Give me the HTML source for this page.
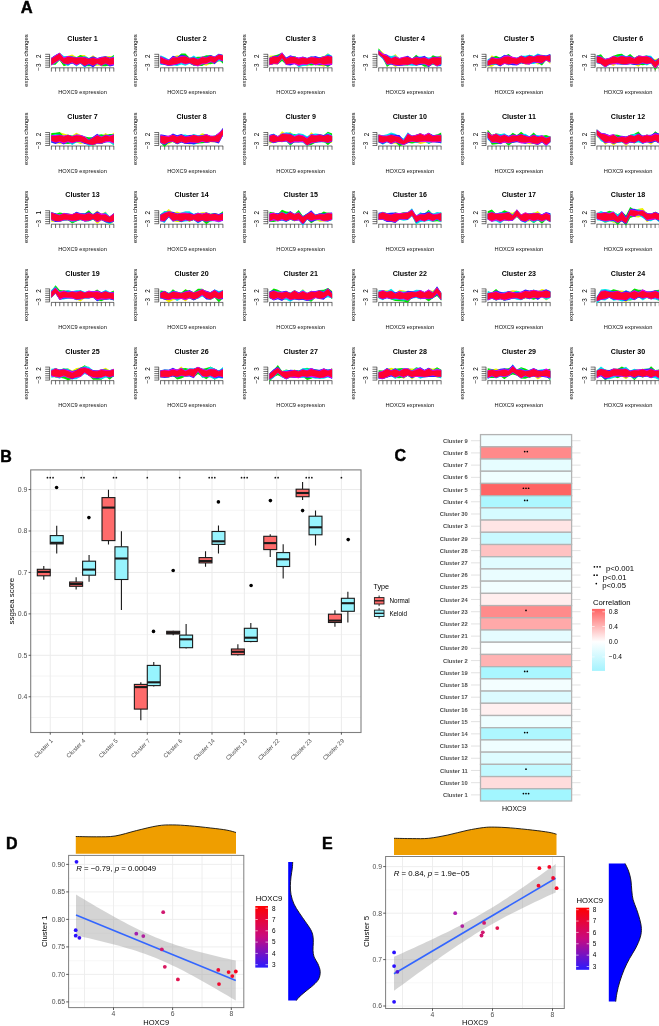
<!DOCTYPE html>
<html><head><meta charset="utf-8"><style>
html,body{margin:0;padding:0;background:#fff;}
svg{display:block;will-change:transform;}
text{font-family:"Liberation Sans", sans-serif;}
</style></head><body>
<svg width="659" height="1026" viewBox="0 0 659 1026">
<rect width="659" height="1026" fill="#fff"/>
<text x="20.80" y="13.20" font-size="16.5" fill="#000" text-anchor="start" font-weight="bold" stroke="#000" stroke-width="0.45">A</text>
<text x="82.50" y="40.90" font-size="7.1" fill="#000" text-anchor="middle" font-weight="bold">Cluster 1</text>
<text x="27.80" y="60.50" font-size="5.9" fill="#000" text-anchor="middle" transform="rotate(-90 27.8 60.5)">expression changes</text>
<text x="41.20" y="56.30" font-size="6.3" fill="#000" text-anchor="middle" transform="rotate(-90 41.2 56.3)">2</text>
<text x="41.20" y="67.10" font-size="6.3" fill="#000" text-anchor="middle" transform="rotate(-90 41.2 67.1)">−3</text>
<text x="82.50" y="94.30" font-size="5.7" fill="#111" text-anchor="middle">HOXC9 expression</text>
<path d="M45.20 54.30H49.80M45.20 56.47H49.80M45.20 58.64H49.80M45.20 60.81H49.80M45.20 62.98H49.80M45.20 65.15H49.80M45.20 67.32H49.80M49.60 54.30V67.30M51.20 67.80H114.00M51.40 67.80V71.60M55.56 67.80V71.60M59.72 67.80V71.60M63.88 67.80V71.60M68.04 67.80V71.60M72.20 67.80V71.60M76.36 67.80V71.60M80.52 67.80V71.60M84.68 67.80V71.60M88.84 67.80V71.60M93.00 67.80V71.60M97.16 67.80V71.60M101.32 67.80V71.60M105.48 67.80V71.60M109.64 67.80V71.60M113.80 67.80V71.60" stroke="#333" stroke-width="0.7" fill="none"/>
<polygon points="51.30,58.08 55.47,55.82 59.65,52.54 63.82,57.83 67.99,55.86 72.17,54.55 76.34,56.94 80.51,54.89 84.69,54.99 88.86,58.32 93.03,55.34 97.21,58.26 101.38,57.19 105.55,56.52 109.73,55.96 113.90,57.01 113.90,64.32 109.73,65.50 105.55,66.12 101.38,65.57 97.21,65.66 93.03,66.23 88.86,64.32 84.69,65.97 80.51,64.03 76.34,64.74 72.17,63.22 67.99,64.97 63.82,65.67 59.65,60.54 55.47,63.07 51.30,65.12" fill="#f0f000"/>
<polygon points="51.30,58.09 55.47,55.37 59.65,53.28 63.82,57.70 67.99,56.22 72.17,56.83 76.34,57.57 80.51,55.12 84.69,57.22 88.86,57.94 93.03,57.42 97.21,58.54 101.38,57.24 105.55,56.54 109.73,57.94 113.90,54.73 113.90,65.02 109.73,65.37 105.55,66.20 101.38,66.24 97.21,63.62 93.03,65.99 88.86,66.23 84.69,66.06 80.51,63.43 76.34,65.09 72.17,63.12 67.99,64.55 63.82,66.24 59.65,60.26 55.47,64.81 51.30,64.85" fill="#00e000"/>
<polygon points="51.30,58.60 55.47,55.18 59.65,53.12 63.82,56.08 67.99,55.98 72.17,56.40 76.34,57.03 80.51,57.40 84.69,56.07 88.86,58.09 93.03,57.21 97.21,58.38 101.38,57.38 105.55,56.88 109.73,58.25 113.90,55.89 113.90,64.83 109.73,65.62 105.55,63.68 101.38,65.67 97.21,64.32 93.03,66.51 88.86,64.16 84.69,67.82 80.51,63.61 76.34,66.42 72.17,62.77 67.99,66.17 63.82,63.52 59.65,60.09 55.47,62.98 51.30,65.62" fill="#00e8e8"/>
<polygon points="51.30,57.77 55.47,54.98 59.65,52.81 63.82,58.00 67.99,55.88 72.17,56.62 76.34,57.61 80.51,57.02 84.69,56.83 88.86,58.23 93.03,56.28 97.21,57.88 101.38,56.84 105.55,56.15 109.73,57.58 113.90,56.89 113.90,65.55 109.73,66.44 105.55,64.06 101.38,65.54 97.21,63.79 93.03,67.43 88.86,64.64 84.69,66.76 80.51,63.44 76.34,65.38 72.17,63.42 67.99,64.68 63.82,63.77 59.65,59.95 55.47,62.85 51.30,65.24" fill="#3020ff"/>
<polygon points="51.30,58.28 55.47,55.27 59.65,52.64 63.82,57.30 67.99,55.92 72.17,57.06 76.34,57.64 80.51,56.81 84.69,57.37 88.86,58.68 93.03,57.40 97.21,58.13 101.38,57.19 105.55,56.80 109.73,58.03 113.90,57.11 113.90,64.71 109.73,65.44 105.55,63.47 101.38,65.88 97.21,63.87 93.03,65.80 88.86,64.02 84.69,66.03 80.51,63.37 76.34,65.39 72.17,62.64 67.99,64.55 63.82,63.85 59.65,60.05 55.47,62.72 51.30,65.38" fill="#e000f0"/>
<polygon points="51.30,58.80 55.47,56.08 59.65,53.53 63.82,58.54 67.99,56.65 72.17,57.34 76.34,57.88 80.51,57.62 84.69,57.82 88.86,58.88 93.03,57.67 97.21,59.13 101.38,57.73 105.55,57.12 109.73,58.48 113.90,57.78 113.90,64.04 109.73,64.67 105.55,63.17 101.38,65.29 97.21,63.36 93.03,65.45 88.86,63.62 84.69,65.67 80.51,63.09 76.34,64.43 72.17,62.28 67.99,64.12 63.82,63.16 59.65,59.55 55.47,62.07 51.30,64.63" fill="#ff0032"/>
<text x="191.60" y="40.90" font-size="7.1" fill="#000" text-anchor="middle" font-weight="bold">Cluster 2</text>
<text x="136.90" y="60.50" font-size="5.9" fill="#000" text-anchor="middle" transform="rotate(-90 136.9 60.5)">expression changes</text>
<text x="150.30" y="56.30" font-size="6.3" fill="#000" text-anchor="middle" transform="rotate(-90 150.3 56.3)">2</text>
<text x="150.30" y="67.10" font-size="6.3" fill="#000" text-anchor="middle" transform="rotate(-90 150.3 67.1)">−3</text>
<text x="191.60" y="94.30" font-size="5.7" fill="#111" text-anchor="middle">HOXC9 expression</text>
<path d="M154.30 54.30H158.90M154.30 56.47H158.90M154.30 58.64H158.90M154.30 60.81H158.90M154.30 62.98H158.90M154.30 65.15H158.90M154.30 67.32H158.90M158.70 54.30V67.30M160.30 67.80H223.10M160.50 67.80V71.60M164.66 67.80V71.60M168.82 67.80V71.60M172.98 67.80V71.60M177.14 67.80V71.60M181.30 67.80V71.60M185.46 67.80V71.60M189.62 67.80V71.60M193.78 67.80V71.60M197.94 67.80V71.60M202.10 67.80V71.60M206.26 67.80V71.60M210.42 67.80V71.60M214.58 67.80V71.60M218.74 67.80V71.60M222.90 67.80V71.60" stroke="#333" stroke-width="0.7" fill="none"/>
<polygon points="160.40,56.09 164.57,58.61 168.75,59.69 172.92,56.87 177.09,55.33 181.27,56.31 185.44,55.90 189.61,58.06 193.79,57.34 197.96,59.07 202.13,56.65 206.31,57.26 210.48,54.99 214.65,56.66 218.83,54.41 223.00,54.81 223.00,61.58 218.83,61.41 214.65,63.54 210.48,63.80 206.31,65.78 202.13,64.53 197.96,65.81 193.79,65.51 189.61,63.51 185.44,64.10 181.27,63.34 177.09,64.51 172.92,64.73 168.75,65.91 164.57,64.65 160.40,63.16" fill="#f0f000"/>
<polygon points="160.40,56.03 164.57,58.54 168.75,59.99 172.92,57.15 177.09,57.24 181.27,53.54 185.44,53.62 189.61,57.73 193.79,57.20 197.96,56.83 202.13,56.66 206.31,55.16 210.48,55.22 214.65,56.83 218.83,53.96 223.00,55.16 223.00,63.82 218.83,59.71 214.65,63.05 210.48,64.14 206.31,63.62 202.13,66.05 197.96,65.75 193.79,65.69 189.61,63.72 185.44,64.33 181.27,62.96 177.09,64.29 172.92,65.22 168.75,65.64 164.57,64.32 160.40,63.24" fill="#00e000"/>
<polygon points="160.40,55.19 164.57,56.90 168.75,59.37 172.92,57.13 177.09,57.50 181.27,56.09 185.44,56.37 189.61,58.22 193.79,55.51 197.96,58.61 202.13,56.66 206.31,57.10 210.48,55.62 214.65,56.29 218.83,53.71 223.00,54.97 223.00,61.15 218.83,61.24 214.65,63.11 210.48,61.84 206.31,63.73 202.13,64.15 197.96,66.32 193.79,65.13 189.61,63.84 185.44,65.64 181.27,64.41 177.09,66.00 172.92,65.23 168.75,66.01 164.57,64.35 160.40,65.23" fill="#00e8e8"/>
<polygon points="160.40,56.20 164.57,58.02 168.75,59.72 172.92,55.78 177.09,56.93 181.27,54.80 185.44,55.38 189.61,58.11 193.79,57.27 197.96,58.82 202.13,56.64 206.31,56.84 210.48,55.07 214.65,56.86 218.83,53.74 223.00,55.03 223.00,61.83 218.83,59.79 214.65,64.23 210.48,61.60 206.31,63.71 202.13,64.12 197.96,65.60 193.79,65.58 189.61,63.34 185.44,64.11 181.27,62.85 177.09,64.71 172.92,65.22 168.75,66.00 164.57,65.12 160.40,63.67" fill="#3020ff"/>
<polygon points="160.40,55.99 164.57,58.48 168.75,59.80 172.92,56.96 177.09,57.33 181.27,55.92 185.44,56.19 189.61,58.07 193.79,57.44 197.96,59.24 202.13,56.40 206.31,57.53 210.48,55.68 214.65,56.52 218.83,54.25 223.00,55.14 223.00,61.20 218.83,59.63 214.65,62.85 210.48,62.18 206.31,64.15 202.13,64.19 197.96,66.41 193.79,65.23 189.61,63.28 185.44,64.53 181.27,62.90 177.09,64.26 172.92,65.20 168.75,65.84 164.57,64.50 160.40,63.44" fill="#e000f0"/>
<polygon points="160.40,56.92 164.57,59.15 168.75,60.39 172.92,57.60 177.09,57.75 181.27,56.72 185.44,56.58 189.61,58.60 193.79,57.66 197.96,59.46 202.13,57.30 206.31,57.74 210.48,55.94 214.65,57.25 218.83,54.68 223.00,55.46 223.00,60.68 218.83,59.09 214.65,62.68 210.48,61.37 206.31,63.27 202.13,63.54 197.96,65.39 193.79,64.81 189.61,62.78 185.44,63.84 181.27,62.61 177.09,63.82 172.92,64.50 168.75,65.24 164.57,64.07 160.40,62.94" fill="#ff0032"/>
<text x="300.70" y="40.90" font-size="7.1" fill="#000" text-anchor="middle" font-weight="bold">Cluster 3</text>
<text x="246.00" y="60.50" font-size="5.9" fill="#000" text-anchor="middle" transform="rotate(-90 246.0 60.5)">expression changes</text>
<text x="259.40" y="56.30" font-size="6.3" fill="#000" text-anchor="middle" transform="rotate(-90 259.4 56.3)">2</text>
<text x="259.40" y="67.10" font-size="6.3" fill="#000" text-anchor="middle" transform="rotate(-90 259.4 67.1)">−3</text>
<text x="300.70" y="94.30" font-size="5.7" fill="#111" text-anchor="middle">HOXC9 expression</text>
<path d="M263.40 54.30H268.00M263.40 56.47H268.00M263.40 58.64H268.00M263.40 60.81H268.00M263.40 62.98H268.00M263.40 65.15H268.00M263.40 67.32H268.00M267.80 54.30V67.30M269.40 67.80H332.20M269.60 67.80V71.60M273.76 67.80V71.60M277.92 67.80V71.60M282.08 67.80V71.60M286.24 67.80V71.60M290.40 67.80V71.60M294.56 67.80V71.60M298.72 67.80V71.60M302.88 67.80V71.60M307.04 67.80V71.60M311.20 67.80V71.60M315.36 67.80V71.60M319.52 67.80V71.60M323.68 67.80V71.60M327.84 67.80V71.60M332.00 67.80V71.60" stroke="#333" stroke-width="0.7" fill="none"/>
<polygon points="269.50,55.66 273.67,55.62 277.85,56.28 282.02,52.79 286.19,58.52 290.37,56.38 294.54,55.94 298.71,58.38 302.89,56.65 307.06,58.22 311.23,56.71 315.41,57.43 319.58,57.22 323.75,56.33 327.93,53.25 332.10,56.42 332.10,63.76 327.93,64.70 323.75,66.84 319.58,65.24 315.41,65.18 311.23,63.73 307.06,66.41 302.89,63.97 298.71,65.29 294.54,63.50 290.37,63.88 286.19,65.12 282.02,58.42 277.85,64.23 273.67,64.19 269.50,65.32" fill="#f0f000"/>
<polygon points="269.50,57.98 273.67,55.73 277.85,54.58 282.02,52.78 286.19,57.99 290.37,56.25 294.54,55.95 298.71,58.15 302.89,57.00 307.06,58.20 311.23,56.67 315.41,57.26 319.58,57.33 323.75,56.37 327.93,55.40 332.10,56.78 332.10,64.09 327.93,66.92 323.75,65.09 319.58,65.47 315.41,65.12 311.23,65.51 307.06,64.91 302.89,64.44 298.71,65.63 294.54,63.17 290.37,64.50 286.19,64.75 282.02,61.08 277.85,64.18 273.67,63.90 269.50,64.78" fill="#00e000"/>
<polygon points="269.50,58.28 273.67,56.10 277.85,56.48 282.02,52.73 286.19,57.92 290.37,56.56 294.54,56.32 298.71,57.96 302.89,56.88 307.06,58.08 311.23,56.11 315.41,57.44 319.58,57.82 323.75,56.63 327.93,53.54 332.10,56.04 332.10,63.74 327.93,64.06 323.75,65.20 319.58,63.94 315.41,65.14 311.23,63.45 307.06,65.83 302.89,66.12 298.71,67.19 294.54,63.56 290.37,64.61 286.19,65.06 282.02,58.97 277.85,63.88 273.67,63.97 269.50,64.80" fill="#00e8e8"/>
<polygon points="269.50,57.64 273.67,56.02 277.85,55.87 282.02,52.87 286.19,57.59 290.37,55.34 294.54,56.67 298.71,57.85 302.89,56.62 307.06,58.03 311.23,56.92 315.41,55.95 319.58,57.52 323.75,56.41 327.93,54.93 332.10,55.88 332.10,64.79 327.93,65.72 323.75,64.91 319.58,64.64 315.41,65.31 311.23,63.46 307.06,64.60 302.89,64.44 298.71,65.54 294.54,63.91 290.37,65.41 286.19,64.94 282.02,58.22 277.85,63.88 273.67,63.92 269.50,65.36" fill="#3020ff"/>
<polygon points="269.50,57.87 273.67,56.29 277.85,56.67 282.02,52.21 286.19,58.40 290.37,56.28 294.54,56.72 298.71,57.54 302.89,56.94 307.06,57.92 311.23,56.51 315.41,57.55 319.58,57.92 323.75,56.35 327.93,55.70 332.10,56.38 332.10,64.69 327.93,64.91 323.75,65.15 319.58,64.17 315.41,65.17 311.23,63.25 307.06,64.77 302.89,64.86 298.71,65.95 294.54,64.30 290.37,63.94 286.19,64.88 282.02,58.46 277.85,64.45 273.67,64.11 269.50,65.34" fill="#e000f0"/>
<polygon points="269.50,58.60 273.67,56.60 277.85,57.00 282.02,53.55 286.19,58.74 290.37,57.11 294.54,56.88 298.71,58.66 302.89,57.56 307.06,58.51 311.23,57.20 315.41,57.66 319.58,58.17 323.75,57.03 327.93,55.99 332.10,57.03 332.10,63.39 327.93,63.79 323.75,64.40 319.58,62.99 315.41,64.29 311.23,63.07 307.06,64.16 302.89,63.65 298.71,64.73 294.54,62.96 290.37,63.53 286.19,64.29 282.02,57.90 277.85,63.57 273.67,63.49 269.50,64.47" fill="#ff0032"/>
<text x="409.80" y="40.90" font-size="7.1" fill="#000" text-anchor="middle" font-weight="bold">Cluster 4</text>
<text x="355.10" y="60.50" font-size="5.9" fill="#000" text-anchor="middle" transform="rotate(-90 355.09999999999997 60.5)">expression changes</text>
<text x="368.50" y="56.30" font-size="6.3" fill="#000" text-anchor="middle" transform="rotate(-90 368.49999999999994 56.3)">2</text>
<text x="368.50" y="67.10" font-size="6.3" fill="#000" text-anchor="middle" transform="rotate(-90 368.49999999999994 67.1)">−3</text>
<text x="409.80" y="94.30" font-size="5.7" fill="#111" text-anchor="middle">HOXC9 expression</text>
<path d="M372.50 54.30H377.10M372.50 56.47H377.10M372.50 58.64H377.10M372.50 60.81H377.10M372.50 62.98H377.10M372.50 65.15H377.10M372.50 67.32H377.10M376.90 54.30V67.30M378.50 67.80H441.30M378.70 67.80V71.60M382.86 67.80V71.60M387.02 67.80V71.60M391.18 67.80V71.60M395.34 67.80V71.60M399.50 67.80V71.60M403.66 67.80V71.60M407.82 67.80V71.60M411.98 67.80V71.60M416.14 67.80V71.60M420.30 67.80V71.60M424.46 67.80V71.60M428.62 67.80V71.60M432.78 67.80V71.60M436.94 67.80V71.60M441.10 67.80V71.60" stroke="#333" stroke-width="0.7" fill="none"/>
<polygon points="378.60,48.38 382.77,52.23 386.95,55.81 391.12,57.99 395.29,54.07 399.47,58.53 403.64,57.38 407.81,56.52 411.99,58.17 416.16,57.17 420.33,57.78 424.51,57.29 428.68,58.67 432.85,57.11 437.03,57.06 441.20,55.28 441.20,64.74 437.03,65.85 432.85,63.83 428.68,66.05 424.51,64.04 420.33,64.20 416.16,65.70 411.99,63.79 407.81,65.23 403.64,64.98 399.47,65.24 395.29,67.08 391.12,64.17 386.95,64.92 382.77,58.43 378.60,55.13" fill="#f0f000"/>
<polygon points="378.60,48.13 382.77,53.99 386.95,55.61 391.12,58.12 395.29,56.55 399.47,58.58 403.64,57.20 407.81,56.69 411.99,58.70 416.16,54.76 420.33,58.13 424.51,56.86 428.68,59.23 432.85,55.19 437.03,56.85 441.20,56.86 441.20,64.17 437.03,66.32 432.85,64.39 428.68,66.51 424.51,66.85 420.33,64.26 416.16,65.50 411.99,63.85 407.81,65.45 403.64,65.25 399.47,65.79 395.29,65.08 391.12,64.09 386.95,66.92 382.77,58.34 378.60,54.96" fill="#00e000"/>
<polygon points="378.60,48.67 382.77,54.12 386.95,55.34 391.12,56.10 395.29,55.30 399.47,58.66 403.64,57.38 407.81,56.64 411.99,58.48 416.16,56.98 420.33,56.42 424.51,56.78 428.68,57.58 432.85,57.09 437.03,56.84 441.20,57.02 441.20,65.89 437.03,66.42 432.85,64.09 428.68,65.86 424.51,64.48 420.33,64.19 416.16,65.83 411.99,65.81 407.81,65.21 403.64,65.32 399.47,65.82 395.29,65.24 391.12,64.36 386.95,64.79 382.77,59.29 378.60,55.02" fill="#00e8e8"/>
<polygon points="378.60,50.10 382.77,53.67 386.95,54.50 391.12,58.04 395.29,56.70 399.47,58.03 403.64,56.98 407.81,55.76 411.99,58.51 416.16,56.29 420.33,57.34 424.51,55.83 428.68,59.10 432.85,57.01 437.03,56.72 441.20,56.79 441.20,65.14 437.03,66.30 432.85,63.86 428.68,67.14 424.51,64.05 420.33,65.08 416.16,65.44 411.99,63.93 407.81,64.93 403.64,65.28 399.47,65.94 395.29,65.87 391.12,64.48 386.95,64.58 382.77,58.28 378.60,54.55" fill="#3020ff"/>
<polygon points="378.60,50.20 382.77,53.57 386.95,55.23 391.12,58.13 395.29,56.18 399.47,58.11 403.64,56.76 407.81,56.73 411.99,58.31 416.16,57.04 420.33,57.78 424.51,57.26 428.68,58.75 432.85,57.19 437.03,57.43 441.20,56.85 441.20,64.19 437.03,66.41 432.85,63.81 428.68,66.19 424.51,64.22 420.33,63.90 416.16,65.35 411.99,64.10 407.81,64.84 403.64,65.18 399.47,65.50 395.29,65.45 391.12,63.81 386.95,64.77 382.77,57.73 378.60,55.00" fill="#e000f0"/>
<polygon points="378.60,51.04 382.77,54.66 386.95,56.06 391.12,58.57 395.29,56.91 399.47,59.06 403.64,57.59 407.81,57.11 411.99,59.06 416.16,57.40 420.33,58.34 424.51,57.69 428.68,59.43 432.85,57.61 437.03,57.76 441.20,57.68 441.20,63.77 437.03,65.64 432.85,63.44 428.68,65.58 424.51,63.78 420.33,63.48 416.16,65.03 411.99,63.55 407.81,64.72 403.64,64.52 399.47,64.98 395.29,64.64 391.12,63.61 386.95,64.02 382.77,57.53 378.60,54.34" fill="#ff0032"/>
<text x="518.90" y="40.90" font-size="7.1" fill="#000" text-anchor="middle" font-weight="bold">Cluster 5</text>
<text x="464.20" y="60.50" font-size="5.9" fill="#000" text-anchor="middle" transform="rotate(-90 464.2 60.5)">expression changes</text>
<text x="477.60" y="56.30" font-size="6.3" fill="#000" text-anchor="middle" transform="rotate(-90 477.59999999999997 56.3)">2</text>
<text x="477.60" y="67.10" font-size="6.3" fill="#000" text-anchor="middle" transform="rotate(-90 477.59999999999997 67.1)">−3</text>
<text x="518.90" y="94.30" font-size="5.7" fill="#111" text-anchor="middle">HOXC9 expression</text>
<path d="M481.60 54.30H486.20M481.60 56.47H486.20M481.60 58.64H486.20M481.60 60.81H486.20M481.60 62.98H486.20M481.60 65.15H486.20M481.60 67.32H486.20M486.00 54.30V67.30M487.60 67.80H550.40M487.80 67.80V71.60M491.96 67.80V71.60M496.12 67.80V71.60M500.28 67.80V71.60M504.44 67.80V71.60M508.60 67.80V71.60M512.76 67.80V71.60M516.92 67.80V71.60M521.08 67.80V71.60M525.24 67.80V71.60M529.40 67.80V71.60M533.56 67.80V71.60M537.72 67.80V71.60M541.88 67.80V71.60M546.04 67.80V71.60M550.20 67.80V71.60" stroke="#333" stroke-width="0.7" fill="none"/>
<polygon points="487.70,60.78 491.87,55.16 496.05,58.15 500.22,57.89 504.39,56.29 508.57,55.83 512.74,57.17 516.91,58.18 521.09,55.94 525.26,56.87 529.43,55.02 533.61,56.78 537.78,55.32 541.95,55.10 546.13,55.86 550.30,54.71 550.30,63.95 546.13,60.62 541.95,63.62 537.78,64.58 533.61,61.94 529.43,64.33 525.26,64.45 521.09,62.64 516.91,64.70 512.74,64.13 508.57,64.81 504.39,63.70 500.22,66.01 496.05,64.10 491.87,66.69 487.70,66.29" fill="#f0f000"/>
<polygon points="487.70,60.49 491.87,57.58 496.05,55.79 500.22,57.86 504.39,55.89 508.57,54.01 512.74,57.17 516.91,57.98 521.09,55.86 525.26,57.16 529.43,54.76 533.61,56.00 537.78,55.50 541.95,54.68 546.13,56.00 550.30,54.99 550.30,62.10 546.13,60.18 541.95,65.49 537.78,63.05 533.61,61.87 529.43,63.99 525.26,64.35 521.09,63.13 516.91,65.05 512.74,64.10 508.57,64.56 504.39,63.28 500.22,65.69 496.05,64.09 491.87,64.92 487.70,66.16" fill="#00e000"/>
<polygon points="487.70,58.96 491.87,57.74 496.05,58.56 500.22,58.03 504.39,54.66 508.57,55.77 512.74,57.44 516.91,57.46 521.09,55.74 525.26,55.79 529.43,54.82 533.61,55.98 537.78,53.42 541.95,55.21 546.13,55.86 550.30,54.28 550.30,61.86 546.13,60.11 541.95,63.72 537.78,62.84 533.61,63.94 529.43,63.80 525.26,64.04 521.09,62.75 516.91,64.82 512.74,63.71 508.57,65.41 504.39,63.53 500.22,66.06 496.05,64.64 491.87,64.45 487.70,66.28" fill="#00e8e8"/>
<polygon points="487.70,60.80 491.87,56.75 496.05,58.18 500.22,57.44 504.39,54.98 508.57,55.48 512.74,57.23 516.91,58.18 521.09,55.51 525.26,57.10 529.43,55.20 533.61,56.46 537.78,54.38 541.95,54.92 546.13,55.42 550.30,54.11 550.30,62.64 546.13,60.23 541.95,63.87 537.78,62.97 533.61,62.44 529.43,64.54 525.26,63.90 521.09,63.26 516.91,65.43 512.74,65.34 508.57,64.55 504.39,63.65 500.22,66.44 496.05,64.24 491.87,64.25 487.70,65.80" fill="#3020ff"/>
<polygon points="487.70,60.52 491.87,57.57 496.05,57.96 500.22,58.42 504.39,55.80 508.57,55.42 512.74,56.76 516.91,57.87 521.09,56.02 525.26,57.51 529.43,55.65 533.61,56.55 537.78,55.37 541.95,55.21 546.13,56.12 550.30,55.07 550.30,62.37 546.13,60.58 541.95,63.32 537.78,62.91 533.61,62.04 529.43,64.39 525.26,64.16 521.09,62.79 516.91,64.93 512.74,63.58 508.57,64.74 504.39,63.88 500.22,65.55 496.05,63.81 491.87,64.46 487.70,65.86" fill="#e000f0"/>
<polygon points="487.70,61.39 491.87,58.09 496.05,58.90 500.22,58.81 504.39,56.68 508.57,56.50 512.74,58.05 516.91,58.42 521.09,56.19 525.26,57.70 529.43,55.75 533.61,57.00 537.78,55.75 541.95,55.64 546.13,56.29 550.30,55.22 550.30,61.50 546.13,59.78 541.95,62.89 537.78,62.06 533.61,61.65 529.43,63.53 525.26,63.67 521.09,62.41 516.91,64.31 512.74,63.36 508.57,64.31 504.39,62.99 500.22,65.33 496.05,63.67 491.87,63.92 487.70,65.46" fill="#ff0032"/>
<text x="628.00" y="40.90" font-size="7.1" fill="#000" text-anchor="middle" font-weight="bold">Cluster 6</text>
<text x="573.30" y="60.50" font-size="5.9" fill="#000" text-anchor="middle" transform="rotate(-90 573.3 60.5)">expression changes</text>
<text x="586.70" y="56.30" font-size="6.3" fill="#000" text-anchor="middle" transform="rotate(-90 586.7 56.3)">2</text>
<text x="586.70" y="67.10" font-size="6.3" fill="#000" text-anchor="middle" transform="rotate(-90 586.7 67.1)">−3</text>
<text x="628.00" y="94.30" font-size="5.7" fill="#111" text-anchor="middle">HOXC9 expression</text>
<path d="M590.70 54.30H595.30M590.70 56.47H595.30M590.70 58.64H595.30M590.70 60.81H595.30M590.70 62.98H595.30M590.70 65.15H595.30M590.70 67.32H595.30M595.10 54.30V67.30M596.70 67.80H659.50M596.90 67.80V71.60M601.06 67.80V71.60M605.22 67.80V71.60M609.38 67.80V71.60M613.54 67.80V71.60M617.70 67.80V71.60M621.86 67.80V71.60M626.02 67.80V71.60M630.18 67.80V71.60M634.34 67.80V71.60M638.50 67.80V71.60M642.66 67.80V71.60M646.82 67.80V71.60M650.98 67.80V71.60M655.14 67.80V71.60M659.30 67.80V71.60" stroke="#333" stroke-width="0.7" fill="none"/>
<polygon points="596.80,56.08 600.97,56.80 605.15,58.77 609.32,58.16 613.49,56.08 617.67,56.77 621.84,55.27 626.01,56.33 630.19,56.10 634.36,58.22 638.53,55.72 642.71,56.21 646.88,55.75 651.05,57.67 655.23,59.33 659.40,57.81 659.40,63.30 655.23,70.30 651.05,63.36 646.88,64.13 642.71,63.04 638.53,66.69 634.36,64.72 630.19,63.68 626.01,64.51 621.84,64.48 617.67,63.13 613.49,66.07 609.32,64.30 605.15,67.40 600.97,63.89 596.80,62.57" fill="#f0f000"/>
<polygon points="596.80,55.76 600.97,54.29 605.15,59.39 609.32,58.36 613.49,55.86 617.67,54.30 621.84,53.76 626.01,56.63 630.19,53.95 634.36,57.73 638.53,55.47 642.71,56.33 646.88,55.50 651.05,57.81 655.23,60.81 659.40,58.34 659.40,63.47 655.23,70.39 651.05,62.87 646.88,64.54 642.71,65.31 638.53,64.46 634.36,64.68 630.19,63.99 626.01,64.75 621.84,64.72 617.67,63.43 613.49,63.60 609.32,64.55 605.15,67.10 600.97,63.87 596.80,63.13" fill="#00e000"/>
<polygon points="596.80,56.45 600.97,56.54 605.15,58.84 609.32,58.29 613.49,55.88 617.67,56.87 621.84,55.12 626.01,56.06 630.19,56.19 634.36,58.48 638.53,55.51 642.71,56.17 646.88,55.38 651.05,55.82 655.23,60.69 659.40,58.43 659.40,63.37 655.23,68.26 651.05,63.33 646.88,65.57 642.71,63.43 638.53,64.47 634.36,64.21 630.19,64.33 626.01,64.38 621.84,65.03 617.67,63.66 613.49,63.57 609.32,64.72 605.15,67.69 600.97,63.91 596.80,63.33" fill="#00e8e8"/>
<polygon points="596.80,55.18 600.97,56.72 605.15,59.06 609.32,58.06 613.49,55.63 617.67,57.27 621.84,55.25 626.01,56.86 630.19,56.07 634.36,58.12 638.53,55.74 642.71,56.04 646.88,55.69 651.05,57.01 655.23,60.79 659.40,57.57 659.40,63.89 655.23,68.45 651.05,63.59 646.88,64.18 642.71,63.55 638.53,64.72 634.36,64.91 630.19,64.02 626.01,64.63 621.84,64.36 617.67,64.49 613.49,63.64 609.32,64.72 605.15,67.16 600.97,64.32 596.80,62.69" fill="#3020ff"/>
<polygon points="596.80,56.21 600.97,56.86 605.15,59.06 609.32,57.86 613.49,55.98 617.67,57.07 621.84,56.10 626.01,56.80 630.19,56.38 634.36,57.97 638.53,55.62 642.71,55.91 646.88,56.00 651.05,57.89 655.23,61.48 659.40,58.50 659.40,64.26 655.23,68.48 651.05,63.21 646.88,64.14 642.71,63.06 638.53,64.54 634.36,64.04 630.19,64.07 626.01,64.72 621.84,64.37 617.67,63.81 613.49,64.38 609.32,64.45 605.15,67.52 600.97,63.81 596.80,62.91" fill="#e000f0"/>
<polygon points="596.80,56.68 600.97,57.31 605.15,59.66 609.32,58.72 613.49,56.53 617.67,57.48 621.84,56.21 626.01,57.14 630.19,56.90 634.36,58.69 638.53,56.24 642.71,56.73 646.88,56.39 651.05,58.06 655.23,61.76 659.40,58.69 659.40,62.89 655.23,67.80 651.05,62.64 646.88,63.63 642.71,62.49 638.53,64.06 634.36,63.80 630.19,63.29 626.01,63.94 621.84,64.14 617.67,62.78 613.49,63.35 609.32,63.89 605.15,66.83 600.97,63.64 596.80,62.33" fill="#ff0032"/>
<text x="82.50" y="119.10" font-size="7.1" fill="#000" text-anchor="middle" font-weight="bold">Cluster 7</text>
<text x="27.80" y="138.70" font-size="5.9" fill="#000" text-anchor="middle" transform="rotate(-90 27.8 138.7)">expression changes</text>
<text x="41.20" y="134.50" font-size="6.3" fill="#000" text-anchor="middle" transform="rotate(-90 41.2 134.5)">2</text>
<text x="41.20" y="145.30" font-size="6.3" fill="#000" text-anchor="middle" transform="rotate(-90 41.2 145.3)">−3</text>
<text x="82.50" y="172.50" font-size="5.7" fill="#111" text-anchor="middle">HOXC9 expression</text>
<path d="M45.20 132.50H49.80M45.20 134.67H49.80M45.20 136.84H49.80M45.20 139.01H49.80M45.20 141.18H49.80M45.20 143.35H49.80M45.20 145.52H49.80M49.60 132.50V145.50M51.20 146.00H114.00M51.40 146.00V149.80M55.56 146.00V149.80M59.72 146.00V149.80M63.88 146.00V149.80M68.04 146.00V149.80M72.20 146.00V149.80M76.36 146.00V149.80M80.52 146.00V149.80M84.68 146.00V149.80M88.84 146.00V149.80M93.00 146.00V149.80M97.16 146.00V149.80M101.32 146.00V149.80M105.48 146.00V149.80M109.64 146.00V149.80M113.80 146.00V149.80" stroke="#333" stroke-width="0.7" fill="none"/>
<polygon points="51.30,133.51 55.47,135.38 59.65,132.28 63.82,133.58 67.99,134.74 72.17,135.58 76.34,132.78 80.51,134.84 84.69,136.98 88.86,139.68 93.03,137.35 97.21,134.48 101.38,136.31 105.55,133.03 109.73,135.84 113.90,132.47 113.90,145.61 109.73,141.31 105.55,141.97 101.38,143.92 97.21,143.55 93.03,145.05 88.86,144.73 84.69,143.00 80.51,144.11 76.34,142.50 72.17,142.81 67.99,142.18 63.82,143.28 59.65,144.09 55.47,143.01 51.30,141.79" fill="#f0f000"/>
<polygon points="51.30,133.04 55.47,132.78 59.65,132.07 63.82,136.21 67.99,134.68 72.17,135.69 76.34,134.97 80.51,134.94 84.69,136.43 88.86,137.17 93.03,137.17 97.21,135.11 101.38,134.34 105.55,135.34 109.73,134.06 113.90,134.11 113.90,145.58 109.73,141.32 105.55,142.06 101.38,144.05 97.21,143.76 93.03,145.52 88.86,144.75 84.69,143.03 80.51,141.57 76.34,142.19 72.17,143.32 67.99,144.11 63.82,143.50 59.65,141.66 55.47,142.96 51.30,141.10" fill="#00e000"/>
<polygon points="51.30,135.18 55.47,134.30 59.65,134.50 63.82,135.75 67.99,134.73 72.17,135.85 76.34,134.61 80.51,134.99 84.69,136.18 88.86,139.79 93.03,137.24 97.21,134.55 101.38,136.31 105.55,135.05 109.73,135.56 113.90,133.98 113.90,145.16 109.73,142.78 105.55,142.11 101.38,143.87 97.21,143.29 93.03,144.93 88.86,146.09 84.69,143.21 80.51,142.26 76.34,142.39 72.17,144.97 67.99,142.04 63.82,143.18 59.65,141.61 55.47,143.22 51.30,142.98" fill="#00e8e8"/>
<polygon points="51.30,135.04 55.47,135.11 59.65,134.39 63.82,136.17 67.99,134.68 72.17,136.31 76.34,134.79 80.51,135.26 84.69,136.78 88.86,139.61 93.03,136.76 97.21,133.66 101.38,136.90 105.55,134.57 109.73,135.52 113.90,134.57 113.90,143.35 109.73,141.60 105.55,142.43 101.38,143.79 97.21,143.21 93.03,145.08 88.86,144.55 84.69,143.94 80.51,142.05 76.34,142.00 72.17,143.40 67.99,142.05 63.82,144.59 59.65,142.61 55.47,144.03 51.30,142.50" fill="#3020ff"/>
<polygon points="51.30,135.36 55.47,135.06 59.65,134.91 63.82,135.49 67.99,134.77 72.17,136.25 76.34,134.53 80.51,135.09 84.69,136.36 88.86,140.04 93.03,137.62 97.21,134.64 101.38,136.38 105.55,135.24 109.73,135.83 113.90,134.17 113.90,143.70 109.73,141.91 105.55,142.32 101.38,143.57 97.21,143.64 93.03,144.91 88.86,144.49 84.69,142.89 80.51,141.70 76.34,141.77 72.17,143.27 67.99,141.90 63.82,143.38 59.65,142.12 55.47,142.46 51.30,141.26" fill="#e000f0"/>
<polygon points="51.30,136.01 55.47,135.96 59.65,135.24 63.82,136.56 67.99,135.03 72.17,136.57 76.34,135.60 80.51,135.65 84.69,137.18 88.86,140.32 93.03,137.75 97.21,135.44 101.38,137.27 105.55,135.60 109.73,136.57 113.90,135.07 113.90,142.74 109.73,140.96 105.55,141.25 101.38,143.26 97.21,142.94 93.03,144.70 88.86,144.21 84.69,142.78 80.51,141.36 76.34,141.53 72.17,142.50 67.99,141.18 63.82,142.60 59.65,141.35 55.47,142.34 51.30,140.86" fill="#ff0032"/>
<text x="191.60" y="119.10" font-size="7.1" fill="#000" text-anchor="middle" font-weight="bold">Cluster 8</text>
<text x="136.90" y="138.70" font-size="5.9" fill="#000" text-anchor="middle" transform="rotate(-90 136.9 138.7)">expression changes</text>
<text x="150.30" y="134.50" font-size="6.3" fill="#000" text-anchor="middle" transform="rotate(-90 150.3 134.5)">2</text>
<text x="150.30" y="145.30" font-size="6.3" fill="#000" text-anchor="middle" transform="rotate(-90 150.3 145.3)">−3</text>
<text x="191.60" y="172.50" font-size="5.7" fill="#111" text-anchor="middle">HOXC9 expression</text>
<path d="M154.30 132.50H158.90M154.30 134.67H158.90M154.30 136.84H158.90M154.30 139.01H158.90M154.30 141.18H158.90M154.30 143.35H158.90M154.30 145.52H158.90M158.70 132.50V145.50M160.30 146.00H223.10M160.50 146.00V149.80M164.66 146.00V149.80M168.82 146.00V149.80M172.98 146.00V149.80M177.14 146.00V149.80M181.30 146.00V149.80M185.46 146.00V149.80M189.62 146.00V149.80M193.78 146.00V149.80M197.94 146.00V149.80M202.10 146.00V149.80M206.26 146.00V149.80M210.42 146.00V149.80M214.58 146.00V149.80M218.74 146.00V149.80M222.90 146.00V149.80" stroke="#333" stroke-width="0.7" fill="none"/>
<polygon points="160.40,135.20 164.57,135.88 168.75,136.30 172.92,134.36 177.09,136.32 181.27,134.51 185.44,136.75 189.61,135.53 193.79,134.81 197.96,135.91 202.13,133.20 206.31,134.49 210.48,136.21 214.65,135.65 218.83,133.47 223.00,129.00 223.00,135.32 218.83,142.23 214.65,142.15 210.48,142.21 206.31,142.79 202.13,141.36 197.96,143.71 193.79,142.91 189.61,144.51 185.44,143.54 181.27,142.23 177.09,144.18 172.92,142.05 168.75,144.19 164.57,144.64 160.40,142.74" fill="#f0f000"/>
<polygon points="160.40,135.45 164.57,135.75 168.75,136.15 172.92,134.40 177.09,136.37 181.27,134.51 185.44,136.46 189.61,135.82 193.79,134.90 197.96,135.63 202.13,135.12 206.31,134.21 210.48,136.29 214.65,135.84 218.83,133.37 223.00,128.57 223.00,135.13 218.83,142.36 214.65,141.98 210.48,141.95 206.31,142.71 202.13,143.37 197.96,143.43 193.79,143.19 189.61,142.71 185.44,143.43 181.27,142.00 177.09,144.33 172.92,141.99 168.75,142.53 164.57,146.96 160.40,142.50" fill="#00e000"/>
<polygon points="160.40,134.98 164.57,135.59 168.75,136.15 172.92,134.44 177.09,135.65 181.27,134.80 185.44,134.56 189.61,136.10 193.79,134.02 197.96,135.35 202.13,135.20 206.31,134.26 210.48,136.37 214.65,135.68 218.83,133.03 223.00,128.81 223.00,135.46 218.83,142.60 214.65,141.71 210.48,141.75 206.31,142.39 202.13,141.68 197.96,143.39 193.79,144.64 189.61,142.95 185.44,143.80 181.27,141.93 177.09,144.35 172.92,141.90 168.75,142.60 164.57,144.54 160.40,143.34" fill="#00e8e8"/>
<polygon points="160.40,134.27 164.57,135.02 168.75,136.35 172.92,133.62 177.09,135.29 181.27,134.08 185.44,136.08 189.61,135.05 193.79,134.72 197.96,135.76 202.13,135.30 206.31,134.22 210.48,135.66 214.65,135.73 218.83,133.60 223.00,127.75 223.00,135.49 218.83,143.57 214.65,142.28 210.48,141.99 206.31,142.93 202.13,141.40 197.96,143.08 193.79,144.17 189.61,143.89 185.44,144.04 181.27,142.54 177.09,144.14 172.92,141.41 168.75,142.83 164.57,144.98 160.40,142.63" fill="#3020ff"/>
<polygon points="160.40,134.90 164.57,136.00 168.75,135.59 172.92,134.84 177.09,136.29 181.27,134.98 185.44,136.51 189.61,136.04 193.79,134.75 197.96,135.67 202.13,135.43 206.31,134.04 210.48,135.84 214.65,136.07 218.83,132.57 223.00,129.32 223.00,135.31 218.83,142.28 214.65,141.53 210.48,141.67 206.31,142.73 202.13,141.73 197.96,142.94 193.79,142.78 189.61,142.51 185.44,143.57 181.27,141.86 177.09,143.69 172.92,141.66 168.75,142.08 164.57,144.21 160.40,143.03" fill="#e000f0"/>
<polygon points="160.40,136.03 164.57,136.27 168.75,136.90 172.92,134.99 177.09,136.67 181.27,135.20 185.44,137.06 189.61,136.42 193.79,135.10 197.96,136.32 202.13,136.07 206.31,134.91 210.48,136.61 214.65,136.30 218.83,133.94 223.00,129.48 223.00,134.53 218.83,141.67 214.65,141.41 210.48,141.52 206.31,142.06 202.13,140.94 197.96,142.72 193.79,142.31 189.61,141.90 185.44,143.11 181.27,141.40 177.09,143.55 172.92,141.15 168.75,141.68 164.57,143.90 160.40,142.26" fill="#ff0032"/>
<text x="300.70" y="119.10" font-size="7.1" fill="#000" text-anchor="middle" font-weight="bold">Cluster 9</text>
<text x="246.00" y="138.70" font-size="5.9" fill="#000" text-anchor="middle" transform="rotate(-90 246.0 138.7)">expression changes</text>
<text x="259.40" y="134.50" font-size="6.3" fill="#000" text-anchor="middle" transform="rotate(-90 259.4 134.5)">2</text>
<text x="259.40" y="145.30" font-size="6.3" fill="#000" text-anchor="middle" transform="rotate(-90 259.4 145.3)">−3</text>
<text x="300.70" y="172.50" font-size="5.7" fill="#111" text-anchor="middle">HOXC9 expression</text>
<path d="M263.40 132.50H268.00M263.40 134.67H268.00M263.40 136.84H268.00M263.40 139.01H268.00M263.40 141.18H268.00M263.40 143.35H268.00M263.40 145.52H268.00M267.80 132.50V145.50M269.40 146.00H332.20M269.60 146.00V149.80M273.76 146.00V149.80M277.92 146.00V149.80M282.08 146.00V149.80M286.24 146.00V149.80M290.40 146.00V149.80M294.56 146.00V149.80M298.72 146.00V149.80M302.88 146.00V149.80M307.04 146.00V149.80M311.20 146.00V149.80M315.36 146.00V149.80M319.52 146.00V149.80M323.68 146.00V149.80M327.84 146.00V149.80M332.00 146.00V149.80" stroke="#333" stroke-width="0.7" fill="none"/>
<polygon points="269.50,135.57 273.67,134.38 277.85,136.84 282.02,131.29 286.19,133.68 290.37,131.73 294.54,135.81 298.71,134.27 302.89,135.63 307.06,137.86 311.23,132.16 315.41,135.16 319.58,134.20 323.75,135.58 327.93,131.80 332.10,135.48 332.10,142.87 327.93,143.39 323.75,142.40 319.58,141.52 315.41,142.49 311.23,143.35 307.06,146.18 302.89,141.51 298.71,142.17 294.54,142.30 290.37,143.28 286.19,141.17 282.02,142.04 277.85,142.14 273.67,142.45 269.50,143.54" fill="#f0f000"/>
<polygon points="269.50,135.40 273.67,133.97 277.85,136.24 282.02,133.67 286.19,133.62 290.37,133.64 294.54,133.93 298.71,134.67 302.89,135.45 307.06,138.17 311.23,134.45 315.41,135.62 319.58,134.61 323.75,135.16 327.93,131.79 332.10,133.60 332.10,141.34 327.93,145.27 323.75,141.72 319.58,141.85 315.41,142.78 311.23,145.00 307.06,145.54 302.89,141.91 298.71,141.92 294.54,141.72 290.37,145.77 286.19,141.01 282.02,142.32 277.85,141.60 273.67,142.51 269.50,141.90" fill="#00e000"/>
<polygon points="269.50,135.44 273.67,133.60 277.85,136.15 282.02,133.53 286.19,132.36 290.37,132.69 294.54,134.80 298.71,133.21 302.89,134.05 307.06,136.35 311.23,134.37 315.41,133.57 319.58,134.07 323.75,135.90 327.93,132.43 332.10,135.46 332.10,141.45 327.93,142.88 323.75,142.43 319.58,142.16 315.41,142.48 311.23,143.03 307.06,146.10 302.89,142.85 298.71,142.13 294.54,141.64 290.37,144.59 286.19,141.38 282.02,141.97 277.85,142.09 273.67,142.78 269.50,141.50" fill="#00e8e8"/>
<polygon points="269.50,134.73 273.67,133.88 277.85,136.61 282.02,133.66 286.19,133.74 290.37,133.50 294.54,135.99 298.71,134.63 302.89,135.29 307.06,137.80 311.23,134.35 315.41,135.01 319.58,134.25 323.75,134.99 327.93,133.76 332.10,135.89 332.10,141.72 327.93,142.97 323.75,141.85 319.58,142.22 315.41,142.62 311.23,143.50 307.06,145.51 302.89,141.54 298.71,142.42 294.54,142.47 290.37,143.95 286.19,141.24 282.02,142.04 277.85,141.97 273.67,143.34 269.50,141.59" fill="#3020ff"/>
<polygon points="269.50,135.48 273.67,134.55 277.85,136.01 282.02,133.39 286.19,133.59 290.37,134.41 294.54,135.95 298.71,134.15 302.89,135.32 307.06,137.96 311.23,134.13 315.41,135.17 319.58,134.34 323.75,135.89 327.93,134.24 332.10,135.80 332.10,141.32 327.93,142.75 323.75,142.10 319.58,141.38 315.41,142.41 311.23,143.35 307.06,145.52 302.89,142.14 298.71,141.93 294.54,142.01 290.37,143.41 286.19,141.20 282.02,141.95 277.85,141.61 273.67,142.64 269.50,141.20" fill="#e000f0"/>
<polygon points="269.50,136.37 273.67,134.67 277.85,137.06 282.02,134.04 286.19,134.19 290.37,134.52 294.54,136.76 298.71,135.26 302.89,136.21 307.06,138.84 311.23,134.90 315.41,135.86 319.58,135.02 323.75,136.11 327.93,134.75 332.10,136.27 332.10,140.58 327.93,142.45 323.75,141.45 319.58,141.23 315.41,142.05 311.23,142.48 307.06,145.31 302.89,141.04 298.71,141.25 294.54,141.34 290.37,142.77 286.19,140.57 282.02,141.51 277.85,141.18 273.67,142.21 269.50,140.91" fill="#ff0032"/>
<text x="409.80" y="119.10" font-size="7.1" fill="#000" text-anchor="middle" font-weight="bold">Cluster 10</text>
<text x="355.10" y="138.70" font-size="5.9" fill="#000" text-anchor="middle" transform="rotate(-90 355.09999999999997 138.7)">expression changes</text>
<text x="368.50" y="134.50" font-size="6.3" fill="#000" text-anchor="middle" transform="rotate(-90 368.49999999999994 134.5)">2</text>
<text x="368.50" y="145.30" font-size="6.3" fill="#000" text-anchor="middle" transform="rotate(-90 368.49999999999994 145.3)">−3</text>
<text x="409.80" y="172.50" font-size="5.7" fill="#111" text-anchor="middle">HOXC9 expression</text>
<path d="M372.50 132.50H377.10M372.50 134.67H377.10M372.50 136.84H377.10M372.50 139.01H377.10M372.50 141.18H377.10M372.50 143.35H377.10M372.50 145.52H377.10M376.90 132.50V145.50M378.50 146.00H441.30M378.70 146.00V149.80M382.86 146.00V149.80M387.02 146.00V149.80M391.18 146.00V149.80M395.34 146.00V149.80M399.50 146.00V149.80M403.66 146.00V149.80M407.82 146.00V149.80M411.98 146.00V149.80M416.14 146.00V149.80M420.30 146.00V149.80M424.46 146.00V149.80M428.62 146.00V149.80M432.78 146.00V149.80M436.94 146.00V149.80M441.10 146.00V149.80" stroke="#333" stroke-width="0.7" fill="none"/>
<polygon points="378.60,134.22 382.77,135.61 386.95,135.60 391.12,134.09 395.29,135.66 399.47,136.49 403.64,140.26 407.81,133.60 411.99,135.77 416.16,134.72 420.33,133.11 424.51,135.46 428.68,132.89 432.85,135.89 437.03,134.51 441.20,134.52 441.20,142.11 437.03,142.27 432.85,141.75 428.68,141.82 424.51,142.99 420.33,144.07 416.16,142.61 411.99,141.79 407.81,143.06 403.64,145.13 399.47,145.54 395.29,143.59 391.12,143.65 386.95,142.10 382.77,143.40 378.60,142.27" fill="#f0f000"/>
<polygon points="378.60,134.82 382.77,135.66 386.95,135.71 391.12,134.69 395.29,135.27 399.47,135.99 403.64,140.33 407.81,133.88 411.99,136.02 416.16,134.96 420.33,133.19 424.51,135.24 428.68,132.83 432.85,135.30 437.03,134.53 441.20,132.38 441.20,143.57 437.03,141.84 432.85,141.91 428.68,143.90 424.51,141.12 420.33,141.92 416.16,142.85 411.99,143.52 407.81,142.63 403.64,144.74 399.47,146.30 395.29,141.86 391.12,143.43 386.95,141.56 382.77,142.96 378.60,142.53" fill="#00e000"/>
<polygon points="378.60,134.43 382.77,135.27 386.95,134.24 391.12,132.49 395.29,133.79 399.47,136.48 403.64,138.60 407.81,132.17 411.99,135.86 416.16,135.01 420.33,133.51 424.51,135.64 428.68,133.22 432.85,135.42 437.03,134.41 441.20,135.14 441.20,143.44 437.03,141.83 432.85,141.70 428.68,143.76 424.51,141.05 420.33,142.08 416.16,143.02 411.99,141.52 407.81,142.48 403.64,145.26 399.47,143.69 395.29,141.96 391.12,143.43 386.95,142.18 382.77,144.81 378.60,142.08" fill="#00e8e8"/>
<polygon points="378.60,134.68 382.77,135.84 386.95,136.01 391.12,134.33 395.29,134.77 399.47,135.11 403.64,140.12 407.81,133.23 411.99,135.63 416.16,134.72 420.33,133.43 424.51,135.62 428.68,132.95 432.85,135.11 437.03,134.88 441.20,134.42 441.20,143.10 437.03,142.71 432.85,142.36 428.68,141.71 424.51,141.54 420.33,142.06 416.16,142.32 411.99,141.39 407.81,143.19 403.64,145.05 399.47,144.10 395.29,142.15 391.12,144.25 386.95,142.07 382.77,144.03 378.60,142.56" fill="#3020ff"/>
<polygon points="378.60,134.41 382.77,135.51 386.95,135.53 391.12,134.85 395.29,135.87 399.47,136.75 403.64,140.19 407.81,133.29 411.99,135.82 416.16,134.82 420.33,133.27 424.51,134.68 428.68,132.71 432.85,135.81 437.03,134.84 441.20,135.15 441.20,142.29 437.03,141.83 432.85,142.55 428.68,142.35 424.51,141.91 420.33,142.13 416.16,142.29 411.99,141.77 407.81,142.48 403.64,145.23 399.47,143.53 395.29,142.00 391.12,143.77 386.95,141.65 382.77,143.00 378.60,141.93" fill="#e000f0"/>
<polygon points="378.60,135.20 382.77,136.30 386.95,136.34 391.12,134.98 395.29,136.23 399.47,136.90 403.64,140.75 407.81,134.13 411.99,136.25 416.16,135.50 420.33,134.02 424.51,135.87 428.68,133.73 432.85,136.27 437.03,135.26 441.20,135.42 441.20,141.15 437.03,141.55 432.85,141.43 428.68,141.31 424.51,140.70 420.33,141.40 416.16,141.95 411.99,140.99 407.81,142.17 403.64,144.29 399.47,143.30 395.29,141.28 391.12,143.02 386.95,141.32 382.77,142.52 378.60,141.69" fill="#ff0032"/>
<text x="518.90" y="119.10" font-size="7.1" fill="#000" text-anchor="middle" font-weight="bold">Cluster 11</text>
<text x="464.20" y="138.70" font-size="5.9" fill="#000" text-anchor="middle" transform="rotate(-90 464.2 138.7)">expression changes</text>
<text x="477.60" y="134.50" font-size="6.3" fill="#000" text-anchor="middle" transform="rotate(-90 477.59999999999997 134.5)">2</text>
<text x="477.60" y="145.30" font-size="6.3" fill="#000" text-anchor="middle" transform="rotate(-90 477.59999999999997 145.3)">−3</text>
<text x="518.90" y="172.50" font-size="5.7" fill="#111" text-anchor="middle">HOXC9 expression</text>
<path d="M481.60 132.50H486.20M481.60 134.67H486.20M481.60 136.84H486.20M481.60 139.01H486.20M481.60 141.18H486.20M481.60 143.35H486.20M481.60 145.52H486.20M486.00 132.50V145.50M487.60 146.00H550.40M487.80 146.00V149.80M491.96 146.00V149.80M496.12 146.00V149.80M500.28 146.00V149.80M504.44 146.00V149.80M508.60 146.00V149.80M512.76 146.00V149.80M516.92 146.00V149.80M521.08 146.00V149.80M525.24 146.00V149.80M529.40 146.00V149.80M533.56 146.00V149.80M537.72 146.00V149.80M541.88 146.00V149.80M546.04 146.00V149.80M550.20 146.00V149.80" stroke="#333" stroke-width="0.7" fill="none"/>
<polygon points="487.70,129.64 491.87,134.91 496.05,133.49 500.22,136.10 504.39,134.25 508.57,136.73 512.74,134.57 516.91,135.01 521.09,133.75 525.26,135.51 529.43,137.00 533.61,134.62 537.78,136.72 541.95,135.87 546.13,137.22 550.30,136.00 550.30,142.19 546.13,145.10 541.95,142.23 537.78,144.61 533.61,144.02 529.43,144.20 525.26,143.07 521.09,142.85 516.91,141.75 512.74,142.74 508.57,143.72 504.39,142.52 500.22,143.64 496.05,142.35 491.87,142.21 487.70,137.84" fill="#f0f000"/>
<polygon points="487.70,129.78 491.87,134.98 496.05,133.51 500.22,133.89 504.39,134.17 508.57,136.60 512.74,132.85 516.91,135.22 521.09,131.79 525.26,135.12 529.43,136.44 533.61,132.49 537.78,136.51 541.95,135.83 546.13,135.10 550.30,136.48 550.30,141.99 546.13,145.53 541.95,141.80 537.78,144.44 533.61,144.10 529.43,142.38 525.26,142.82 521.09,143.10 516.91,141.42 512.74,142.43 508.57,145.64 504.39,141.92 500.22,143.84 496.05,144.28 491.87,144.67 487.70,137.78" fill="#00e000"/>
<polygon points="487.70,131.62 491.87,135.59 496.05,133.50 500.22,134.27 504.39,133.25 508.57,136.02 512.74,134.97 516.91,135.27 521.09,134.31 525.26,133.86 529.43,136.32 533.61,134.81 537.78,134.92 541.95,136.08 546.13,137.32 550.30,136.22 550.30,142.19 546.13,146.56 541.95,142.16 537.78,144.13 533.61,143.40 529.43,142.79 525.26,143.51 521.09,143.06 516.91,141.53 512.74,142.75 508.57,143.44 504.39,142.31 500.22,143.87 496.05,142.70 491.87,142.89 487.70,139.68" fill="#00e8e8"/>
<polygon points="487.70,131.78 491.87,135.13 496.05,133.72 500.22,135.47 504.39,134.57 508.57,135.67 512.74,134.44 516.91,135.03 521.09,133.91 525.26,135.27 529.43,136.20 533.61,134.59 537.78,136.16 541.95,135.29 546.13,137.82 550.30,136.47 550.30,142.43 546.13,145.34 541.95,142.55 537.78,145.05 533.61,143.66 529.43,142.42 525.26,143.77 521.09,142.70 516.91,142.22 512.74,142.84 508.57,143.25 504.39,142.19 500.22,144.25 496.05,142.42 491.87,143.08 487.70,138.64" fill="#3020ff"/>
<polygon points="487.70,131.76 491.87,135.06 496.05,133.43 500.22,135.78 504.39,134.43 508.57,136.58 512.74,134.77 516.91,135.45 521.09,134.18 525.26,135.77 529.43,136.39 533.61,134.97 537.78,136.71 541.95,135.23 546.13,137.99 550.30,136.34 550.30,141.89 546.13,146.06 541.95,142.00 537.78,144.41 533.61,143.84 529.43,142.93 525.26,143.26 521.09,143.61 516.91,141.29 512.74,142.04 508.57,143.21 504.39,142.77 500.22,143.60 496.05,142.41 491.87,142.64 487.70,137.81" fill="#e000f0"/>
<polygon points="487.70,132.46 491.87,135.88 496.05,134.10 500.22,136.45 504.39,135.02 508.57,136.93 512.74,135.52 516.91,135.95 521.09,134.57 525.26,135.93 529.43,137.25 533.61,135.48 537.78,137.10 541.95,136.45 546.13,138.15 550.30,136.92 550.30,141.41 546.13,144.75 541.95,141.57 537.78,143.63 533.61,143.17 529.43,141.83 525.26,142.61 521.09,142.32 516.91,141.01 512.74,141.83 508.57,142.83 504.39,141.62 500.22,143.07 496.05,141.83 491.87,141.94 487.70,137.47" fill="#ff0032"/>
<text x="628.00" y="119.10" font-size="7.1" fill="#000" text-anchor="middle" font-weight="bold">Cluster 12</text>
<text x="573.30" y="138.70" font-size="5.9" fill="#000" text-anchor="middle" transform="rotate(-90 573.3 138.7)">expression changes</text>
<text x="586.70" y="134.50" font-size="6.3" fill="#000" text-anchor="middle" transform="rotate(-90 586.7 134.5)">2</text>
<text x="586.70" y="145.30" font-size="6.3" fill="#000" text-anchor="middle" transform="rotate(-90 586.7 145.3)">−3</text>
<text x="628.00" y="172.50" font-size="5.7" fill="#111" text-anchor="middle">HOXC9 expression</text>
<path d="M590.70 132.50H595.30M590.70 134.67H595.30M590.70 136.84H595.30M590.70 139.01H595.30M590.70 141.18H595.30M590.70 143.35H595.30M590.70 145.52H595.30M595.10 132.50V145.50M596.70 146.00H659.50M596.90 146.00V149.80M601.06 146.00V149.80M605.22 146.00V149.80M609.38 146.00V149.80M613.54 146.00V149.80M617.70 146.00V149.80M621.86 146.00V149.80M626.02 146.00V149.80M630.18 146.00V149.80M634.34 146.00V149.80M638.50 146.00V149.80M642.66 146.00V149.80M646.82 146.00V149.80M650.98 146.00V149.80M655.14 146.00V149.80M659.30 146.00V149.80" stroke="#333" stroke-width="0.7" fill="none"/>
<polygon points="596.80,129.37 600.97,133.35 605.15,133.80 609.32,136.26 613.49,134.78 617.67,137.06 621.84,136.33 626.01,136.95 630.19,135.11 634.36,135.48 638.53,133.98 642.71,136.02 646.88,135.10 651.05,135.63 655.23,133.76 659.40,134.81 659.40,143.29 655.23,141.09 651.05,144.86 646.88,142.15 642.71,142.85 638.53,140.84 634.36,143.39 630.19,142.18 626.01,146.10 621.84,142.04 617.67,142.45 613.49,145.50 609.32,142.14 605.15,144.83 600.97,139.46 596.80,137.31" fill="#f0f000"/>
<polygon points="596.80,129.79 600.97,133.54 605.15,134.16 609.32,136.10 613.49,134.62 617.67,134.75 621.84,136.09 626.01,136.83 630.19,134.84 634.36,133.69 638.53,131.51 642.71,136.41 646.88,134.44 651.05,135.95 655.23,131.31 659.40,134.17 659.40,143.59 655.23,141.26 651.05,142.54 646.88,141.86 642.71,143.08 638.53,141.19 634.36,143.30 630.19,142.19 626.01,144.23 621.84,142.04 617.67,142.87 613.49,143.60 609.32,142.31 605.15,142.94 600.97,139.25 596.80,135.74" fill="#00e000"/>
<polygon points="596.80,129.59 600.97,133.37 605.15,133.45 609.32,136.15 613.49,134.20 617.67,137.16 621.84,136.44 626.01,137.15 630.19,134.69 634.36,134.09 638.53,133.69 642.71,136.17 646.88,134.78 651.05,135.52 655.23,133.61 659.40,134.06 659.40,143.35 655.23,141.02 651.05,142.70 646.88,142.14 642.71,143.73 638.53,142.54 634.36,142.87 630.19,142.62 626.01,144.24 621.84,142.52 617.67,142.57 613.49,143.34 609.32,141.76 605.15,142.99 600.97,141.14 596.80,135.58" fill="#00e8e8"/>
<polygon points="596.80,129.33 600.97,132.76 605.15,133.52 609.32,135.00 613.49,134.64 617.67,136.76 621.84,135.82 626.01,136.57 630.19,135.12 634.36,135.97 638.53,133.19 642.71,135.58 646.88,135.02 651.05,134.82 655.23,132.53 659.40,133.73 659.40,143.38 655.23,141.47 651.05,143.13 646.88,141.96 642.71,143.77 638.53,140.66 634.36,143.29 630.19,142.57 626.01,143.81 621.84,141.98 617.67,142.47 613.49,143.83 609.32,142.30 605.15,143.47 600.97,139.12 596.80,135.84" fill="#3020ff"/>
<polygon points="596.80,129.76 600.97,133.01 605.15,133.75 609.32,135.18 613.49,133.95 617.67,137.31 621.84,136.19 626.01,136.75 630.19,135.01 634.36,135.95 638.53,133.96 642.71,136.07 646.88,134.58 651.05,135.55 655.23,133.13 659.40,134.67 659.40,143.47 655.23,140.84 651.05,142.06 646.88,142.46 642.71,143.20 638.53,140.52 634.36,142.81 630.19,142.37 626.01,144.71 621.84,141.85 617.67,142.56 613.49,143.47 609.32,142.71 605.15,142.64 600.97,139.59 596.80,135.46" fill="#e000f0"/>
<polygon points="596.80,130.35 600.97,133.82 605.15,134.52 609.32,136.55 613.49,135.09 617.67,137.57 621.84,136.91 626.01,137.39 630.19,135.34 634.36,136.23 638.53,134.51 642.71,136.62 646.88,135.33 651.05,136.21 655.23,134.27 659.40,135.11 659.40,142.61 655.23,140.34 651.05,141.93 646.88,141.41 642.71,142.63 638.53,140.19 634.36,142.60 630.19,141.55 626.01,143.53 621.84,141.74 617.67,141.95 613.49,143.00 609.32,141.33 605.15,142.30 600.97,138.89 596.80,134.82" fill="#ff0032"/>
<text x="82.50" y="197.30" font-size="7.1" fill="#000" text-anchor="middle" font-weight="bold">Cluster 13</text>
<text x="27.80" y="216.90" font-size="5.9" fill="#000" text-anchor="middle" transform="rotate(-90 27.8 216.9)">expression changes</text>
<text x="41.20" y="212.70" font-size="6.3" fill="#000" text-anchor="middle" transform="rotate(-90 41.2 212.7)">1</text>
<text x="41.20" y="223.50" font-size="6.3" fill="#000" text-anchor="middle" transform="rotate(-90 41.2 223.5)">−3</text>
<text x="82.50" y="250.70" font-size="5.7" fill="#111" text-anchor="middle">HOXC9 expression</text>
<path d="M45.20 210.70H49.80M45.20 212.87H49.80M45.20 215.04H49.80M45.20 217.21H49.80M45.20 219.38H49.80M45.20 221.55H49.80M45.20 223.72H49.80M49.60 210.70V223.70M51.20 224.20H114.00M51.40 224.20V228.00M55.56 224.20V228.00M59.72 224.20V228.00M63.88 224.20V228.00M68.04 224.20V228.00M72.20 224.20V228.00M76.36 224.20V228.00M80.52 224.20V228.00M84.68 224.20V228.00M88.84 224.20V228.00M93.00 224.20V228.00M97.16 224.20V228.00M101.32 224.20V228.00M105.48 224.20V228.00M109.64 224.20V228.00M113.80 224.20V228.00" stroke="#333" stroke-width="0.7" fill="none"/>
<polygon points="51.30,211.74 55.47,213.75 59.65,214.73 63.82,212.85 67.99,213.49 72.17,214.09 76.34,212.54 80.51,213.53 84.69,213.96 88.86,212.48 93.03,214.06 97.21,210.60 101.38,213.95 105.55,211.57 109.73,216.73 113.90,213.59 113.90,221.55 109.73,225.10 105.55,221.53 101.38,220.49 97.21,223.94 93.03,219.24 88.86,220.94 84.69,221.23 80.51,220.31 76.34,220.99 72.17,221.39 67.99,220.21 63.82,220.78 59.65,221.74 55.47,221.62 51.30,221.90" fill="#f0f000"/>
<polygon points="51.30,212.12 55.47,213.95 59.65,212.52 63.82,213.24 67.99,214.07 72.17,214.47 76.34,212.62 80.51,213.41 84.69,213.56 88.86,210.15 93.03,214.52 97.21,212.74 101.38,214.29 105.55,214.20 109.73,216.41 113.90,213.23 113.90,221.46 109.73,222.82 105.55,222.15 101.38,219.80 97.21,221.67 93.03,219.77 88.86,221.20 84.69,221.35 80.51,219.81 76.34,221.41 72.17,223.55 67.99,220.28 63.82,220.37 59.65,221.76 55.47,221.46 51.30,219.58" fill="#00e000"/>
<polygon points="51.30,212.31 55.47,213.59 59.65,214.60 63.82,213.42 67.99,213.76 72.17,214.32 76.34,212.58 80.51,213.09 84.69,213.80 88.86,213.05 93.03,213.99 97.21,212.30 101.38,214.41 105.55,211.93 109.73,216.38 113.90,213.52 113.90,221.26 109.73,224.42 105.55,222.17 101.38,220.07 97.21,222.08 93.03,219.53 88.86,221.20 84.69,221.16 80.51,220.31 76.34,221.18 72.17,222.23 67.99,219.90 63.82,220.67 59.65,221.83 55.47,221.11 51.30,219.49" fill="#00e8e8"/>
<polygon points="51.30,212.13 55.47,213.20 59.65,214.97 63.82,213.03 67.99,213.57 72.17,214.44 76.34,211.85 80.51,213.24 84.69,213.39 88.86,212.03 93.03,214.22 97.21,211.36 101.38,213.68 105.55,213.41 109.73,216.65 113.90,213.31 113.90,221.80 109.73,223.01 105.55,222.13 101.38,220.10 97.21,222.32 93.03,219.20 88.86,220.92 84.69,221.62 80.51,219.81 76.34,221.01 72.17,221.23 67.99,220.30 63.82,220.25 59.65,221.82 55.47,221.98 51.30,220.19" fill="#3020ff"/>
<polygon points="51.30,212.06 55.47,213.95 59.65,214.69 63.82,212.98 67.99,213.76 72.17,213.98 76.34,212.66 80.51,213.57 84.69,214.37 88.86,212.75 93.03,214.41 97.21,212.70 101.38,213.54 105.55,213.66 109.73,216.48 113.90,213.24 113.90,221.36 109.73,222.29 105.55,221.40 101.38,220.20 97.21,222.21 93.03,219.05 88.86,220.78 84.69,221.41 80.51,219.77 76.34,220.72 72.17,221.38 67.99,220.31 63.82,220.28 59.65,221.82 55.47,221.09 51.30,220.05" fill="#e000f0"/>
<polygon points="51.30,212.65 55.47,214.31 59.65,215.31 63.82,213.70 67.99,214.43 72.17,214.75 76.34,213.02 80.51,214.17 84.69,214.49 88.86,213.34 93.03,214.79 97.21,212.97 101.38,214.93 105.55,214.42 109.73,216.96 113.90,214.03 113.90,220.71 109.73,222.14 105.55,221.22 101.38,219.59 97.21,221.14 93.03,218.89 88.86,220.41 84.69,220.60 80.51,219.42 76.34,220.43 72.17,220.51 67.99,219.70 63.82,219.84 59.65,221.03 55.47,220.89 51.30,219.23" fill="#ff0032"/>
<text x="191.60" y="197.30" font-size="7.1" fill="#000" text-anchor="middle" font-weight="bold">Cluster 14</text>
<text x="136.90" y="216.90" font-size="5.9" fill="#000" text-anchor="middle" transform="rotate(-90 136.9 216.9)">expression changes</text>
<text x="150.30" y="212.70" font-size="6.3" fill="#000" text-anchor="middle" transform="rotate(-90 150.3 212.7)">2</text>
<text x="150.30" y="223.50" font-size="6.3" fill="#000" text-anchor="middle" transform="rotate(-90 150.3 223.5)">−3</text>
<text x="191.60" y="250.70" font-size="5.7" fill="#111" text-anchor="middle">HOXC9 expression</text>
<path d="M154.30 210.70H158.90M154.30 212.87H158.90M154.30 215.04H158.90M154.30 217.21H158.90M154.30 219.38H158.90M154.30 221.55H158.90M154.30 223.72H158.90M158.70 210.70V223.70M160.30 224.20H223.10M160.50 224.20V228.00M164.66 224.20V228.00M168.82 224.20V228.00M172.98 224.20V228.00M177.14 224.20V228.00M181.30 224.20V228.00M185.46 224.20V228.00M189.62 224.20V228.00M193.78 224.20V228.00M197.94 224.20V228.00M202.10 224.20V228.00M206.26 224.20V228.00M210.42 224.20V228.00M214.58 224.20V228.00M218.74 224.20V228.00M222.90 224.20V228.00" stroke="#333" stroke-width="0.7" fill="none"/>
<polygon points="160.40,214.67 164.57,212.52 168.75,209.04 172.92,212.40 177.09,211.38 181.27,213.06 185.44,212.55 189.61,212.74 193.79,214.24 197.96,213.21 202.13,212.36 206.31,212.37 210.48,213.52 214.65,212.89 218.83,214.14 223.00,213.38 223.00,220.06 218.83,221.84 214.65,220.73 210.48,221.09 206.31,221.62 202.13,220.77 197.96,222.31 193.79,219.86 189.61,221.75 185.44,220.32 181.27,222.11 177.09,222.06 172.92,221.34 168.75,216.54 164.57,221.41 160.40,220.50" fill="#f0f000"/>
<polygon points="160.40,214.52 164.57,210.89 168.75,211.59 172.92,212.34 177.09,213.64 181.27,213.08 185.44,213.00 189.61,213.22 193.79,214.30 197.96,212.75 202.13,214.09 206.31,212.76 210.48,214.25 214.65,213.42 218.83,214.17 223.00,211.30 223.00,220.17 218.83,221.15 214.65,220.67 210.48,221.17 206.31,224.17 202.13,220.35 197.96,222.41 193.79,219.97 189.61,221.41 185.44,220.27 181.27,222.30 177.09,220.26 172.92,220.92 168.75,217.18 164.57,221.56 160.40,221.23" fill="#00e000"/>
<polygon points="160.40,215.00 164.57,210.88 168.75,211.68 172.92,212.65 177.09,213.73 181.27,212.54 185.44,211.14 189.61,211.21 193.79,214.06 197.96,212.60 202.13,213.99 206.31,212.54 210.48,213.80 214.65,213.57 218.83,214.38 223.00,212.80 223.00,220.16 218.83,222.49 214.65,220.96 210.48,221.58 206.31,221.48 202.13,220.68 197.96,223.43 193.79,219.80 189.61,221.01 185.44,221.62 181.27,221.89 177.09,220.25 172.92,221.34 168.75,217.11 164.57,222.90 160.40,221.00" fill="#00e8e8"/>
<polygon points="160.40,214.16 164.57,212.56 168.75,211.48 172.92,211.64 177.09,213.41 181.27,213.13 185.44,212.94 189.61,212.76 193.79,214.12 197.96,213.17 202.13,213.72 206.31,212.41 210.48,213.91 214.65,213.11 218.83,214.09 223.00,212.69 223.00,220.89 218.83,221.42 214.65,220.66 210.48,220.88 206.31,221.71 202.13,220.71 197.96,222.67 193.79,219.92 189.61,221.10 185.44,220.24 181.27,222.04 177.09,220.32 172.92,221.65 168.75,217.28 164.57,221.67 160.40,220.79" fill="#3020ff"/>
<polygon points="160.40,214.93 164.57,212.63 168.75,211.36 172.92,212.77 177.09,213.73 181.27,212.63 185.44,212.57 189.61,213.43 193.79,214.40 197.96,212.72 202.13,213.82 206.31,212.48 210.48,214.14 214.65,213.65 218.83,214.63 223.00,213.54 223.00,220.41 218.83,222.01 214.65,221.16 210.48,220.76 206.31,221.42 202.13,220.17 197.96,222.02 193.79,220.03 189.61,221.12 185.44,220.24 181.27,221.60 177.09,220.10 172.92,221.30 168.75,216.78 164.57,221.22 160.40,221.44" fill="#e000f0"/>
<polygon points="160.40,215.30 164.57,213.36 168.75,211.96 172.92,212.98 177.09,214.29 181.27,213.53 185.44,213.41 189.61,213.65 193.79,215.11 197.96,213.62 202.13,214.61 206.31,213.36 210.48,214.49 214.65,213.87 218.83,215.12 223.00,213.77 223.00,219.86 218.83,220.86 214.65,220.05 210.48,220.53 206.31,221.16 202.13,219.94 197.96,221.56 193.79,219.41 189.61,220.77 185.44,219.58 181.27,221.35 177.09,219.73 172.92,220.70 168.75,216.26 164.57,221.07 160.40,220.29" fill="#ff0032"/>
<text x="300.70" y="197.30" font-size="7.1" fill="#000" text-anchor="middle" font-weight="bold">Cluster 15</text>
<text x="246.00" y="216.90" font-size="5.9" fill="#000" text-anchor="middle" transform="rotate(-90 246.0 216.9)">expression changes</text>
<text x="259.40" y="212.70" font-size="6.3" fill="#000" text-anchor="middle" transform="rotate(-90 259.4 212.7)">2</text>
<text x="259.40" y="223.50" font-size="6.3" fill="#000" text-anchor="middle" transform="rotate(-90 259.4 223.5)">−3</text>
<text x="300.70" y="250.70" font-size="5.7" fill="#111" text-anchor="middle">HOXC9 expression</text>
<path d="M263.40 210.70H268.00M263.40 212.87H268.00M263.40 215.04H268.00M263.40 217.21H268.00M263.40 219.38H268.00M263.40 221.55H268.00M263.40 223.72H268.00M267.80 210.70V223.70M269.40 224.20H332.20M269.60 224.20V228.00M273.76 224.20V228.00M277.92 224.20V228.00M282.08 224.20V228.00M286.24 224.20V228.00M290.40 224.20V228.00M294.56 224.20V228.00M298.72 224.20V228.00M302.88 224.20V228.00M307.04 224.20V228.00M311.20 224.20V228.00M315.36 224.20V228.00M319.52 224.20V228.00M323.68 224.20V228.00M327.84 224.20V228.00M332.00 224.20V228.00" stroke="#333" stroke-width="0.7" fill="none"/>
<polygon points="269.50,214.30 273.67,212.63 277.85,213.72 282.02,212.03 286.19,213.73 290.37,211.45 294.54,213.71 298.71,212.76 302.89,216.65 307.06,213.80 311.23,211.89 315.41,214.91 319.58,213.73 323.75,213.59 327.93,212.47 332.10,213.09 332.10,219.49 327.93,220.77 323.75,221.47 319.58,221.78 315.41,219.80 311.23,221.10 307.06,219.40 302.89,224.05 298.71,219.77 294.54,221.39 290.37,219.75 286.19,221.66 282.02,219.97 277.85,221.21 273.67,219.76 269.50,222.05" fill="#f0f000"/>
<polygon points="269.50,211.65 273.67,212.57 277.85,214.02 282.02,209.68 286.19,211.43 290.37,212.02 294.54,214.11 298.71,210.04 302.89,216.10 307.06,213.81 311.23,211.92 315.41,214.49 319.58,213.99 323.75,211.58 327.93,212.97 332.10,213.35 332.10,219.99 327.93,220.98 323.75,220.88 319.58,219.49 315.41,220.39 311.23,223.26 307.06,219.28 302.89,224.12 298.71,219.72 294.54,220.99 290.37,219.57 286.19,221.47 282.02,219.68 277.85,220.95 273.67,222.06 269.50,221.63" fill="#00e000"/>
<polygon points="269.50,213.76 273.67,212.67 277.85,213.67 282.02,211.73 286.19,213.58 290.37,212.07 294.54,213.75 298.71,212.36 302.89,216.37 307.06,213.57 311.23,211.73 315.41,214.60 319.58,213.53 323.75,214.25 327.93,212.73 332.10,213.58 332.10,220.10 327.93,221.48 323.75,221.06 319.58,220.18 315.41,220.27 311.23,221.05 307.06,219.87 302.89,225.63 298.71,220.07 294.54,221.19 290.37,219.69 286.19,221.64 282.02,220.69 277.85,220.95 273.67,219.97 269.50,221.67" fill="#00e8e8"/>
<polygon points="269.50,213.52 273.67,213.03 277.85,213.27 282.02,212.24 286.19,214.06 290.37,210.98 294.54,214.28 298.71,212.17 302.89,216.17 307.06,213.61 311.23,210.25 315.41,214.79 319.58,213.32 323.75,213.57 327.93,212.70 332.10,212.56 332.10,219.70 327.93,221.52 323.75,221.10 319.58,219.36 315.41,220.44 311.23,222.06 307.06,219.53 302.89,224.63 298.71,220.28 294.54,220.74 290.37,219.67 286.19,221.77 282.02,220.28 277.85,221.52 273.67,219.44 269.50,221.75" fill="#3020ff"/>
<polygon points="269.50,213.37 273.67,212.61 277.85,214.33 282.02,212.30 286.19,214.34 290.37,212.26 294.54,213.72 298.71,212.42 302.89,216.91 307.06,214.16 311.23,211.71 315.41,215.00 319.58,213.72 323.75,214.31 327.93,212.95 332.10,213.21 332.10,219.70 327.93,220.92 323.75,221.37 319.58,219.99 315.41,219.79 311.23,221.09 307.06,219.18 302.89,224.08 298.71,220.51 294.54,220.66 290.37,219.46 286.19,221.04 282.02,219.95 277.85,221.17 273.67,220.39 269.50,221.45" fill="#e000f0"/>
<polygon points="269.50,214.55 273.67,213.43 277.85,214.44 282.02,212.61 286.19,214.51 290.37,212.41 294.54,214.55 298.71,213.01 302.89,217.05 307.06,214.29 311.23,212.20 315.41,215.23 319.58,214.37 323.75,214.45 327.93,213.24 332.10,214.09 332.10,219.06 327.93,220.44 323.75,220.65 319.58,219.12 315.41,219.56 311.23,220.34 307.06,218.99 302.89,223.78 298.71,219.24 294.54,220.51 290.37,218.93 286.19,220.78 282.02,219.06 277.85,220.67 273.67,219.12 269.50,221.12" fill="#ff0032"/>
<text x="409.80" y="197.30" font-size="7.1" fill="#000" text-anchor="middle" font-weight="bold">Cluster 16</text>
<text x="355.10" y="216.90" font-size="5.9" fill="#000" text-anchor="middle" transform="rotate(-90 355.09999999999997 216.9)">expression changes</text>
<text x="368.50" y="212.70" font-size="6.3" fill="#000" text-anchor="middle" transform="rotate(-90 368.49999999999994 212.7)">2</text>
<text x="368.50" y="223.50" font-size="6.3" fill="#000" text-anchor="middle" transform="rotate(-90 368.49999999999994 223.5)">−3</text>
<text x="409.80" y="250.70" font-size="5.7" fill="#111" text-anchor="middle">HOXC9 expression</text>
<path d="M372.50 210.70H377.10M372.50 212.87H377.10M372.50 215.04H377.10M372.50 217.21H377.10M372.50 219.38H377.10M372.50 221.55H377.10M372.50 223.72H377.10M376.90 210.70V223.70M378.50 224.20H441.30M378.70 224.20V228.00M382.86 224.20V228.00M387.02 224.20V228.00M391.18 224.20V228.00M395.34 224.20V228.00M399.50 224.20V228.00M403.66 224.20V228.00M407.82 224.20V228.00M411.98 224.20V228.00M416.14 224.20V228.00M420.30 224.20V228.00M424.46 224.20V228.00M428.62 224.20V228.00M432.78 224.20V228.00M436.94 224.20V228.00M441.10 224.20V228.00" stroke="#333" stroke-width="0.7" fill="none"/>
<polygon points="378.60,213.80 382.77,212.37 386.95,213.00 391.12,213.88 395.29,212.72 399.47,213.53 403.64,212.46 407.81,212.25 411.99,209.98 416.16,215.75 420.33,213.71 424.51,214.57 428.68,211.98 432.85,213.83 437.03,213.81 441.20,212.92 441.20,221.56 437.03,219.48 432.85,221.22 428.68,219.70 424.51,221.83 420.33,219.82 416.16,224.86 411.99,215.81 407.81,219.44 403.64,219.24 399.47,219.42 395.29,222.07 391.12,221.67 386.95,220.70 382.77,219.67 378.60,220.21" fill="#f0f000"/>
<polygon points="378.60,213.80 382.77,211.65 386.95,213.14 391.12,214.18 395.29,212.49 399.47,213.19 403.64,212.24 407.81,212.30 411.99,209.68 416.16,215.45 420.33,214.39 424.51,213.79 428.68,209.80 432.85,214.28 437.03,214.15 441.20,212.36 441.20,221.88 437.03,221.21 432.85,221.64 428.68,219.94 424.51,221.20 420.33,220.01 416.16,222.31 411.99,216.07 407.81,219.41 403.64,219.69 399.47,219.28 395.29,222.44 391.12,221.95 386.95,221.17 382.77,219.60 378.60,219.89" fill="#00e000"/>
<polygon points="378.60,213.33 382.77,212.23 386.95,213.12 391.12,212.84 395.29,212.98 399.47,213.42 403.64,212.71 407.81,212.11 411.99,208.36 416.16,215.80 420.33,212.24 424.51,213.92 428.68,211.05 432.85,213.87 437.03,212.12 441.20,212.38 441.20,222.60 437.03,219.76 432.85,221.64 428.68,221.09 424.51,221.56 420.33,221.88 416.16,224.38 411.99,215.92 407.81,220.04 403.64,220.68 399.47,219.74 395.29,222.43 391.12,221.86 386.95,221.38 382.77,220.08 378.60,220.01" fill="#00e8e8"/>
<polygon points="378.60,212.67 382.77,212.22 386.95,213.24 391.12,212.85 395.29,212.52 399.47,213.33 403.64,212.66 407.81,212.55 411.99,209.28 416.16,215.73 420.33,213.50 424.51,212.97 428.68,211.83 432.85,213.78 437.03,214.21 441.20,212.87 441.20,221.59 437.03,219.57 432.85,221.17 428.68,219.28 424.51,221.44 420.33,220.14 416.16,223.05 411.99,215.51 407.81,219.83 403.64,219.41 399.47,219.53 395.29,223.01 391.12,221.84 386.95,222.03 382.77,219.83 378.60,220.03" fill="#3020ff"/>
<polygon points="378.60,213.99 382.77,212.10 386.95,213.33 391.12,214.44 395.29,212.99 399.47,213.07 403.64,212.64 407.81,212.04 411.99,209.54 416.16,215.31 420.33,213.98 424.51,214.45 428.68,212.52 432.85,214.53 437.03,213.53 441.20,213.26 441.20,221.74 437.03,219.02 432.85,221.42 428.68,219.86 424.51,221.61 420.33,220.19 416.16,222.13 411.99,215.67 407.81,219.33 403.64,219.67 399.47,219.32 395.29,222.41 391.12,221.17 386.95,221.26 382.77,219.55 378.60,220.01" fill="#e000f0"/>
<polygon points="378.60,214.34 382.77,212.62 386.95,213.95 391.12,214.79 395.29,213.39 399.47,213.96 403.64,213.21 407.81,212.87 411.99,210.30 416.16,216.13 420.33,214.62 424.51,214.79 428.68,212.72 432.85,214.71 437.03,214.41 441.20,213.36 441.20,220.94 437.03,218.71 432.85,220.87 428.68,219.05 424.51,220.88 420.33,219.54 416.16,221.90 411.99,215.13 407.81,219.05 403.64,219.02 399.47,219.06 395.29,221.70 391.12,220.96 386.95,220.43 382.77,219.10 378.60,219.30" fill="#ff0032"/>
<text x="518.90" y="197.30" font-size="7.1" fill="#000" text-anchor="middle" font-weight="bold">Cluster 17</text>
<text x="464.20" y="216.90" font-size="5.9" fill="#000" text-anchor="middle" transform="rotate(-90 464.2 216.9)">expression changes</text>
<text x="477.60" y="212.70" font-size="6.3" fill="#000" text-anchor="middle" transform="rotate(-90 477.59999999999997 212.7)">2</text>
<text x="477.60" y="223.50" font-size="6.3" fill="#000" text-anchor="middle" transform="rotate(-90 477.59999999999997 223.5)">−3</text>
<text x="518.90" y="250.70" font-size="5.7" fill="#111" text-anchor="middle">HOXC9 expression</text>
<path d="M481.60 210.70H486.20M481.60 212.87H486.20M481.60 215.04H486.20M481.60 217.21H486.20M481.60 219.38H486.20M481.60 221.55H486.20M481.60 223.72H486.20M486.00 210.70V223.70M487.60 224.20H550.40M487.80 224.20V228.00M491.96 224.20V228.00M496.12 224.20V228.00M500.28 224.20V228.00M504.44 224.20V228.00M508.60 224.20V228.00M512.76 224.20V228.00M516.92 224.20V228.00M521.08 224.20V228.00M525.24 224.20V228.00M529.40 224.20V228.00M533.56 224.20V228.00M537.72 224.20V228.00M541.88 224.20V228.00M546.04 224.20V228.00M550.20 224.20V228.00" stroke="#333" stroke-width="0.7" fill="none"/>
<polygon points="487.70,213.79 491.87,211.78 496.05,213.85 500.22,213.27 504.39,212.60 508.57,212.29 512.74,212.82 516.91,209.89 521.09,214.23 525.26,212.58 529.43,213.54 533.61,213.28 537.78,211.03 541.95,214.64 546.13,212.40 550.30,214.64 550.30,221.91 546.13,219.79 541.95,221.30 537.78,220.17 533.61,221.32 529.43,221.27 525.26,222.04 521.09,220.52 516.91,216.92 512.74,220.39 508.57,220.76 504.39,220.50 500.22,222.02 496.05,220.02 491.87,221.37 487.70,219.22" fill="#f0f000"/>
<polygon points="487.70,211.30 491.87,209.62 496.05,213.83 500.22,212.82 504.39,210.35 508.57,212.03 512.74,214.67 516.91,209.76 521.09,214.85 525.26,213.03 529.43,213.25 533.61,212.78 537.78,212.90 541.95,214.63 546.13,212.82 550.30,214.24 550.30,221.94 546.13,219.71 541.95,223.66 537.78,220.18 533.61,223.17 529.43,219.88 525.26,222.12 521.09,220.79 516.91,216.95 512.74,220.56 508.57,221.35 504.39,220.16 500.22,221.97 496.05,219.86 491.87,221.66 487.70,219.25" fill="#00e000"/>
<polygon points="487.70,213.86 491.87,211.43 496.05,213.65 500.22,211.88 504.39,212.72 508.57,212.14 512.74,214.49 516.91,209.51 521.09,214.95 525.26,212.68 529.43,213.94 533.61,212.76 537.78,213.21 541.95,214.29 546.13,212.88 550.30,213.03 550.30,222.60 546.13,219.93 541.95,221.79 537.78,220.27 533.61,222.67 529.43,219.40 525.26,223.30 521.09,220.69 516.91,216.60 512.74,220.43 508.57,220.92 504.39,220.34 500.22,223.40 496.05,221.13 491.87,221.42 487.70,219.35" fill="#00e8e8"/>
<polygon points="487.70,213.86 491.87,212.05 496.05,213.38 500.22,212.78 504.39,212.75 508.57,211.85 512.74,214.88 516.91,209.74 521.09,214.92 525.26,213.01 529.43,213.85 533.61,213.05 537.78,213.10 541.95,214.21 546.13,212.11 550.30,213.33 550.30,221.96 546.13,219.80 541.95,220.95 537.78,220.26 533.61,221.48 529.43,219.70 525.26,222.15 521.09,221.20 516.91,216.24 512.74,220.74 508.57,220.68 504.39,220.14 500.22,221.58 496.05,220.28 491.87,220.88 487.70,219.41" fill="#3020ff"/>
<polygon points="487.70,213.28 491.87,212.25 496.05,213.57 500.22,213.06 504.39,213.01 508.57,212.34 512.74,215.19 516.91,209.36 521.09,214.51 525.26,212.36 529.43,213.86 533.61,212.92 537.78,213.32 541.95,214.45 546.13,212.49 550.30,214.47 550.30,221.91 546.13,219.73 541.95,221.68 537.78,220.11 533.61,221.35 529.43,220.05 525.26,221.81 521.09,220.61 516.91,216.41 512.74,220.45 508.57,221.02 504.39,220.18 500.22,222.10 496.05,220.21 491.87,221.94 487.70,219.50" fill="#e000f0"/>
<polygon points="487.70,214.08 491.87,212.40 496.05,214.07 500.22,213.70 504.39,213.15 508.57,212.82 512.74,215.44 516.91,210.21 521.09,215.19 525.26,213.24 529.43,214.22 533.61,213.53 537.78,213.47 541.95,215.31 546.13,213.22 550.30,215.16 550.30,221.51 546.13,219.31 541.95,220.75 537.78,219.54 533.61,220.72 529.43,218.90 525.26,221.28 521.09,220.20 516.91,216.01 512.74,219.74 508.57,220.36 504.39,219.56 500.22,221.08 496.05,219.19 491.87,220.67 487.70,218.94" fill="#ff0032"/>
<text x="628.00" y="197.30" font-size="7.1" fill="#000" text-anchor="middle" font-weight="bold">Cluster 18</text>
<text x="573.30" y="216.90" font-size="5.9" fill="#000" text-anchor="middle" transform="rotate(-90 573.3 216.9)">expression changes</text>
<text x="586.70" y="212.70" font-size="6.3" fill="#000" text-anchor="middle" transform="rotate(-90 586.7 212.7)">2</text>
<text x="586.70" y="223.50" font-size="6.3" fill="#000" text-anchor="middle" transform="rotate(-90 586.7 223.5)">−3</text>
<text x="628.00" y="250.70" font-size="5.7" fill="#111" text-anchor="middle">HOXC9 expression</text>
<path d="M590.70 210.70H595.30M590.70 212.87H595.30M590.70 215.04H595.30M590.70 217.21H595.30M590.70 219.38H595.30M590.70 221.55H595.30M590.70 223.72H595.30M595.10 210.70V223.70M596.70 224.20H659.50M596.90 224.20V228.00M601.06 224.20V228.00M605.22 224.20V228.00M609.38 224.20V228.00M613.54 224.20V228.00M617.70 224.20V228.00M621.86 224.20V228.00M626.02 224.20V228.00M630.18 224.20V228.00M634.34 224.20V228.00M638.50 224.20V228.00M642.66 224.20V228.00M646.82 224.20V228.00M650.98 224.20V228.00M655.14 224.20V228.00M659.30 224.20V228.00" stroke="#333" stroke-width="0.7" fill="none"/>
<polygon points="596.80,212.73 600.97,212.68 605.15,212.18 609.32,213.46 613.49,212.00 617.67,216.45 621.84,211.96 626.01,217.92 630.19,209.04 634.36,209.81 638.53,208.72 642.71,208.07 646.88,213.30 651.05,213.76 655.23,211.65 659.40,214.15 659.40,220.62 655.23,219.28 651.05,219.64 646.88,222.18 642.71,216.29 638.53,217.58 634.36,216.94 630.19,215.71 626.01,223.62 621.84,220.47 617.67,222.46 613.49,222.79 609.32,221.01 605.15,223.30 600.97,220.04 596.80,219.09" fill="#f0f000"/>
<polygon points="596.80,213.19 600.97,212.89 605.15,212.52 609.32,210.75 613.49,212.10 617.67,214.21 621.84,211.85 626.01,215.33 630.19,207.07 634.36,209.71 638.53,210.46 642.71,210.47 646.88,213.12 651.05,213.44 655.23,211.86 659.40,213.76 659.40,220.80 655.23,218.67 651.05,219.16 646.88,220.21 642.71,216.60 638.53,215.47 634.36,216.43 630.19,217.94 626.01,225.83 621.84,220.79 617.67,225.10 613.49,220.67 609.32,220.79 605.15,220.99 600.97,220.35 596.80,218.71" fill="#00e000"/>
<polygon points="596.80,213.34 600.97,210.95 605.15,212.72 609.32,212.67 613.49,211.52 617.67,214.59 621.84,211.68 626.01,217.72 630.19,209.61 634.36,209.55 638.53,209.25 642.71,210.54 646.88,213.55 651.05,213.70 655.23,211.94 659.40,214.15 659.40,222.55 655.23,218.80 651.05,221.13 646.88,220.63 642.71,218.05 638.53,215.20 634.36,216.74 630.19,215.26 626.01,224.33 621.84,220.53 617.67,222.43 613.49,221.46 609.32,221.41 605.15,222.81 600.97,220.81 596.80,220.32" fill="#00e8e8"/>
<polygon points="596.80,213.07 600.97,212.91 605.15,212.09 609.32,213.45 613.49,212.20 617.67,216.15 621.84,210.99 626.01,216.49 630.19,208.66 634.36,208.64 638.53,210.48 642.71,210.14 646.88,212.68 651.05,213.69 655.23,211.66 659.40,213.52 659.40,221.30 655.23,219.22 651.05,220.04 646.88,220.77 642.71,216.48 638.53,214.82 634.36,217.03 630.19,215.88 626.01,224.45 621.84,221.40 617.67,222.70 613.49,220.94 609.32,220.93 605.15,221.57 600.97,220.50 596.80,218.69" fill="#3020ff"/>
<polygon points="596.80,212.86 600.97,212.91 605.15,212.27 609.32,212.96 613.49,211.59 617.67,216.70 621.84,211.61 626.01,218.00 630.19,209.14 634.36,210.11 638.53,210.63 642.71,209.98 646.88,213.33 651.05,213.61 655.23,212.29 659.40,213.99 659.40,220.44 655.23,218.94 651.05,219.90 646.88,220.47 642.71,216.27 638.53,215.15 634.36,216.69 630.19,215.87 626.01,223.58 621.84,220.42 617.67,223.04 613.49,220.03 609.32,221.06 605.15,221.17 600.97,220.35 596.80,219.14" fill="#e000f0"/>
<polygon points="596.80,213.58 600.97,213.21 605.15,213.05 609.32,213.72 613.49,212.43 617.67,216.92 621.84,212.34 626.01,218.25 630.19,209.95 634.36,210.59 638.53,211.46 642.71,210.82 646.88,213.83 651.05,214.28 655.23,212.61 659.40,214.36 659.40,220.30 655.23,218.40 651.05,218.87 646.88,219.63 642.71,215.95 638.53,214.61 634.36,216.13 630.19,215.01 626.01,223.42 621.84,220.20 617.67,222.17 613.49,219.83 609.32,220.32 605.15,220.75 600.97,219.80 596.80,218.45" fill="#ff0032"/>
<text x="82.50" y="275.50" font-size="7.1" fill="#000" text-anchor="middle" font-weight="bold">Cluster 19</text>
<text x="27.80" y="295.10" font-size="5.9" fill="#000" text-anchor="middle" transform="rotate(-90 27.8 295.1)">expression changes</text>
<text x="41.20" y="290.90" font-size="6.3" fill="#000" text-anchor="middle" transform="rotate(-90 41.2 290.90000000000003)">2</text>
<text x="41.20" y="301.70" font-size="6.3" fill="#000" text-anchor="middle" transform="rotate(-90 41.2 301.70000000000005)">−3</text>
<text x="82.50" y="328.90" font-size="5.7" fill="#111" text-anchor="middle">HOXC9 expression</text>
<path d="M45.20 288.90H49.80M45.20 291.07H49.80M45.20 293.24H49.80M45.20 295.41H49.80M45.20 297.58H49.80M45.20 299.75H49.80M45.20 301.92H49.80M49.60 288.90V301.90M51.20 302.40H114.00M51.40 302.40V306.20M55.56 302.40V306.20M59.72 302.40V306.20M63.88 302.40V306.20M68.04 302.40V306.20M72.20 302.40V306.20M76.36 302.40V306.20M80.52 302.40V306.20M84.68 302.40V306.20M88.84 302.40V306.20M93.00 302.40V306.20M97.16 302.40V306.20M101.32 302.40V306.20M105.48 302.40V306.20M109.64 302.40V306.20M113.80 302.40V306.20" stroke="#333" stroke-width="0.7" fill="none"/>
<polygon points="51.30,291.11 55.47,287.76 59.65,292.02 63.82,290.82 67.99,290.00 72.17,291.51 76.34,291.77 80.51,290.50 84.69,292.39 88.86,290.71 93.03,291.35 97.21,291.47 101.38,292.31 105.55,290.71 109.73,292.75 113.90,292.73 113.90,300.24 109.73,298.99 105.55,299.03 101.38,298.62 97.21,300.31 93.03,297.89 88.86,298.22 84.69,298.17 80.51,301.43 76.34,299.55 72.17,298.44 67.99,297.99 63.82,297.97 59.65,299.46 55.47,293.64 51.30,298.02" fill="#f0f000"/>
<polygon points="51.30,290.94 55.47,285.18 59.65,289.92 63.82,290.42 67.99,291.54 72.17,290.94 76.34,291.87 80.51,290.36 84.69,292.59 88.86,291.42 93.03,291.71 97.21,289.39 101.38,292.55 105.55,291.14 109.73,292.31 113.90,290.60 113.90,300.41 109.73,298.89 105.55,299.30 101.38,301.19 97.21,300.13 93.03,297.35 88.86,298.01 84.69,298.33 80.51,299.20 76.34,299.97 72.17,298.29 67.99,298.08 63.82,297.53 59.65,299.77 55.47,292.95 51.30,297.70" fill="#00e000"/>
<polygon points="51.30,289.95 55.47,286.49 59.65,291.78 63.82,290.89 67.99,290.11 72.17,291.23 76.34,290.30 80.51,290.37 84.69,291.84 88.86,291.34 93.03,291.18 97.21,291.51 101.38,292.47 105.55,289.74 109.73,292.05 113.90,292.83 113.90,299.90 109.73,299.18 105.55,299.67 101.38,298.91 97.21,301.16 93.03,297.30 88.86,298.52 84.69,298.87 80.51,299.51 76.34,300.20 72.17,298.52 67.99,298.59 63.82,299.56 59.65,299.43 55.47,293.04 51.30,297.87" fill="#00e8e8"/>
<polygon points="51.30,291.11 55.47,287.19 59.65,292.29 63.82,290.42 67.99,291.51 72.17,291.55 76.34,291.46 80.51,290.82 84.69,292.53 88.86,290.89 93.03,291.57 97.21,290.86 101.38,291.97 105.55,291.14 109.73,292.45 113.90,292.07 113.90,300.61 109.73,299.37 105.55,299.71 101.38,299.21 97.21,301.19 93.03,297.50 88.86,298.45 84.69,298.12 80.51,299.31 76.34,299.79 72.17,298.24 67.99,298.54 63.82,298.52 59.65,299.96 55.47,293.59 51.30,297.78" fill="#3020ff"/>
<polygon points="51.30,291.47 55.47,287.50 59.65,291.72 63.82,290.81 67.99,292.13 72.17,291.15 76.34,291.84 80.51,291.05 84.69,292.38 88.86,290.56 93.03,291.49 97.21,290.58 101.38,292.84 105.55,291.24 109.73,292.56 113.90,292.62 113.90,299.66 109.73,298.81 105.55,299.59 101.38,299.57 97.21,300.15 93.03,297.43 88.86,298.24 84.69,298.20 80.51,299.60 76.34,299.61 72.17,298.67 67.99,297.89 63.82,297.74 59.65,299.97 55.47,293.29 51.30,297.83" fill="#e000f0"/>
<polygon points="51.30,291.92 55.47,288.15 59.65,292.64 63.82,291.41 67.99,292.38 72.17,291.80 76.34,292.51 80.51,291.24 84.69,292.87 88.86,291.63 93.03,292.13 97.21,291.88 101.38,293.00 105.55,291.49 109.73,293.02 113.90,293.22 113.90,299.48 109.73,298.18 105.55,298.76 101.38,298.28 97.21,299.31 93.03,297.00 88.86,297.66 84.69,297.90 80.51,298.73 76.34,299.25 72.17,297.61 67.99,297.50 63.82,297.19 59.65,298.80 55.47,292.71 51.30,297.39" fill="#ff0032"/>
<text x="191.60" y="275.50" font-size="7.1" fill="#000" text-anchor="middle" font-weight="bold">Cluster 20</text>
<text x="136.90" y="295.10" font-size="5.9" fill="#000" text-anchor="middle" transform="rotate(-90 136.9 295.1)">expression changes</text>
<text x="150.30" y="290.90" font-size="6.3" fill="#000" text-anchor="middle" transform="rotate(-90 150.3 290.90000000000003)">2</text>
<text x="150.30" y="301.70" font-size="6.3" fill="#000" text-anchor="middle" transform="rotate(-90 150.3 301.70000000000005)">−3</text>
<text x="191.60" y="328.90" font-size="5.7" fill="#111" text-anchor="middle">HOXC9 expression</text>
<path d="M154.30 288.90H158.90M154.30 291.07H158.90M154.30 293.24H158.90M154.30 295.41H158.90M154.30 297.58H158.90M154.30 299.75H158.90M154.30 301.92H158.90M158.70 288.90V301.90M160.30 302.40H223.10M160.50 302.40V306.20M164.66 302.40V306.20M168.82 302.40V306.20M172.98 302.40V306.20M177.14 302.40V306.20M181.30 302.40V306.20M185.46 302.40V306.20M189.62 302.40V306.20M193.78 302.40V306.20M197.94 302.40V306.20M202.10 302.40V306.20M206.26 302.40V306.20M210.42 302.40V306.20M214.58 302.40V306.20M218.74 302.40V306.20M222.90 302.40V306.20" stroke="#333" stroke-width="0.7" fill="none"/>
<polygon points="160.40,292.45 164.57,290.93 168.75,292.82 172.92,291.24 177.09,291.74 181.27,292.97 185.44,289.50 189.61,290.85 193.79,291.96 197.96,291.17 202.13,288.83 206.31,291.22 210.48,292.23 214.65,289.93 218.83,292.66 223.00,290.27 223.00,298.38 218.83,299.60 214.65,297.52 210.48,300.13 206.31,298.15 202.13,295.02 197.96,297.97 193.79,300.16 189.61,298.02 185.44,301.52 181.27,298.40 177.09,299.42 172.92,300.14 168.75,302.38 164.57,299.49 160.40,298.49" fill="#f0f000"/>
<polygon points="160.40,290.56 164.57,290.90 168.75,293.50 172.92,289.23 177.09,292.14 181.27,292.44 185.44,289.33 189.61,291.47 193.79,292.07 197.96,288.70 202.13,288.70 206.31,291.55 210.48,292.60 214.65,289.79 218.83,292.35 223.00,289.86 223.00,298.30 218.83,302.18 214.65,297.73 210.48,299.55 206.31,298.20 202.13,295.24 197.96,298.56 193.79,300.26 189.61,298.43 185.44,299.43 181.27,298.61 177.09,298.88 172.92,298.26 168.75,299.67 164.57,299.28 160.40,298.83" fill="#00e000"/>
<polygon points="160.40,292.79 164.57,291.10 168.75,292.74 172.92,290.70 177.09,291.52 181.27,292.89 185.44,291.72 189.61,290.99 193.79,292.62 197.96,290.66 202.13,289.35 206.31,291.46 210.48,291.97 214.65,289.53 218.83,290.89 223.00,290.32 223.00,298.30 218.83,299.57 214.65,297.27 210.48,300.00 206.31,298.95 202.13,296.54 197.96,298.75 193.79,299.60 189.61,298.11 185.44,299.87 181.27,298.72 177.09,300.92 172.92,298.18 168.75,300.01 164.57,298.90 160.40,298.88" fill="#00e8e8"/>
<polygon points="160.40,292.16 164.57,290.65 168.75,293.26 172.92,291.32 177.09,291.73 181.27,293.10 185.44,291.15 189.61,290.02 193.79,292.44 197.96,291.11 202.13,289.48 206.31,290.85 210.48,292.35 214.65,289.61 218.83,292.17 223.00,290.51 223.00,299.20 218.83,299.35 214.65,297.33 210.48,299.56 206.31,299.38 202.13,295.33 197.96,298.09 193.79,300.44 189.61,298.35 185.44,299.42 181.27,298.95 177.09,298.84 172.92,298.67 168.75,300.06 164.57,299.72 160.40,298.06" fill="#3020ff"/>
<polygon points="160.40,293.03 164.57,290.89 168.75,293.67 172.92,291.48 177.09,291.75 181.27,292.98 185.44,291.61 189.61,291.05 193.79,292.43 197.96,290.99 202.13,288.92 206.31,291.28 210.48,292.39 214.65,289.78 218.83,292.65 223.00,290.48 223.00,298.19 218.83,299.32 214.65,297.46 210.48,299.55 206.31,298.10 202.13,295.58 197.96,298.30 193.79,299.42 189.61,298.19 185.44,300.25 181.27,298.66 177.09,299.45 172.92,298.74 168.75,300.16 164.57,298.77 160.40,298.19" fill="#e000f0"/>
<polygon points="160.40,293.15 164.57,291.43 168.75,293.78 172.92,291.73 177.09,292.59 181.27,293.33 185.44,292.21 189.61,291.68 193.79,292.83 197.96,291.39 202.13,289.70 206.31,291.95 210.48,292.82 214.65,290.58 218.83,293.33 223.00,290.79 223.00,297.74 218.83,299.12 214.65,297.03 210.48,299.17 206.31,297.91 202.13,294.44 197.96,297.68 193.79,299.28 189.61,297.49 185.44,298.93 181.27,297.99 177.09,298.46 172.92,297.75 168.75,299.40 164.57,298.61 160.40,297.86" fill="#ff0032"/>
<text x="300.70" y="275.50" font-size="7.1" fill="#000" text-anchor="middle" font-weight="bold">Cluster 21</text>
<text x="246.00" y="295.10" font-size="5.9" fill="#000" text-anchor="middle" transform="rotate(-90 246.0 295.1)">expression changes</text>
<text x="259.40" y="290.90" font-size="6.3" fill="#000" text-anchor="middle" transform="rotate(-90 259.4 290.90000000000003)">2</text>
<text x="259.40" y="301.70" font-size="6.3" fill="#000" text-anchor="middle" transform="rotate(-90 259.4 301.70000000000005)">−3</text>
<text x="300.70" y="328.90" font-size="5.7" fill="#111" text-anchor="middle">HOXC9 expression</text>
<path d="M263.40 288.90H268.00M263.40 291.07H268.00M263.40 293.24H268.00M263.40 295.41H268.00M263.40 297.58H268.00M263.40 299.75H268.00M263.40 301.92H268.00M267.80 288.90V301.90M269.40 302.40H332.20M269.60 302.40V306.20M273.76 302.40V306.20M277.92 302.40V306.20M282.08 302.40V306.20M286.24 302.40V306.20M290.40 302.40V306.20M294.56 302.40V306.20M298.72 302.40V306.20M302.88 302.40V306.20M307.04 302.40V306.20M311.20 302.40V306.20M315.36 302.40V306.20M319.52 302.40V306.20M323.68 302.40V306.20M327.84 302.40V306.20M332.00 302.40V306.20" stroke="#333" stroke-width="0.7" fill="none"/>
<polygon points="269.50,291.56 273.67,290.80 277.85,292.05 282.02,292.32 286.19,291.27 290.37,292.59 294.54,289.91 298.71,293.06 302.89,289.15 307.06,293.25 311.23,291.27 315.41,291.48 319.58,290.33 323.75,292.06 327.93,287.99 332.10,291.06 332.10,298.87 327.93,295.94 323.75,298.31 319.58,299.30 315.41,297.35 311.23,300.12 307.06,300.40 302.89,299.32 298.71,300.03 294.54,299.03 290.37,299.72 286.19,299.76 282.02,300.16 277.85,298.22 273.67,299.84 269.50,297.68" fill="#f0f000"/>
<polygon points="269.50,292.26 273.67,288.58 277.85,289.72 282.02,292.06 286.19,291.48 290.37,292.91 294.54,290.17 298.71,292.58 302.89,290.56 307.06,293.01 311.23,290.85 315.41,291.66 319.58,289.89 323.75,289.68 327.93,288.00 332.10,291.22 332.10,298.94 327.93,295.95 323.75,298.22 319.58,299.08 315.41,297.82 311.23,301.73 307.06,300.32 302.89,299.16 298.71,299.98 294.54,299.43 290.37,299.76 286.19,298.12 282.02,299.53 277.85,298.43 273.67,299.80 269.50,298.13" fill="#00e000"/>
<polygon points="269.50,291.62 273.67,290.52 277.85,291.53 282.02,292.11 286.19,291.46 290.37,292.47 294.54,290.26 298.71,292.64 302.89,289.62 307.06,293.21 311.23,290.92 315.41,291.93 319.58,290.51 323.75,290.89 327.93,288.43 332.10,293.04 332.10,298.38 327.93,297.25 323.75,298.75 319.58,299.03 315.41,297.77 311.23,300.24 307.06,300.64 302.89,299.93 298.71,299.50 294.54,299.27 290.37,301.64 286.19,299.70 282.02,299.71 277.85,297.98 273.67,299.91 269.50,297.81" fill="#00e8e8"/>
<polygon points="269.50,291.35 273.67,290.12 277.85,292.03 282.02,291.54 286.19,290.79 290.37,292.91 294.54,290.49 298.71,292.27 302.89,291.23 307.06,293.19 311.23,291.19 315.41,291.08 319.58,290.17 323.75,291.81 327.93,288.22 332.10,291.91 332.10,298.48 327.93,295.24 323.75,299.63 319.58,298.92 315.41,297.52 311.23,299.89 307.06,300.95 302.89,299.74 298.71,300.36 294.54,299.13 290.37,300.38 286.19,297.45 282.02,300.95 277.85,299.24 273.67,300.44 269.50,298.03" fill="#3020ff"/>
<polygon points="269.50,292.06 273.67,290.69 277.85,291.72 282.02,291.91 286.19,291.47 290.37,292.96 294.54,290.33 298.71,292.81 302.89,290.70 307.06,292.74 311.23,291.18 315.41,291.59 319.58,290.57 323.75,292.47 327.93,288.59 332.10,293.52 332.10,298.21 327.93,295.60 323.75,298.29 319.58,298.87 315.41,298.15 311.23,299.71 307.06,300.45 302.89,299.10 298.71,299.30 294.54,299.15 290.37,300.07 286.19,298.35 282.02,299.46 277.85,298.17 273.67,300.10 269.50,297.56" fill="#e000f0"/>
<polygon points="269.50,292.50 273.67,291.07 277.85,292.57 282.02,292.73 286.19,291.74 290.37,293.20 294.54,290.80 298.71,293.41 302.89,291.43 307.06,293.61 311.23,291.65 315.41,292.18 319.58,290.85 323.75,292.58 327.93,288.97 332.10,293.69 332.10,297.98 327.93,295.04 323.75,297.66 319.58,298.71 315.41,297.13 311.23,299.20 307.06,299.80 302.89,298.90 298.71,299.14 294.54,298.65 290.37,299.42 286.19,297.24 282.02,299.30 277.85,297.47 273.67,299.33 269.50,297.42" fill="#ff0032"/>
<text x="409.80" y="275.50" font-size="7.1" fill="#000" text-anchor="middle" font-weight="bold">Cluster 22</text>
<text x="355.10" y="295.10" font-size="5.9" fill="#000" text-anchor="middle" transform="rotate(-90 355.09999999999997 295.1)">expression changes</text>
<text x="368.50" y="290.90" font-size="6.3" fill="#000" text-anchor="middle" transform="rotate(-90 368.49999999999994 290.90000000000003)">2</text>
<text x="368.50" y="301.70" font-size="6.3" fill="#000" text-anchor="middle" transform="rotate(-90 368.49999999999994 301.70000000000005)">−3</text>
<text x="409.80" y="328.90" font-size="5.7" fill="#111" text-anchor="middle">HOXC9 expression</text>
<path d="M372.50 288.90H377.10M372.50 291.07H377.10M372.50 293.24H377.10M372.50 295.41H377.10M372.50 297.58H377.10M372.50 299.75H377.10M372.50 301.92H377.10M376.90 288.90V301.90M378.50 302.40H441.30M378.70 302.40V306.20M382.86 302.40V306.20M387.02 302.40V306.20M391.18 302.40V306.20M395.34 302.40V306.20M399.50 302.40V306.20M403.66 302.40V306.20M407.82 302.40V306.20M411.98 302.40V306.20M416.14 302.40V306.20M420.30 302.40V306.20M424.46 302.40V306.20M428.62 302.40V306.20M432.78 302.40V306.20M436.94 302.40V306.20M441.10 302.40V306.20" stroke="#333" stroke-width="0.7" fill="none"/>
<polygon points="378.60,291.66 382.77,290.60 386.95,290.13 391.12,290.87 395.29,293.52 399.47,289.64 403.64,290.39 407.81,291.57 411.99,291.05 416.16,292.01 420.33,290.54 424.51,291.88 428.68,290.24 432.85,290.64 437.03,287.51 441.20,292.84 441.20,300.71 437.03,293.41 432.85,298.21 428.68,299.30 424.51,297.86 420.33,299.05 416.16,297.11 411.99,298.36 407.81,300.71 403.64,299.46 399.47,299.23 395.29,298.84 391.12,298.90 386.95,297.68 382.77,298.92 378.60,298.29" fill="#f0f000"/>
<polygon points="378.60,291.48 382.77,290.01 386.95,291.50 391.12,290.12 395.29,293.29 399.47,291.44 403.64,293.07 407.81,291.51 411.99,291.54 416.16,291.79 420.33,290.39 424.51,292.61 428.68,290.35 432.85,292.07 437.03,287.01 441.20,292.47 441.20,300.48 437.03,295.90 432.85,298.29 428.68,301.53 424.51,298.57 420.33,299.29 416.16,297.60 411.99,297.84 407.81,302.72 403.64,301.49 399.47,301.36 395.29,301.01 391.12,299.62 386.95,297.47 382.77,299.25 378.60,298.09" fill="#00e000"/>
<polygon points="378.60,290.05 382.77,290.13 386.95,291.28 391.12,288.75 395.29,292.13 399.47,291.65 403.64,291.35 407.81,291.93 411.99,291.51 416.16,289.85 420.33,289.98 424.51,292.01 428.68,290.45 432.85,292.12 437.03,287.21 441.20,292.68 441.20,300.72 437.03,293.83 432.85,298.61 428.68,298.94 424.51,298.07 420.33,299.25 416.16,297.89 411.99,298.42 407.81,300.29 403.64,300.48 399.47,300.01 395.29,299.68 391.12,299.21 386.95,297.66 382.77,300.32 378.60,298.24" fill="#00e8e8"/>
<polygon points="378.60,292.04 382.77,290.47 386.95,291.89 391.12,290.66 395.29,292.60 399.47,291.00 403.64,292.87 407.81,290.64 411.99,291.26 416.16,291.86 420.33,290.26 424.51,292.59 428.68,289.59 432.85,292.79 437.03,286.30 441.20,292.82 441.20,300.34 437.03,294.82 432.85,298.34 428.68,299.25 424.51,298.72 420.33,298.79 416.16,296.99 411.99,298.50 407.81,300.30 403.64,298.89 399.47,299.44 395.29,298.54 391.12,299.32 386.95,298.25 382.77,299.39 378.60,297.69" fill="#3020ff"/>
<polygon points="378.60,291.69 382.77,290.03 386.95,291.68 391.12,290.73 395.29,293.47 399.47,290.96 403.64,292.58 407.81,292.24 411.99,291.74 416.16,291.65 420.33,290.05 424.51,292.05 428.68,289.56 432.85,292.40 437.03,287.27 441.20,292.68 441.20,300.22 437.03,293.83 432.85,298.07 428.68,298.74 424.51,298.63 420.33,298.85 416.16,297.11 411.99,297.81 407.81,300.72 403.64,299.18 399.47,299.45 395.29,298.58 391.12,298.96 386.95,298.01 382.77,299.19 378.60,297.54" fill="#e000f0"/>
<polygon points="378.60,292.34 382.77,290.94 386.95,292.36 391.12,291.09 395.29,293.78 399.47,291.94 403.64,293.28 407.81,292.40 411.99,291.90 416.16,292.32 420.33,291.08 424.51,292.86 428.68,290.66 432.85,293.05 437.03,288.01 441.20,293.27 441.20,299.90 437.03,293.09 432.85,297.86 428.68,298.52 424.51,297.62 420.33,298.33 416.16,296.79 411.99,297.49 407.81,300.09 403.64,298.51 399.47,298.95 395.29,298.04 391.12,298.65 386.95,297.22 382.77,298.64 378.60,297.34" fill="#ff0032"/>
<text x="518.90" y="275.50" font-size="7.1" fill="#000" text-anchor="middle" font-weight="bold">Cluster 23</text>
<text x="464.20" y="295.10" font-size="5.9" fill="#000" text-anchor="middle" transform="rotate(-90 464.2 295.1)">expression changes</text>
<text x="477.60" y="290.90" font-size="6.3" fill="#000" text-anchor="middle" transform="rotate(-90 477.59999999999997 290.90000000000003)">2</text>
<text x="477.60" y="301.70" font-size="6.3" fill="#000" text-anchor="middle" transform="rotate(-90 477.59999999999997 301.70000000000005)">−3</text>
<text x="518.90" y="328.90" font-size="5.7" fill="#111" text-anchor="middle">HOXC9 expression</text>
<path d="M481.60 288.90H486.20M481.60 291.07H486.20M481.60 293.24H486.20M481.60 295.41H486.20M481.60 297.58H486.20M481.60 299.75H486.20M481.60 301.92H486.20M486.00 288.90V301.90M487.60 302.40H550.40M487.80 302.40V306.20M491.96 302.40V306.20M496.12 302.40V306.20M500.28 302.40V306.20M504.44 302.40V306.20M508.60 302.40V306.20M512.76 302.40V306.20M516.92 302.40V306.20M521.08 302.40V306.20M525.24 302.40V306.20M529.40 302.40V306.20M533.56 302.40V306.20M537.72 302.40V306.20M541.88 302.40V306.20M546.04 302.40V306.20M550.20 302.40V306.20" stroke="#333" stroke-width="0.7" fill="none"/>
<polygon points="487.70,292.56 491.87,292.49 496.05,291.09 500.22,292.66 504.39,293.06 508.57,291.30 512.74,290.20 516.91,290.84 521.09,292.58 525.26,290.53 529.43,291.01 533.61,289.81 537.78,291.31 541.95,288.99 546.13,290.21 550.30,291.58 550.30,297.64 546.13,300.46 541.95,297.34 537.78,298.30 533.61,297.85 529.43,298.87 525.26,298.21 521.09,299.78 516.91,298.72 512.74,298.66 508.57,299.12 504.39,300.41 500.22,299.31 496.05,300.57 491.87,298.51 487.70,299.91" fill="#f0f000"/>
<polygon points="487.70,292.55 491.87,292.33 496.05,289.04 500.22,292.66 504.39,292.49 508.57,291.63 512.74,292.16 516.91,290.74 521.09,292.52 525.26,290.60 529.43,290.99 533.61,289.99 537.78,291.20 541.95,291.29 546.13,289.92 550.30,291.54 550.30,297.85 546.13,298.12 541.95,297.10 537.78,298.30 533.61,299.64 529.43,298.51 525.26,298.29 521.09,299.94 516.91,298.61 512.74,298.60 508.57,298.88 504.39,300.71 500.22,299.07 496.05,300.13 491.87,298.77 487.70,299.97" fill="#00e000"/>
<polygon points="487.70,290.72 491.87,292.72 496.05,291.11 500.22,292.94 504.39,291.80 508.57,291.39 512.74,292.17 516.91,290.96 521.09,292.10 525.26,290.29 529.43,291.39 533.61,289.42 537.78,290.92 541.95,291.10 546.13,289.72 550.30,291.08 550.30,297.96 546.13,300.07 541.95,297.12 537.78,298.86 533.61,297.63 529.43,299.31 525.26,297.84 521.09,300.17 516.91,299.80 512.74,298.23 508.57,300.01 504.39,300.49 500.22,299.27 496.05,300.62 491.87,298.44 487.70,300.49" fill="#00e8e8"/>
<polygon points="487.70,292.88 491.87,292.65 496.05,290.46 500.22,291.68 504.39,292.83 508.57,290.89 512.74,291.89 516.91,292.23 521.09,291.80 525.26,289.52 529.43,290.52 533.61,290.08 537.78,290.69 541.95,290.64 546.13,289.36 550.30,291.15 550.30,297.50 546.13,298.15 541.95,296.92 537.78,299.88 533.61,297.35 529.43,299.35 525.26,297.77 521.09,299.78 516.91,298.31 512.74,298.57 508.57,300.05 504.39,300.47 500.22,299.06 496.05,300.38 491.87,298.23 487.70,300.46" fill="#3020ff"/>
<polygon points="487.70,292.92 491.87,292.18 496.05,291.37 500.22,292.89 504.39,292.70 508.57,291.53 512.74,292.02 516.91,293.08 521.09,291.66 525.26,290.87 529.43,290.99 533.61,289.72 537.78,290.79 541.95,291.13 546.13,290.27 550.30,291.74 550.30,297.52 546.13,298.18 541.95,297.56 537.78,298.20 533.61,297.88 529.43,298.71 525.26,298.09 521.09,299.75 516.91,298.24 512.74,298.39 508.57,299.24 504.39,300.51 500.22,299.25 496.05,300.24 491.87,298.51 487.70,300.43" fill="#e000f0"/>
<polygon points="487.70,293.15 491.87,292.99 496.05,292.02 500.22,293.54 504.39,293.41 508.57,291.98 512.74,292.92 516.91,293.36 521.09,292.95 525.26,291.02 529.43,291.72 533.61,290.45 537.78,291.61 541.95,291.82 546.13,290.51 550.30,291.93 550.30,296.96 546.13,297.86 541.95,296.69 537.78,297.96 533.61,297.13 529.43,298.21 525.26,297.52 521.09,299.22 516.91,297.82 512.74,297.72 508.57,298.40 504.39,299.76 500.22,298.56 496.05,299.63 491.87,297.86 487.70,299.46" fill="#ff0032"/>
<text x="628.00" y="275.50" font-size="7.1" fill="#000" text-anchor="middle" font-weight="bold">Cluster 24</text>
<text x="573.30" y="295.10" font-size="5.9" fill="#000" text-anchor="middle" transform="rotate(-90 573.3 295.1)">expression changes</text>
<text x="586.70" y="290.90" font-size="6.3" fill="#000" text-anchor="middle" transform="rotate(-90 586.7 290.90000000000003)">2</text>
<text x="586.70" y="301.70" font-size="6.3" fill="#000" text-anchor="middle" transform="rotate(-90 586.7 301.70000000000005)">−3</text>
<text x="628.00" y="328.90" font-size="5.7" fill="#111" text-anchor="middle">HOXC9 expression</text>
<path d="M590.70 288.90H595.30M590.70 291.07H595.30M590.70 293.24H595.30M590.70 295.41H595.30M590.70 297.58H595.30M590.70 299.75H595.30M590.70 301.92H595.30M595.10 288.90V301.90M596.70 302.40H659.50M596.90 302.40V306.20M601.06 302.40V306.20M605.22 302.40V306.20M609.38 302.40V306.20M613.54 302.40V306.20M617.70 302.40V306.20M621.86 302.40V306.20M626.02 302.40V306.20M630.18 302.40V306.20M634.34 302.40V306.20M638.50 302.40V306.20M642.66 302.40V306.20M646.82 302.40V306.20M650.98 302.40V306.20M655.14 302.40V306.20M659.30 302.40V306.20" stroke="#333" stroke-width="0.7" fill="none"/>
<polygon points="596.80,297.18 600.97,290.60 605.15,290.70 609.32,291.25 613.49,291.58 617.67,290.55 621.84,290.59 626.01,291.30 630.19,291.98 634.36,290.16 638.53,291.80 642.71,290.03 646.88,291.94 651.05,291.64 655.23,290.91 659.40,292.14 659.40,301.59 655.23,298.47 651.05,299.28 646.88,297.91 642.71,298.61 638.53,297.24 634.36,299.66 630.19,297.87 626.01,302.61 621.84,299.78 617.67,299.94 613.49,299.27 609.32,297.86 605.15,298.98 600.97,299.53 596.80,301.90" fill="#f0f000"/>
<polygon points="596.80,296.76 600.97,290.70 605.15,290.48 609.32,291.11 613.49,289.22 617.67,290.25 621.84,292.57 626.01,291.56 630.19,291.99 634.36,288.56 638.53,289.85 642.71,289.82 646.88,291.72 651.05,291.93 655.23,290.22 659.40,289.81 659.40,299.26 655.23,297.94 651.05,299.10 646.88,297.77 642.71,298.89 638.53,297.43 634.36,299.55 630.19,300.46 626.01,300.17 621.84,300.22 617.67,300.00 613.49,299.05 609.32,297.65 605.15,299.24 600.97,299.57 596.80,301.90" fill="#00e000"/>
<polygon points="596.80,296.74 600.97,289.54 605.15,289.12 609.32,289.67 613.49,291.80 617.67,290.58 621.84,292.57 626.01,290.05 630.19,292.14 634.36,290.58 638.53,292.50 642.71,289.67 646.88,291.63 651.05,292.09 655.23,290.89 659.40,290.85 659.40,300.75 655.23,299.62 651.05,298.91 646.88,297.89 642.71,300.51 638.53,297.05 634.36,300.02 630.19,299.67 626.01,300.83 621.84,301.44 617.67,299.97 613.49,300.76 609.32,297.71 605.15,300.50 600.97,299.93 596.80,303.58" fill="#00e8e8"/>
<polygon points="596.80,296.99 600.97,291.07 605.15,290.25 609.32,291.24 613.49,291.34 617.67,290.98 621.84,292.23 626.01,290.69 630.19,292.04 634.36,290.24 638.53,291.64 642.71,289.71 646.88,291.56 651.05,291.23 655.23,290.28 659.40,291.96 659.40,299.89 655.23,298.12 651.05,299.49 646.88,297.57 642.71,298.83 638.53,297.58 634.36,300.19 630.19,298.07 626.01,301.21 621.84,299.92 617.67,299.78 613.49,299.80 609.32,297.72 605.15,299.26 600.97,299.72 596.80,301.54" fill="#3020ff"/>
<polygon points="596.80,297.54 600.97,290.77 605.15,290.50 609.32,291.65 613.49,291.80 617.67,290.87 621.84,292.39 626.01,292.14 630.19,292.57 634.36,290.37 638.53,292.26 642.71,289.35 646.88,291.49 651.05,292.10 655.23,290.78 659.40,292.52 659.40,299.57 655.23,298.02 651.05,299.35 646.88,297.86 642.71,298.40 638.53,296.85 634.36,299.79 630.19,297.75 626.01,300.29 621.84,299.76 617.67,300.16 613.49,298.98 609.32,297.58 605.15,299.22 600.97,299.69 596.80,301.38" fill="#e000f0"/>
<polygon points="596.80,297.69 600.97,291.56 605.15,290.99 609.32,291.94 613.49,292.20 617.67,291.23 621.84,292.90 626.01,292.28 630.19,292.78 634.36,291.14 638.53,292.71 642.71,290.73 646.88,292.48 651.05,292.31 655.23,291.19 659.40,292.92 659.40,298.74 655.23,297.54 651.05,298.69 646.88,297.07 642.71,298.12 638.53,296.74 634.36,299.01 630.19,297.31 626.01,299.90 621.84,299.42 617.67,299.36 613.49,298.65 609.32,296.88 605.15,298.44 600.97,299.14 596.80,301.10" fill="#ff0032"/>
<text x="82.50" y="353.70" font-size="7.1" fill="#000" text-anchor="middle" font-weight="bold">Cluster 25</text>
<text x="27.80" y="373.30" font-size="5.9" fill="#000" text-anchor="middle" transform="rotate(-90 27.8 373.3)">expression changes</text>
<text x="41.20" y="369.10" font-size="6.3" fill="#000" text-anchor="middle" transform="rotate(-90 41.2 369.1)">2</text>
<text x="41.20" y="379.90" font-size="6.3" fill="#000" text-anchor="middle" transform="rotate(-90 41.2 379.9)">−3</text>
<text x="82.50" y="407.10" font-size="5.7" fill="#111" text-anchor="middle">HOXC9 expression</text>
<path d="M45.20 367.10H49.80M45.20 369.27H49.80M45.20 371.44H49.80M45.20 373.61H49.80M45.20 375.78H49.80M45.20 377.95H49.80M45.20 380.12H49.80M49.60 367.10V380.10M51.20 380.60H114.00M51.40 380.60V384.40M55.56 380.60V384.40M59.72 380.60V384.40M63.88 380.60V384.40M68.04 380.60V384.40M72.20 380.60V384.40M76.36 380.60V384.40M80.52 380.60V384.40M84.68 380.60V384.40M88.84 380.60V384.40M93.00 380.60V384.40M97.16 380.60V384.40M101.32 380.60V384.40M105.48 380.60V384.40M109.64 380.60V384.40M113.80 380.60V384.40" stroke="#333" stroke-width="0.7" fill="none"/>
<polygon points="51.30,369.80 55.47,368.11 59.65,369.86 63.82,368.76 67.99,368.26 72.17,370.41 76.34,368.02 80.51,367.59 84.69,365.52 88.86,368.48 93.03,370.15 97.21,370.39 101.38,369.76 105.55,367.65 109.73,370.26 113.90,368.87 113.90,376.39 109.73,377.79 105.55,376.09 101.38,377.59 97.21,377.69 93.03,378.00 88.86,375.78 84.69,372.79 80.51,376.76 76.34,377.64 72.17,378.77 67.99,380.16 63.82,376.39 59.65,377.44 55.47,377.23 51.30,375.59" fill="#f0f000"/>
<polygon points="51.30,370.47 55.47,368.36 59.65,369.60 63.82,368.56 67.99,370.09 72.17,371.91 76.34,369.75 80.51,368.00 84.69,365.23 88.86,368.03 93.03,370.47 97.21,370.55 101.38,369.46 105.55,369.66 109.73,370.30 113.90,369.21 113.90,375.89 109.73,379.70 105.55,376.55 101.38,379.84 97.21,379.74 93.03,379.73 88.86,375.53 84.69,372.83 80.51,376.63 76.34,377.29 72.17,378.88 67.99,380.35 63.82,378.52 59.65,377.76 55.47,377.56 51.30,375.70" fill="#00e000"/>
<polygon points="51.30,368.83 55.47,368.48 59.65,369.49 63.82,368.49 67.99,368.42 72.17,371.85 76.34,370.28 80.51,368.25 84.69,365.94 88.86,366.83 93.03,370.14 97.21,370.76 101.38,369.73 105.55,369.75 109.73,370.09 113.90,368.96 113.90,375.96 109.73,377.22 105.55,377.73 101.38,379.36 97.21,377.60 93.03,377.72 88.86,375.56 84.69,374.04 80.51,376.87 76.34,379.26 72.17,379.29 67.99,377.62 63.82,376.23 59.65,378.76 55.47,377.05 51.30,377.65" fill="#00e8e8"/>
<polygon points="51.30,370.38 55.47,368.31 59.65,369.87 63.82,368.74 67.99,369.79 72.17,371.10 76.34,370.07 80.51,367.52 84.69,367.13 88.86,368.56 93.03,370.10 97.21,370.79 101.38,369.54 105.55,369.55 109.73,370.52 113.90,369.18 113.90,376.49 109.73,377.68 105.55,376.04 101.38,377.53 97.21,378.85 93.03,377.75 88.86,375.79 84.69,372.38 80.51,377.04 76.34,377.25 72.17,379.55 67.99,377.87 63.82,376.31 59.65,377.62 55.47,376.92 51.30,375.98" fill="#3020ff"/>
<polygon points="51.30,370.15 55.47,368.18 59.65,369.87 63.82,369.13 67.99,370.01 72.17,371.50 76.34,370.41 80.51,368.16 84.69,367.28 88.86,368.37 93.03,370.57 97.21,370.54 101.38,369.34 105.55,369.98 109.73,370.30 113.90,368.86 113.90,375.94 109.73,377.35 105.55,376.18 101.38,377.81 97.21,377.55 93.03,378.27 88.86,375.66 84.69,372.90 80.51,376.99 76.34,377.77 72.17,378.62 67.99,378.12 63.82,376.27 59.65,377.82 55.47,377.00 51.30,376.43" fill="#e000f0"/>
<polygon points="51.30,370.74 55.47,368.97 59.65,370.29 63.82,369.54 67.99,370.88 72.17,372.73 76.34,370.56 80.51,368.59 84.69,368.07 88.86,368.88 93.03,370.95 97.21,371.15 101.38,370.03 105.55,370.63 109.73,370.84 113.90,369.58 113.90,375.46 109.73,376.98 105.55,375.80 101.38,377.28 97.21,377.32 93.03,377.10 88.86,375.16 84.69,372.15 80.51,376.17 76.34,377.02 72.17,378.42 67.99,377.34 63.82,375.39 59.65,377.11 55.47,376.60 51.30,375.17" fill="#ff0032"/>
<text x="191.60" y="353.70" font-size="7.1" fill="#000" text-anchor="middle" font-weight="bold">Cluster 26</text>
<text x="136.90" y="373.30" font-size="5.9" fill="#000" text-anchor="middle" transform="rotate(-90 136.9 373.3)">expression changes</text>
<text x="150.30" y="369.10" font-size="6.3" fill="#000" text-anchor="middle" transform="rotate(-90 150.3 369.1)">2</text>
<text x="150.30" y="379.90" font-size="6.3" fill="#000" text-anchor="middle" transform="rotate(-90 150.3 379.9)">−3</text>
<text x="191.60" y="407.10" font-size="5.7" fill="#111" text-anchor="middle">HOXC9 expression</text>
<path d="M154.30 367.10H158.90M154.30 369.27H158.90M154.30 371.44H158.90M154.30 373.61H158.90M154.30 375.78H158.90M154.30 377.95H158.90M154.30 380.12H158.90M158.70 367.10V380.10M160.30 380.60H223.10M160.50 380.60V384.40M164.66 380.60V384.40M168.82 380.60V384.40M172.98 380.60V384.40M177.14 380.60V384.40M181.30 380.60V384.40M185.46 380.60V384.40M189.62 380.60V384.40M193.78 380.60V384.40M197.94 380.60V384.40M202.10 380.60V384.40M206.26 380.60V384.40M210.42 380.60V384.40M214.58 380.60V384.40M218.74 380.60V384.40M222.90 380.60V384.40" stroke="#333" stroke-width="0.7" fill="none"/>
<polygon points="160.40,370.72 164.57,369.71 168.75,370.07 172.92,369.24 177.09,369.69 181.27,366.56 185.44,370.53 189.61,368.72 193.79,369.13 197.96,367.21 202.13,368.74 206.31,370.42 210.48,366.61 214.65,369.28 218.83,370.83 223.00,368.76 223.00,377.88 218.83,376.07 214.65,379.64 210.48,376.35 206.31,377.51 202.13,376.07 197.96,373.87 193.79,377.56 189.61,375.65 185.44,376.84 181.27,375.97 177.09,377.62 172.92,376.31 168.75,377.47 164.57,377.41 160.40,377.39" fill="#f0f000"/>
<polygon points="160.40,370.14 164.57,369.88 168.75,370.74 172.92,368.69 177.09,370.06 181.27,368.50 185.44,368.05 189.61,368.88 193.79,369.01 197.96,367.07 202.13,368.88 206.31,368.03 210.48,366.70 214.65,368.86 218.83,370.77 223.00,369.06 223.00,377.95 218.83,376.31 214.65,379.72 210.48,376.04 206.31,379.24 202.13,376.71 197.96,374.07 193.79,377.26 189.61,376.08 185.44,376.61 181.27,378.53 177.09,379.40 172.92,375.63 168.75,377.20 164.57,377.30 160.40,377.31" fill="#00e000"/>
<polygon points="160.40,370.83 164.57,369.52 168.75,369.84 172.92,368.97 177.09,369.91 181.27,368.28 185.44,370.24 189.61,368.23 193.79,368.46 197.96,366.97 202.13,369.18 206.31,370.21 210.48,366.67 214.65,368.52 218.83,370.54 223.00,367.10 223.00,378.79 218.83,377.99 214.65,379.52 210.48,377.48 206.31,377.09 202.13,378.03 197.96,371.24 193.79,377.32 189.61,375.89 185.44,376.98 181.27,375.67 177.09,377.75 172.92,375.64 168.75,377.44 164.57,377.44 160.40,377.54" fill="#00e8e8"/>
<polygon points="160.40,370.18 164.57,369.43 168.75,369.77 172.92,367.77 177.09,369.78 181.27,368.01 185.44,370.80 189.61,368.73 193.79,368.83 197.96,367.03 202.13,368.42 206.31,370.12 210.48,368.89 214.65,368.82 218.83,370.75 223.00,368.61 223.00,377.95 218.83,377.51 214.65,378.29 210.48,375.89 206.31,377.21 202.13,376.50 197.96,371.86 193.79,378.34 189.61,376.42 185.44,376.35 181.27,375.93 177.09,377.49 172.92,376.61 168.75,377.35 164.57,378.01 160.40,376.88" fill="#3020ff"/>
<polygon points="160.40,370.55 164.57,370.10 168.75,370.09 172.92,368.67 177.09,369.52 181.27,368.01 185.44,370.58 189.61,368.81 193.79,369.10 197.96,366.78 202.13,368.63 206.31,370.09 210.48,368.87 214.65,368.76 218.83,370.92 223.00,369.12 223.00,377.14 218.83,376.37 214.65,377.96 210.48,376.00 206.31,376.88 202.13,376.62 197.96,371.81 193.79,377.39 189.61,375.63 185.44,376.76 181.27,375.87 177.09,377.05 172.92,375.61 168.75,377.32 164.57,377.16 160.40,377.50" fill="#e000f0"/>
<polygon points="160.40,371.10 164.57,370.24 168.75,370.94 172.92,369.46 177.09,370.66 181.27,368.87 185.44,371.20 189.61,369.29 193.79,369.37 197.96,367.57 202.13,369.49 206.31,370.83 210.48,369.16 214.65,369.54 218.83,371.39 223.00,369.57 223.00,377.03 218.83,375.65 214.65,377.19 210.48,375.57 206.31,376.74 202.13,375.82 197.96,370.97 193.79,376.97 189.61,375.28 185.44,376.04 181.27,375.34 177.09,376.78 172.92,375.41 168.75,376.94 164.57,376.81 160.40,376.67" fill="#ff0032"/>
<text x="300.70" y="353.70" font-size="7.1" fill="#000" text-anchor="middle" font-weight="bold">Cluster 27</text>
<text x="246.00" y="373.30" font-size="5.9" fill="#000" text-anchor="middle" transform="rotate(-90 246.0 373.3)">expression changes</text>
<text x="259.40" y="369.10" font-size="6.3" fill="#000" text-anchor="middle" transform="rotate(-90 259.4 369.1)">3</text>
<text x="259.40" y="379.90" font-size="6.3" fill="#000" text-anchor="middle" transform="rotate(-90 259.4 379.9)">−2</text>
<text x="300.70" y="407.10" font-size="5.7" fill="#111" text-anchor="middle">HOXC9 expression</text>
<path d="M263.40 367.10H268.00M263.40 369.27H268.00M263.40 371.44H268.00M263.40 373.61H268.00M263.40 375.78H268.00M263.40 377.95H268.00M263.40 380.12H268.00M267.80 367.10V380.10M269.40 380.60H332.20M269.60 380.60V384.40M273.76 380.60V384.40M277.92 380.60V384.40M282.08 380.60V384.40M286.24 380.60V384.40M290.40 380.60V384.40M294.56 380.60V384.40M298.72 380.60V384.40M302.88 380.60V384.40M307.04 380.60V384.40M311.20 380.60V384.40M315.36 380.60V384.40M319.52 380.60V384.40M323.68 380.60V384.40M327.84 380.60V384.40M332.00 380.60V384.40" stroke="#333" stroke-width="0.7" fill="none"/>
<polygon points="269.50,373.53 273.67,369.60 277.85,367.44 282.02,370.84 286.19,369.51 290.37,370.53 294.54,369.72 298.71,370.99 302.89,368.99 307.06,369.80 311.23,368.68 315.41,370.03 319.58,370.85 323.75,368.48 327.93,370.11 332.10,368.50 332.10,377.88 327.93,375.84 323.75,377.50 319.58,378.05 315.41,377.17 311.23,376.22 307.06,377.08 302.89,376.69 298.71,378.25 294.54,377.38 290.37,377.49 286.19,379.36 282.02,376.74 277.85,372.98 273.67,376.95 269.50,379.73" fill="#f0f000"/>
<polygon points="269.50,373.43 273.67,369.95 277.85,364.88 282.02,371.06 286.19,371.05 290.37,370.97 294.54,369.76 298.71,370.61 302.89,368.68 307.06,367.85 311.23,368.92 315.41,369.36 319.58,370.31 323.75,368.94 327.93,369.96 332.10,368.60 332.10,377.79 327.93,375.98 323.75,377.40 319.58,378.44 315.41,376.82 311.23,378.87 307.06,379.95 302.89,376.64 298.71,378.00 294.54,377.22 290.37,377.45 286.19,378.94 282.02,377.33 277.85,375.36 273.67,377.11 269.50,381.85" fill="#00e000"/>
<polygon points="269.50,373.52 273.67,369.71 277.85,367.18 282.02,371.15 286.19,369.46 290.37,370.82 294.54,370.01 298.71,371.07 302.89,368.01 307.06,368.41 311.23,368.18 315.41,369.74 319.58,370.31 323.75,368.49 327.93,369.60 332.10,369.09 332.10,378.40 327.93,377.54 323.75,378.85 319.58,378.75 315.41,378.65 311.23,377.80 307.06,377.27 302.89,378.01 298.71,377.74 294.54,376.89 290.37,376.95 286.19,379.36 282.02,377.38 277.85,373.00 273.67,378.07 269.50,380.03" fill="#00e8e8"/>
<polygon points="269.50,373.15 273.67,369.32 277.85,366.78 282.02,371.35 286.19,370.88 290.37,369.79 294.54,369.93 298.71,370.77 302.89,369.25 307.06,370.31 311.23,368.11 315.41,369.50 319.58,369.65 323.75,368.42 327.93,369.66 332.10,368.80 332.10,378.97 327.93,376.77 323.75,377.87 319.58,378.18 315.41,377.69 311.23,377.00 307.06,378.00 302.89,376.50 298.71,378.01 294.54,378.11 290.37,377.29 286.19,379.42 282.02,376.56 277.85,372.77 273.67,377.02 269.50,379.82" fill="#3020ff"/>
<polygon points="269.50,373.57 273.67,370.26 277.85,367.57 282.02,371.26 286.19,371.20 290.37,370.63 294.54,369.93 298.71,371.23 302.89,369.27 307.06,370.47 311.23,367.93 315.41,370.13 319.58,370.86 323.75,368.31 327.93,370.48 332.10,368.48 332.10,378.39 327.93,376.42 323.75,377.86 319.58,377.96 315.41,377.61 311.23,377.00 307.06,377.28 302.89,376.48 298.71,378.17 294.54,377.81 290.37,377.37 286.19,379.17 282.02,376.95 277.85,372.83 273.67,376.73 269.50,379.47" fill="#e000f0"/>
<polygon points="269.50,373.96 273.67,370.40 277.85,367.90 282.02,371.57 286.19,371.77 290.37,371.34 294.54,370.29 298.71,371.58 302.89,369.64 307.06,370.75 311.23,369.15 315.41,370.33 319.58,371.18 323.75,369.22 327.93,370.69 332.10,369.38 332.10,377.53 327.93,375.60 323.75,377.15 319.58,377.76 315.41,376.56 311.23,375.86 307.06,376.83 302.89,375.91 298.71,377.29 294.54,376.55 290.37,376.65 286.19,378.43 282.02,376.34 277.85,372.46 273.67,376.40 269.50,379.36" fill="#ff0032"/>
<text x="409.80" y="353.70" font-size="7.1" fill="#000" text-anchor="middle" font-weight="bold">Cluster 28</text>
<text x="355.10" y="373.30" font-size="5.9" fill="#000" text-anchor="middle" transform="rotate(-90 355.09999999999997 373.3)">expression changes</text>
<text x="368.50" y="369.10" font-size="6.3" fill="#000" text-anchor="middle" transform="rotate(-90 368.49999999999994 369.1)">2</text>
<text x="368.50" y="379.90" font-size="6.3" fill="#000" text-anchor="middle" transform="rotate(-90 368.49999999999994 379.9)">−3</text>
<text x="409.80" y="407.10" font-size="5.7" fill="#111" text-anchor="middle">HOXC9 expression</text>
<path d="M372.50 367.10H377.10M372.50 369.27H377.10M372.50 371.44H377.10M372.50 373.61H377.10M372.50 375.78H377.10M372.50 377.95H377.10M372.50 380.12H377.10M376.90 367.10V380.10M378.50 380.60H441.30M378.70 380.60V384.40M382.86 380.60V384.40M387.02 380.60V384.40M391.18 380.60V384.40M395.34 380.60V384.40M399.50 380.60V384.40M403.66 380.60V384.40M407.82 380.60V384.40M411.98 380.60V384.40M416.14 380.60V384.40M420.30 380.60V384.40M424.46 380.60V384.40M428.62 380.60V384.40M432.78 380.60V384.40M436.94 380.60V384.40M441.10 380.60V384.40" stroke="#333" stroke-width="0.7" fill="none"/>
<polygon points="378.60,371.96 382.77,371.16 386.95,368.81 391.12,367.73 395.29,368.86 399.47,370.76 403.64,368.11 407.81,368.31 411.99,368.55 416.16,369.08 420.33,368.09 424.51,370.48 428.68,367.86 432.85,368.72 437.03,367.64 441.20,369.44 441.20,377.19 437.03,377.40 432.85,376.13 428.68,376.49 424.51,377.11 420.33,376.67 416.16,376.32 411.99,379.41 407.81,375.60 403.64,379.10 399.47,375.98 395.29,377.97 391.12,375.85 386.95,377.52 382.77,378.67 378.60,378.21" fill="#f0f000"/>
<polygon points="378.60,370.23 382.77,370.62 386.95,368.89 391.12,370.46 395.29,368.76 399.47,368.37 403.64,368.07 407.81,368.25 411.99,370.42 416.16,367.22 420.33,368.42 424.51,370.68 428.68,367.88 432.85,370.24 437.03,367.34 441.20,369.72 441.20,377.32 437.03,377.15 432.85,375.69 428.68,376.67 424.51,376.94 420.33,376.66 416.16,376.43 411.99,377.54 407.81,375.90 403.64,377.13 399.47,378.23 395.29,377.99 391.12,375.67 386.95,377.66 382.77,378.76 378.60,378.48" fill="#00e000"/>
<polygon points="378.60,372.27 382.77,371.11 386.95,368.02 391.12,370.36 395.29,368.36 399.47,370.42 403.64,367.98 407.81,368.04 411.99,371.04 416.16,368.03 420.33,367.78 424.51,370.24 428.68,368.05 432.85,370.59 437.03,368.44 441.20,369.95 441.20,378.50 437.03,376.92 432.85,375.45 428.68,376.48 424.51,376.94 420.33,378.68 416.16,376.37 411.99,378.16 407.81,375.73 403.64,377.56 399.47,375.99 395.29,378.88 391.12,375.88 386.95,377.19 382.77,378.66 378.60,378.34" fill="#00e8e8"/>
<polygon points="378.60,372.12 382.77,371.21 386.95,368.04 391.12,370.24 395.29,368.26 399.47,370.75 403.64,368.64 407.81,368.69 411.99,371.12 416.16,368.83 420.33,367.19 424.51,369.75 428.68,367.84 432.85,369.90 437.03,369.63 441.20,369.84 441.20,377.25 437.03,376.93 432.85,377.03 428.68,377.02 424.51,377.40 420.33,377.19 416.16,376.33 411.99,378.32 407.81,375.65 403.64,378.01 399.47,376.09 395.29,377.57 391.12,376.49 386.95,377.44 382.77,379.26 378.60,378.82" fill="#3020ff"/>
<polygon points="378.60,371.88 382.77,370.78 386.95,368.62 391.12,370.59 395.29,369.16 399.47,370.94 403.64,368.28 407.81,368.15 411.99,370.63 416.16,368.82 420.33,368.02 424.51,370.28 428.68,368.14 432.85,370.23 437.03,369.11 441.20,369.98 441.20,376.87 437.03,376.66 432.85,375.85 428.68,376.34 424.51,376.84 420.33,377.08 416.16,377.04 411.99,377.29 407.81,375.70 403.64,377.41 399.47,376.12 395.29,377.73 391.12,375.36 386.95,377.49 382.77,378.99 378.60,378.39" fill="#e000f0"/>
<polygon points="378.60,372.78 382.77,371.60 386.95,369.11 391.12,370.70 395.29,369.44 399.47,371.15 403.64,368.91 407.81,368.99 411.99,371.36 416.16,369.88 420.33,368.72 424.51,370.97 428.68,368.68 432.85,370.95 437.03,370.19 441.20,370.39 441.20,376.73 437.03,376.46 432.85,375.15 428.68,376.14 424.51,376.67 420.33,376.37 416.16,375.98 411.99,377.06 407.81,375.30 403.64,376.81 399.47,375.58 395.29,377.25 391.12,374.88 386.95,376.77 382.77,378.40 378.60,377.69" fill="#ff0032"/>
<text x="518.90" y="353.70" font-size="7.1" fill="#000" text-anchor="middle" font-weight="bold">Cluster 29</text>
<text x="464.20" y="373.30" font-size="5.9" fill="#000" text-anchor="middle" transform="rotate(-90 464.2 373.3)">expression changes</text>
<text x="477.60" y="369.10" font-size="6.3" fill="#000" text-anchor="middle" transform="rotate(-90 477.59999999999997 369.1)">2</text>
<text x="477.60" y="379.90" font-size="6.3" fill="#000" text-anchor="middle" transform="rotate(-90 477.59999999999997 379.9)">−3</text>
<text x="518.90" y="407.10" font-size="5.7" fill="#111" text-anchor="middle">HOXC9 expression</text>
<path d="M481.60 367.10H486.20M481.60 369.27H486.20M481.60 371.44H486.20M481.60 373.61H486.20M481.60 375.78H486.20M481.60 377.95H486.20M481.60 380.12H486.20M486.00 367.10V380.10M487.60 380.60H550.40M487.80 380.60V384.40M491.96 380.60V384.40M496.12 380.60V384.40M500.28 380.60V384.40M504.44 380.60V384.40M508.60 380.60V384.40M512.76 380.60V384.40M516.92 380.60V384.40M521.08 380.60V384.40M525.24 380.60V384.40M529.40 380.60V384.40M533.56 380.60V384.40M537.72 380.60V384.40M541.88 380.60V384.40M546.04 380.60V384.40M550.20 380.60V384.40" stroke="#333" stroke-width="0.7" fill="none"/>
<polygon points="487.70,370.45 491.87,369.50 496.05,368.53 500.22,369.75 504.39,369.04 508.57,370.38 512.74,365.79 516.91,369.72 521.09,369.71 525.26,370.59 529.43,370.58 533.61,368.48 537.78,370.14 541.95,370.52 546.13,369.08 550.30,370.78 550.30,378.02 546.13,376.47 541.95,377.05 537.78,379.59 533.61,376.11 529.43,377.71 525.26,376.11 521.09,378.10 516.91,375.54 512.74,372.94 508.57,375.96 504.39,377.27 500.22,376.62 496.05,378.28 491.87,376.49 487.70,378.15" fill="#f0f000"/>
<polygon points="487.70,368.25 491.87,368.92 496.05,370.16 500.22,369.94 504.39,368.65 508.57,368.28 512.74,366.15 516.91,369.51 521.09,367.32 525.26,368.52 529.43,370.53 533.61,368.66 537.78,369.95 541.95,370.65 546.13,369.17 550.30,368.71 550.30,380.41 546.13,376.16 541.95,376.57 537.78,377.60 533.61,376.26 529.43,377.34 525.26,378.63 521.09,378.43 516.91,375.44 512.74,374.53 508.57,375.97 504.39,379.28 500.22,376.10 496.05,378.12 491.87,378.12 487.70,378.02" fill="#00e000"/>
<polygon points="487.70,370.34 491.87,369.03 496.05,370.90 500.22,369.95 504.39,368.54 508.57,370.46 512.74,364.15 516.91,369.77 521.09,368.18 525.26,370.61 529.43,369.72 533.61,368.67 537.78,370.12 541.95,369.33 546.13,369.29 550.30,370.81 550.30,379.75 546.13,376.20 541.95,376.45 537.78,377.62 533.61,376.61 529.43,377.67 525.26,376.18 521.09,378.63 516.91,375.01 512.74,372.62 508.57,375.96 504.39,376.98 500.22,376.86 496.05,378.39 491.87,375.96 487.70,379.49" fill="#00e8e8"/>
<polygon points="487.70,370.40 491.87,369.48 496.05,370.22 500.22,368.79 504.39,368.18 508.57,369.17 512.74,364.68 516.91,369.71 521.09,368.98 525.26,370.53 529.43,369.97 533.61,368.04 537.78,369.89 541.95,370.14 546.13,368.80 550.30,370.89 550.30,378.49 546.13,377.40 541.95,376.86 537.78,377.26 533.61,376.38 529.43,377.48 525.26,376.33 521.09,377.90 516.91,375.42 512.74,372.53 508.57,376.34 504.39,377.10 500.22,376.34 496.05,378.12 491.87,376.49 487.70,378.23" fill="#3020ff"/>
<polygon points="487.70,370.36 491.87,369.62 496.05,370.52 500.22,369.71 504.39,369.20 508.57,369.75 512.74,365.80 516.91,369.46 521.09,369.49 525.26,370.72 529.43,370.61 533.61,368.15 537.78,370.50 541.95,370.75 546.13,368.54 550.30,370.26 550.30,378.06 546.13,376.64 541.95,376.34 537.78,377.87 533.61,376.24 529.43,377.57 525.26,376.08 521.09,378.46 516.91,375.29 512.74,372.14 508.57,376.06 504.39,377.08 500.22,376.35 496.05,377.67 491.87,376.15 487.70,378.53" fill="#e000f0"/>
<polygon points="487.70,371.02 491.87,369.86 496.05,371.12 500.22,370.40 504.39,369.60 508.57,370.74 512.74,366.57 516.91,370.08 521.09,370.10 525.26,371.34 529.43,370.78 533.61,368.99 537.78,370.70 541.95,371.23 546.13,369.72 550.30,371.26 550.30,377.55 546.13,375.95 541.95,376.07 537.78,376.99 533.61,375.88 529.43,377.13 525.26,375.46 521.09,377.63 516.91,374.66 512.74,372.04 508.57,375.16 504.39,376.34 500.22,375.77 496.05,377.51 491.87,375.62 487.70,377.43" fill="#ff0032"/>
<text x="628.00" y="353.70" font-size="7.1" fill="#000" text-anchor="middle" font-weight="bold">Cluster 30</text>
<text x="573.30" y="373.30" font-size="5.9" fill="#000" text-anchor="middle" transform="rotate(-90 573.3 373.3)">expression changes</text>
<text x="586.70" y="369.10" font-size="6.3" fill="#000" text-anchor="middle" transform="rotate(-90 586.7 369.1)">2</text>
<text x="586.70" y="379.90" font-size="6.3" fill="#000" text-anchor="middle" transform="rotate(-90 586.7 379.9)">−3</text>
<text x="628.00" y="407.10" font-size="5.7" fill="#111" text-anchor="middle">HOXC9 expression</text>
<path d="M590.70 367.10H595.30M590.70 369.27H595.30M590.70 371.44H595.30M590.70 373.61H595.30M590.70 375.78H595.30M590.70 377.95H595.30M590.70 380.12H595.30M595.10 367.10V380.10M596.70 380.60H659.50M596.90 380.60V384.40M601.06 380.60V384.40M605.22 380.60V384.40M609.38 380.60V384.40M613.54 380.60V384.40M617.70 380.60V384.40M621.86 380.60V384.40M626.02 380.60V384.40M630.18 380.60V384.40M634.34 380.60V384.40M638.50 380.60V384.40M642.66 380.60V384.40M646.82 380.60V384.40M650.98 380.60V384.40M655.14 380.60V384.40M659.30 380.60V384.40" stroke="#333" stroke-width="0.7" fill="none"/>
<polygon points="596.80,370.12 600.97,368.32 605.15,369.38 609.32,370.68 613.49,368.62 617.67,368.86 621.84,368.75 626.01,368.11 630.19,371.03 634.36,369.71 638.53,369.79 642.71,369.01 646.88,368.47 651.05,368.33 655.23,370.77 659.40,369.35 659.40,378.60 655.23,376.64 651.05,377.91 646.88,375.88 642.71,377.14 638.53,376.27 634.36,377.88 630.19,375.99 626.01,379.36 621.84,376.41 617.67,377.82 613.49,376.36 609.32,378.24 605.15,377.85 600.97,375.73 596.80,377.81" fill="#f0f000"/>
<polygon points="596.80,370.16 600.97,368.11 605.15,369.51 609.32,370.64 613.49,368.91 617.67,369.04 621.84,366.58 626.01,368.55 630.19,371.00 634.36,369.38 638.53,369.82 642.71,368.85 646.88,370.64 651.05,366.36 655.23,370.12 659.40,369.84 659.40,378.46 655.23,376.21 651.05,378.29 646.88,375.84 642.71,377.58 638.53,376.25 634.36,380.19 630.19,375.96 626.01,377.73 621.84,376.09 617.67,378.24 613.49,376.47 609.32,377.96 605.15,380.36 600.97,375.94 596.80,377.72" fill="#00e000"/>
<polygon points="596.80,370.13 600.97,366.61 605.15,369.51 609.32,370.92 613.49,368.89 617.67,369.04 621.84,368.44 626.01,366.81 630.19,370.46 634.36,368.63 638.53,370.03 642.71,369.02 646.88,368.44 651.05,368.48 655.23,370.01 659.40,369.81 659.40,380.11 655.23,378.25 651.05,377.78 646.88,376.65 642.71,377.35 638.53,376.23 634.36,378.92 630.19,376.14 626.01,377.18 621.84,376.26 617.67,376.45 613.49,378.07 609.32,379.24 605.15,379.35 600.97,375.77 596.80,377.75" fill="#00e8e8"/>
<polygon points="596.80,370.45 600.97,368.70 605.15,369.73 609.32,370.05 613.49,368.58 617.67,368.78 621.84,368.53 626.01,368.73 630.19,370.55 634.36,369.69 638.53,370.03 642.71,368.94 646.88,368.96 651.05,368.19 655.23,370.58 659.40,369.65 659.40,378.84 655.23,376.17 651.05,378.37 646.88,376.50 642.71,377.24 638.53,376.44 634.36,378.27 630.19,376.56 626.01,377.02 621.84,376.62 617.67,376.75 613.49,376.11 609.32,377.65 605.15,379.44 600.97,376.21 596.80,377.66" fill="#3020ff"/>
<polygon points="596.80,370.64 600.97,368.66 605.15,369.80 609.32,370.97 613.49,368.39 617.67,369.14 621.84,369.26 626.01,368.54 630.19,370.77 634.36,369.94 638.53,369.13 642.71,368.99 646.88,370.11 651.05,368.97 655.23,370.30 659.40,369.92 659.40,378.42 655.23,375.96 651.05,377.96 646.88,376.24 642.71,376.86 638.53,375.60 634.36,377.59 630.19,376.14 626.01,377.41 621.84,376.47 617.67,376.37 613.49,376.15 609.32,377.57 605.15,378.30 600.97,375.48 596.80,378.41" fill="#e000f0"/>
<polygon points="596.80,370.95 600.97,369.03 605.15,370.03 609.32,371.14 613.49,369.14 617.67,369.33 621.84,369.51 626.01,369.01 630.19,371.39 634.36,370.27 638.53,370.50 642.71,369.25 646.88,370.92 651.05,369.31 655.23,370.98 659.40,370.34 659.40,377.85 655.23,375.82 651.05,377.33 646.88,375.55 642.71,376.76 638.53,375.36 634.36,377.23 630.19,375.51 626.01,376.73 621.84,375.63 617.67,375.52 613.49,375.86 609.32,377.26 605.15,377.51 600.97,375.12 596.80,377.02" fill="#ff0032"/>
<text x="0.30" y="461.50" font-size="16" fill="#000" text-anchor="start" font-weight="bold" stroke="#000" stroke-width="0.45">B</text>
<path d="M30.7 717.47H361.0M30.7 676.03H361.0M30.7 634.59H361.0M30.7 593.15H361.0M30.7 551.71H361.0M30.7 510.27H361.0" stroke="#ebebeb" stroke-width="0.55" fill="none"/>
<path d="M30.7 696.75H361.0M30.7 655.31H361.0M30.7 613.87H361.0M30.7 572.43H361.0M30.7 530.99H361.0M30.7 489.55H361.0M50.25 469.9V732.5M82.60 469.9V732.5M114.95 469.9V732.5M147.30 469.9V732.5M179.65 469.9V732.5M212.00 469.9V732.5M244.35 469.9V732.5M276.70 469.9V732.5M309.05 469.9V732.5M341.40 469.9V732.5" stroke="#ebebeb" stroke-width="1" fill="none"/>
<rect x="30.7" y="469.9" width="330.3" height="262.6" fill="none" stroke="#808080" stroke-width="1.1"/>
<text x="27.40" y="699.15" font-size="6.9" fill="#4d4d4d" text-anchor="end">0.4</text>
<path d="M28.6 696.75H30.7" stroke="#333" stroke-width="0.8"/>
<text x="27.40" y="657.71" font-size="6.9" fill="#4d4d4d" text-anchor="end">0.5</text>
<path d="M28.6 655.31H30.7" stroke="#333" stroke-width="0.8"/>
<text x="27.40" y="616.27" font-size="6.9" fill="#4d4d4d" text-anchor="end">0.6</text>
<path d="M28.6 613.87H30.7" stroke="#333" stroke-width="0.8"/>
<text x="27.40" y="574.83" font-size="6.9" fill="#4d4d4d" text-anchor="end">0.7</text>
<path d="M28.6 572.43H30.7" stroke="#333" stroke-width="0.8"/>
<text x="27.40" y="533.39" font-size="6.9" fill="#4d4d4d" text-anchor="end">0.8</text>
<path d="M28.6 530.99H30.7" stroke="#333" stroke-width="0.8"/>
<text x="27.40" y="491.95" font-size="6.9" fill="#4d4d4d" text-anchor="end">0.9</text>
<path d="M28.6 489.55H30.7" stroke="#333" stroke-width="0.8"/>
<text x="13.70" y="601.20" font-size="7.9" fill="#000" text-anchor="middle" transform="rotate(-90 13.7 601.2)">ssgsea score</text>
<path d="M50.25 732.5V734.7" stroke="#333" stroke-width="0.8"/>
<text x="53.45" y="741.20" font-size="6.0" fill="#4d4d4d" text-anchor="end" transform="rotate(-45 53.45 741.2)">Cluster 1</text>
<path d="M82.60 732.5V734.7" stroke="#333" stroke-width="0.8"/>
<text x="85.80" y="741.20" font-size="6.0" fill="#4d4d4d" text-anchor="end" transform="rotate(-45 85.8 741.2)">Cluster 4</text>
<path d="M114.95 732.5V734.7" stroke="#333" stroke-width="0.8"/>
<text x="118.15" y="741.20" font-size="6.0" fill="#4d4d4d" text-anchor="end" transform="rotate(-45 118.15 741.2)">Cluster 5</text>
<path d="M147.30 732.5V734.7" stroke="#333" stroke-width="0.8"/>
<text x="150.50" y="741.20" font-size="6.0" fill="#4d4d4d" text-anchor="end" transform="rotate(-45 150.5 741.2)">Cluster 7</text>
<path d="M179.65 732.5V734.7" stroke="#333" stroke-width="0.8"/>
<text x="182.85" y="741.20" font-size="6.0" fill="#4d4d4d" text-anchor="end" transform="rotate(-45 182.85 741.2)">Cluster 6</text>
<path d="M212.00 732.5V734.7" stroke="#333" stroke-width="0.8"/>
<text x="215.20" y="741.20" font-size="6.0" fill="#4d4d4d" text-anchor="end" transform="rotate(-45 215.2 741.2)">Cluster 14</text>
<path d="M244.35 732.5V734.7" stroke="#333" stroke-width="0.8"/>
<text x="247.55" y="741.20" font-size="6.0" fill="#4d4d4d" text-anchor="end" transform="rotate(-45 247.55 741.2)">Cluster 19</text>
<path d="M276.70 732.5V734.7" stroke="#333" stroke-width="0.8"/>
<text x="279.90" y="741.20" font-size="6.0" fill="#4d4d4d" text-anchor="end" transform="rotate(-45 279.90000000000003 741.2)">Cluster 22</text>
<path d="M309.05 732.5V734.7" stroke="#333" stroke-width="0.8"/>
<text x="312.25" y="741.20" font-size="6.0" fill="#4d4d4d" text-anchor="end" transform="rotate(-45 312.25 741.2)">Cluster 23</text>
<path d="M341.40 732.5V734.7" stroke="#333" stroke-width="0.8"/>
<text x="344.60" y="741.20" font-size="6.0" fill="#4d4d4d" text-anchor="end" transform="rotate(-45 344.6 741.2)">Cluster 29</text>
<circle cx="47.45" cy="477.70" r="0.85" fill="#111"/>
<circle cx="50.25" cy="477.70" r="0.85" fill="#111"/>
<circle cx="53.05" cy="477.70" r="0.85" fill="#111"/>
<circle cx="81.20" cy="477.70" r="0.85" fill="#111"/>
<circle cx="84.00" cy="477.70" r="0.85" fill="#111"/>
<circle cx="113.55" cy="477.70" r="0.85" fill="#111"/>
<circle cx="116.35" cy="477.70" r="0.85" fill="#111"/>
<circle cx="147.30" cy="477.70" r="0.85" fill="#111"/>
<circle cx="179.65" cy="477.70" r="0.85" fill="#111"/>
<circle cx="209.20" cy="477.70" r="0.85" fill="#111"/>
<circle cx="212.00" cy="477.70" r="0.85" fill="#111"/>
<circle cx="214.80" cy="477.70" r="0.85" fill="#111"/>
<circle cx="241.55" cy="477.70" r="0.85" fill="#111"/>
<circle cx="244.35" cy="477.70" r="0.85" fill="#111"/>
<circle cx="247.15" cy="477.70" r="0.85" fill="#111"/>
<circle cx="275.30" cy="477.70" r="0.85" fill="#111"/>
<circle cx="278.10" cy="477.70" r="0.85" fill="#111"/>
<circle cx="306.25" cy="477.70" r="0.85" fill="#111"/>
<circle cx="309.05" cy="477.70" r="0.85" fill="#111"/>
<circle cx="311.85" cy="477.70" r="0.85" fill="#111"/>
<circle cx="341.40" cy="477.70" r="0.85" fill="#111"/>
<path d="M43.78 566.10V569.30M43.78 575.80V579.80" stroke="#1a1a1a" stroke-width="1.1"/>
<rect x="37.31" y="569.30" width="12.94" height="6.50" fill="#ff6b6b" stroke="#1a1a1a" stroke-width="1.1"/>
<path d="M37.31 571.90H50.25" stroke="#1a1a1a" stroke-width="2.1"/>
<path d="M56.72 525.80V535.60M56.72 543.90V553.50" stroke="#1a1a1a" stroke-width="1.1"/>
<rect x="50.25" y="535.60" width="12.94" height="8.30" fill="#97f4fe" stroke="#1a1a1a" stroke-width="1.1"/>
<path d="M50.25 542.80H63.19" stroke="#1a1a1a" stroke-width="2.1"/>
<path d="M76.13 577.20V582.00M76.13 586.30V589.60" stroke="#1a1a1a" stroke-width="1.1"/>
<rect x="69.66" y="582.00" width="12.94" height="4.30" fill="#ff6b6b" stroke="#1a1a1a" stroke-width="1.1"/>
<path d="M69.66 584.00H82.60" stroke="#1a1a1a" stroke-width="2.1"/>
<path d="M89.07 554.90V561.20M89.07 575.20V581.70" stroke="#1a1a1a" stroke-width="1.1"/>
<rect x="82.60" y="561.20" width="12.94" height="14.00" fill="#97f4fe" stroke="#1a1a1a" stroke-width="1.1"/>
<path d="M82.60 569.60H95.54" stroke="#1a1a1a" stroke-width="2.1"/>
<path d="M108.48 489.70V497.60M108.48 540.60V544.40" stroke="#1a1a1a" stroke-width="1.1"/>
<rect x="102.01" y="497.60" width="12.94" height="43.00" fill="#ff6b6b" stroke="#1a1a1a" stroke-width="1.1"/>
<path d="M102.01 507.60H114.95" stroke="#1a1a1a" stroke-width="2.1"/>
<path d="M121.42 531.20V546.80M121.42 579.50V610.10" stroke="#1a1a1a" stroke-width="1.1"/>
<rect x="114.95" y="546.80" width="12.94" height="32.70" fill="#97f4fe" stroke="#1a1a1a" stroke-width="1.1"/>
<path d="M114.95 558.50H127.89" stroke="#1a1a1a" stroke-width="2.1"/>
<path d="M140.83 682.30V684.40M140.83 709.10V720.30" stroke="#1a1a1a" stroke-width="1.1"/>
<rect x="134.36" y="684.40" width="12.94" height="24.70" fill="#ff6b6b" stroke="#1a1a1a" stroke-width="1.1"/>
<path d="M134.36 687.10H147.30" stroke="#1a1a1a" stroke-width="2.1"/>
<path d="M153.77 662.10V665.40M153.77 685.60V686.40" stroke="#1a1a1a" stroke-width="1.1"/>
<rect x="147.30" y="665.40" width="12.94" height="20.20" fill="#97f4fe" stroke="#1a1a1a" stroke-width="1.1"/>
<path d="M147.30 682.30H160.24" stroke="#1a1a1a" stroke-width="2.1"/>
<path d="M173.18 630.80V631.30M173.18 634.00V635.20" stroke="#1a1a1a" stroke-width="1.1"/>
<rect x="166.71" y="631.30" width="12.94" height="2.70" fill="#ff6b6b" stroke="#1a1a1a" stroke-width="1.1"/>
<path d="M166.71 632.80H179.65" stroke="#1a1a1a" stroke-width="2.1"/>
<path d="M186.12 624.10V635.10M186.12 647.70V648.40" stroke="#1a1a1a" stroke-width="1.1"/>
<rect x="179.65" y="635.10" width="12.94" height="12.60" fill="#97f4fe" stroke="#1a1a1a" stroke-width="1.1"/>
<path d="M179.65 639.30H192.59" stroke="#1a1a1a" stroke-width="2.1"/>
<path d="M205.53 551.20V557.60M205.53 562.90V566.70" stroke="#1a1a1a" stroke-width="1.1"/>
<rect x="199.06" y="557.60" width="12.94" height="5.30" fill="#ff6b6b" stroke="#1a1a1a" stroke-width="1.1"/>
<path d="M199.06 561.00H212.00" stroke="#1a1a1a" stroke-width="2.1"/>
<path d="M218.47 525.50V531.50M218.47 544.40V553.50" stroke="#1a1a1a" stroke-width="1.1"/>
<rect x="212.00" y="531.50" width="12.94" height="12.90" fill="#97f4fe" stroke="#1a1a1a" stroke-width="1.1"/>
<path d="M212.00 541.30H224.94" stroke="#1a1a1a" stroke-width="2.1"/>
<path d="M237.88 644.20V649.00M237.88 654.70V655.40" stroke="#1a1a1a" stroke-width="1.1"/>
<rect x="231.41" y="649.00" width="12.94" height="5.70" fill="#ff6b6b" stroke="#1a1a1a" stroke-width="1.1"/>
<path d="M231.41 651.80H244.35" stroke="#1a1a1a" stroke-width="2.1"/>
<path d="M250.82 623.00V628.30M250.82 641.50V642.20" stroke="#1a1a1a" stroke-width="1.1"/>
<rect x="244.35" y="628.30" width="12.94" height="13.20" fill="#97f4fe" stroke="#1a1a1a" stroke-width="1.1"/>
<path d="M244.35 637.70H257.29" stroke="#1a1a1a" stroke-width="2.1"/>
<path d="M270.23 534.30V536.30M270.23 549.60V557.10" stroke="#1a1a1a" stroke-width="1.1"/>
<rect x="263.76" y="536.30" width="12.94" height="13.30" fill="#ff6b6b" stroke="#1a1a1a" stroke-width="1.1"/>
<path d="M263.76 543.10H276.70" stroke="#1a1a1a" stroke-width="2.1"/>
<path d="M283.17 544.30V552.60M283.17 566.50V578.50" stroke="#1a1a1a" stroke-width="1.1"/>
<rect x="276.70" y="552.60" width="12.94" height="13.90" fill="#97f4fe" stroke="#1a1a1a" stroke-width="1.1"/>
<path d="M276.70 559.30H289.64" stroke="#1a1a1a" stroke-width="2.1"/>
<path d="M302.58 482.00V489.20M302.58 496.70V500.00" stroke="#1a1a1a" stroke-width="1.1"/>
<rect x="296.11" y="489.20" width="12.94" height="7.50" fill="#ff6b6b" stroke="#1a1a1a" stroke-width="1.1"/>
<path d="M296.11 493.00H309.05" stroke="#1a1a1a" stroke-width="2.1"/>
<path d="M315.52 510.40V516.20M315.52 534.80V545.60" stroke="#1a1a1a" stroke-width="1.1"/>
<rect x="309.05" y="516.20" width="12.94" height="18.60" fill="#97f4fe" stroke="#1a1a1a" stroke-width="1.1"/>
<path d="M309.05 527.30H321.99" stroke="#1a1a1a" stroke-width="2.1"/>
<path d="M334.93 610.30V614.20M334.93 622.50V626.70" stroke="#1a1a1a" stroke-width="1.1"/>
<rect x="328.46" y="614.20" width="12.94" height="8.30" fill="#ff6b6b" stroke="#1a1a1a" stroke-width="1.1"/>
<path d="M328.46 620.60H341.40" stroke="#1a1a1a" stroke-width="2.1"/>
<path d="M347.87 591.70V598.30M347.87 611.30V622.50" stroke="#1a1a1a" stroke-width="1.1"/>
<rect x="341.40" y="598.30" width="12.94" height="13.00" fill="#97f4fe" stroke="#1a1a1a" stroke-width="1.1"/>
<path d="M341.40 603.20H354.34" stroke="#1a1a1a" stroke-width="2.1"/>
<circle cx="56.60" cy="487.50" r="1.8" fill="#000"/>
<circle cx="88.90" cy="517.60" r="1.8" fill="#000"/>
<circle cx="153.50" cy="631.40" r="1.8" fill="#000"/>
<circle cx="173.20" cy="570.50" r="1.8" fill="#000"/>
<circle cx="218.40" cy="501.90" r="1.8" fill="#000"/>
<circle cx="251.10" cy="585.50" r="1.8" fill="#000"/>
<circle cx="270.40" cy="500.60" r="1.8" fill="#000"/>
<circle cx="302.60" cy="510.60" r="1.8" fill="#000"/>
<circle cx="348.20" cy="539.60" r="1.8" fill="#000"/>
<text x="373.40" y="589.30" font-size="7.2" fill="#000" text-anchor="start">Type</text>
<path d="M379.1 595.50V606.10" stroke="#1a1a1a" stroke-width="0.9"/>
<rect x="374.4" y="597.60" width="9.6" height="6.4" fill="#ff6b6b" stroke="#1a1a1a" stroke-width="0.9"/>
<path d="M374.4 600.80H384" stroke="#1a1a1a" stroke-width="1.3"/>
<text x="389.40" y="603.00" font-size="6.3" fill="#000" text-anchor="start">Normal</text>
<path d="M379.1 608.00V618.60" stroke="#1a1a1a" stroke-width="0.9"/>
<rect x="374.4" y="610.10" width="9.6" height="6.4" fill="#97f4fe" stroke="#1a1a1a" stroke-width="0.9"/>
<path d="M374.4 613.30H384" stroke="#1a1a1a" stroke-width="1.3"/>
<text x="389.40" y="615.50" font-size="6.3" fill="#000" text-anchor="start">Keloid</text>
<text x="394.50" y="461.00" font-size="16" fill="#000" text-anchor="start" font-weight="bold" stroke="#000" stroke-width="0.45">C</text>
<path d="M471 440.71H480.5M571.6 440.71H580.5" stroke="#d6d6d6" stroke-width="0.7"/>
<rect x="480.5" y="434.60" width="91.10" height="12.21" fill="#f1feff" stroke="#b3b3b3" stroke-width="1.3"/>
<text x="467.80" y="442.81" font-size="5.8" fill="#4d4d4d" text-anchor="end" font-weight="bold">Cluster 9</text>
<path d="M471 452.92H480.5M571.6 452.92H580.5" stroke="#d6d6d6" stroke-width="0.7"/>
<rect x="480.5" y="446.81" width="91.10" height="12.21" fill="#ff8a8a" stroke="#b3b3b3" stroke-width="1.3"/>
<text x="467.80" y="455.02" font-size="5.8" fill="#4d4d4d" text-anchor="end" font-weight="bold">Cluster 8</text>
<circle cx="524.70" cy="451.62" r="0.85" fill="#000"/>
<circle cx="527.30" cy="451.62" r="0.85" fill="#000"/>
<path d="M471 465.13H480.5M571.6 465.13H580.5" stroke="#d6d6d6" stroke-width="0.7"/>
<rect x="480.5" y="459.03" width="91.10" height="12.21" fill="#e6fdff" stroke="#b3b3b3" stroke-width="1.3"/>
<text x="467.80" y="467.23" font-size="5.8" fill="#4d4d4d" text-anchor="end" font-weight="bold">Cluster 7</text>
<path d="M471 477.35H480.5M571.6 477.35H580.5" stroke="#d6d6d6" stroke-width="0.7"/>
<rect x="480.5" y="471.24" width="91.10" height="12.21" fill="#f0feff" stroke="#b3b3b3" stroke-width="1.3"/>
<text x="467.80" y="479.45" font-size="5.8" fill="#4d4d4d" text-anchor="end" font-weight="bold">Cluster 6</text>
<path d="M471 489.56H480.5M571.6 489.56H580.5" stroke="#d6d6d6" stroke-width="0.7"/>
<rect x="480.5" y="483.45" width="91.10" height="12.21" fill="#ff6464" stroke="#b3b3b3" stroke-width="1.3"/>
<text x="467.80" y="491.66" font-size="5.8" fill="#4d4d4d" text-anchor="end" font-weight="bold">Cluster 5</text>
<circle cx="523.40" cy="488.26" r="0.85" fill="#000"/>
<circle cx="526.00" cy="488.26" r="0.85" fill="#000"/>
<circle cx="528.60" cy="488.26" r="0.85" fill="#000"/>
<path d="M471 501.77H480.5M571.6 501.77H580.5" stroke="#d6d6d6" stroke-width="0.7"/>
<rect x="480.5" y="495.67" width="91.10" height="12.21" fill="#adf7ff" stroke="#b3b3b3" stroke-width="1.3"/>
<text x="467.80" y="503.87" font-size="5.8" fill="#4d4d4d" text-anchor="end" font-weight="bold">Cluster 4</text>
<circle cx="524.70" cy="500.47" r="0.85" fill="#000"/>
<circle cx="527.30" cy="500.47" r="0.85" fill="#000"/>
<path d="M471 513.99H480.5M571.6 513.99H580.5" stroke="#d6d6d6" stroke-width="0.7"/>
<rect x="480.5" y="507.88" width="91.10" height="12.21" fill="#d6fbff" stroke="#b3b3b3" stroke-width="1.3"/>
<text x="467.80" y="516.09" font-size="5.8" fill="#4d4d4d" text-anchor="end" font-weight="bold">Cluster 30</text>
<path d="M471 526.20H480.5M571.6 526.20H580.5" stroke="#d6d6d6" stroke-width="0.7"/>
<rect x="480.5" y="520.09" width="91.10" height="12.21" fill="#ffe5e5" stroke="#b3b3b3" stroke-width="1.3"/>
<text x="467.80" y="528.30" font-size="5.8" fill="#4d4d4d" text-anchor="end" font-weight="bold">Cluster 3</text>
<path d="M471 538.41H480.5M571.6 538.41H580.5" stroke="#d6d6d6" stroke-width="0.7"/>
<rect x="480.5" y="532.31" width="91.10" height="12.21" fill="#c9f9ff" stroke="#b3b3b3" stroke-width="1.3"/>
<text x="467.80" y="540.51" font-size="5.8" fill="#4d4d4d" text-anchor="end" font-weight="bold">Cluster 29</text>
<path d="M471 550.63H480.5M571.6 550.63H580.5" stroke="#d6d6d6" stroke-width="0.7"/>
<rect x="480.5" y="544.52" width="91.10" height="12.21" fill="#ffc2c2" stroke="#b3b3b3" stroke-width="1.3"/>
<text x="467.80" y="552.73" font-size="5.8" fill="#4d4d4d" text-anchor="end" font-weight="bold">Cluster 28</text>
<path d="M471 562.84H480.5M571.6 562.84H580.5" stroke="#d6d6d6" stroke-width="0.7"/>
<rect x="480.5" y="556.73" width="91.10" height="12.21" fill="#e0fcff" stroke="#b3b3b3" stroke-width="1.3"/>
<text x="467.80" y="564.94" font-size="5.8" fill="#4d4d4d" text-anchor="end" font-weight="bold">Cluster 27</text>
<path d="M471 575.05H480.5M571.6 575.05H580.5" stroke="#d6d6d6" stroke-width="0.7"/>
<rect x="480.5" y="568.95" width="91.10" height="12.21" fill="#eafdff" stroke="#b3b3b3" stroke-width="1.3"/>
<text x="467.80" y="577.15" font-size="5.8" fill="#4d4d4d" text-anchor="end" font-weight="bold">Cluster 26</text>
<path d="M471 587.27H480.5M571.6 587.27H580.5" stroke="#d6d6d6" stroke-width="0.7"/>
<rect x="480.5" y="581.16" width="91.10" height="12.21" fill="#f1feff" stroke="#b3b3b3" stroke-width="1.3"/>
<text x="467.80" y="589.37" font-size="5.8" fill="#4d4d4d" text-anchor="end" font-weight="bold">Cluster 25</text>
<path d="M471 599.48H480.5M571.6 599.48H580.5" stroke="#d6d6d6" stroke-width="0.7"/>
<rect x="480.5" y="593.37" width="91.10" height="12.21" fill="#ffeeee" stroke="#b3b3b3" stroke-width="1.3"/>
<text x="467.80" y="601.58" font-size="5.8" fill="#4d4d4d" text-anchor="end" font-weight="bold">Cluster 24</text>
<path d="M471 611.69H480.5M571.6 611.69H580.5" stroke="#d6d6d6" stroke-width="0.7"/>
<rect x="480.5" y="605.59" width="91.10" height="12.21" fill="#ff8b8b" stroke="#b3b3b3" stroke-width="1.3"/>
<text x="467.80" y="613.79" font-size="5.8" fill="#4d4d4d" text-anchor="end" font-weight="bold">Cluster 23</text>
<circle cx="526.00" cy="610.39" r="0.85" fill="#000"/>
<path d="M471 623.91H480.5M571.6 623.91H580.5" stroke="#d6d6d6" stroke-width="0.7"/>
<rect x="480.5" y="617.80" width="91.10" height="12.21" fill="#ffa9a9" stroke="#b3b3b3" stroke-width="1.3"/>
<text x="467.80" y="626.01" font-size="5.8" fill="#4d4d4d" text-anchor="end" font-weight="bold">Cluster 22</text>
<path d="M471 636.12H480.5M571.6 636.12H580.5" stroke="#d6d6d6" stroke-width="0.7"/>
<rect x="480.5" y="630.01" width="91.10" height="12.21" fill="#e5fcff" stroke="#b3b3b3" stroke-width="1.3"/>
<text x="467.80" y="638.22" font-size="5.8" fill="#4d4d4d" text-anchor="end" font-weight="bold">Cluster 21</text>
<path d="M471 648.33H480.5M571.6 648.33H580.5" stroke="#d6d6d6" stroke-width="0.7"/>
<rect x="480.5" y="642.23" width="91.10" height="12.21" fill="#fcffff" stroke="#b3b3b3" stroke-width="1.3"/>
<text x="467.80" y="650.43" font-size="5.8" fill="#4d4d4d" text-anchor="end" font-weight="bold">Cluster 20</text>
<path d="M471 660.55H480.5M571.6 660.55H580.5" stroke="#d6d6d6" stroke-width="0.7"/>
<rect x="480.5" y="654.44" width="91.10" height="12.21" fill="#ffb3b3" stroke="#b3b3b3" stroke-width="1.3"/>
<text x="467.80" y="662.65" font-size="5.8" fill="#4d4d4d" text-anchor="end" font-weight="bold">Cluster 2</text>
<path d="M471 672.76H480.5M571.6 672.76H580.5" stroke="#d6d6d6" stroke-width="0.7"/>
<rect x="480.5" y="666.65" width="91.10" height="12.21" fill="#aaf7ff" stroke="#b3b3b3" stroke-width="1.3"/>
<text x="467.80" y="674.86" font-size="5.8" fill="#4d4d4d" text-anchor="end" font-weight="bold">Cluster 19</text>
<circle cx="524.70" cy="671.46" r="0.85" fill="#000"/>
<circle cx="527.30" cy="671.46" r="0.85" fill="#000"/>
<path d="M471 684.97H480.5M571.6 684.97H580.5" stroke="#d6d6d6" stroke-width="0.7"/>
<rect x="480.5" y="678.87" width="91.10" height="12.21" fill="#f3feff" stroke="#b3b3b3" stroke-width="1.3"/>
<text x="467.80" y="687.07" font-size="5.8" fill="#4d4d4d" text-anchor="end" font-weight="bold">Cluster 18</text>
<path d="M471 697.19H480.5M571.6 697.19H580.5" stroke="#d6d6d6" stroke-width="0.7"/>
<rect x="480.5" y="691.08" width="91.10" height="12.21" fill="#dcfbff" stroke="#b3b3b3" stroke-width="1.3"/>
<text x="467.80" y="699.29" font-size="5.8" fill="#4d4d4d" text-anchor="end" font-weight="bold">Cluster 17</text>
<path d="M471 709.40H480.5M571.6 709.40H580.5" stroke="#d6d6d6" stroke-width="0.7"/>
<rect x="480.5" y="703.29" width="91.10" height="12.21" fill="#fff0f0" stroke="#b3b3b3" stroke-width="1.3"/>
<text x="467.80" y="711.50" font-size="5.8" fill="#4d4d4d" text-anchor="end" font-weight="bold">Cluster 16</text>
<path d="M471 721.61H480.5M571.6 721.61H580.5" stroke="#d6d6d6" stroke-width="0.7"/>
<rect x="480.5" y="715.51" width="91.10" height="12.21" fill="#eefeff" stroke="#b3b3b3" stroke-width="1.3"/>
<text x="467.80" y="723.71" font-size="5.8" fill="#4d4d4d" text-anchor="end" font-weight="bold">Cluster 15</text>
<path d="M471 733.83H480.5M571.6 733.83H580.5" stroke="#d6d6d6" stroke-width="0.7"/>
<rect x="480.5" y="727.72" width="91.10" height="12.21" fill="#aef7ff" stroke="#b3b3b3" stroke-width="1.3"/>
<text x="467.80" y="735.93" font-size="5.8" fill="#4d4d4d" text-anchor="end" font-weight="bold">Cluster 14</text>
<circle cx="524.70" cy="732.53" r="0.85" fill="#000"/>
<circle cx="527.30" cy="732.53" r="0.85" fill="#000"/>
<path d="M471 746.04H480.5M571.6 746.04H580.5" stroke="#d6d6d6" stroke-width="0.7"/>
<rect x="480.5" y="739.93" width="91.10" height="12.21" fill="#effeff" stroke="#b3b3b3" stroke-width="1.3"/>
<text x="467.80" y="748.14" font-size="5.8" fill="#4d4d4d" text-anchor="end" font-weight="bold">Cluster 13</text>
<path d="M471 758.25H480.5M571.6 758.25H580.5" stroke="#d6d6d6" stroke-width="0.7"/>
<rect x="480.5" y="752.15" width="91.10" height="12.21" fill="#defcff" stroke="#b3b3b3" stroke-width="1.3"/>
<text x="467.80" y="760.35" font-size="5.8" fill="#4d4d4d" text-anchor="end" font-weight="bold">Cluster 12</text>
<path d="M471 770.47H480.5M571.6 770.47H580.5" stroke="#d6d6d6" stroke-width="0.7"/>
<rect x="480.5" y="764.36" width="91.10" height="12.21" fill="#c1f9ff" stroke="#b3b3b3" stroke-width="1.3"/>
<text x="467.80" y="772.57" font-size="5.8" fill="#4d4d4d" text-anchor="end" font-weight="bold">Cluster 11</text>
<circle cx="526.00" cy="769.17" r="0.85" fill="#000"/>
<path d="M471 782.68H480.5M571.6 782.68H580.5" stroke="#d6d6d6" stroke-width="0.7"/>
<rect x="480.5" y="776.57" width="91.10" height="12.21" fill="#ffdcdc" stroke="#b3b3b3" stroke-width="1.3"/>
<text x="467.80" y="784.78" font-size="5.8" fill="#4d4d4d" text-anchor="end" font-weight="bold">Cluster 10</text>
<path d="M471 794.89H480.5M571.6 794.89H580.5" stroke="#d6d6d6" stroke-width="0.7"/>
<rect x="480.5" y="788.79" width="91.10" height="12.21" fill="#a2f6ff" stroke="#b3b3b3" stroke-width="1.3"/>
<text x="467.80" y="796.99" font-size="5.8" fill="#4d4d4d" text-anchor="end" font-weight="bold">Cluster 1</text>
<circle cx="523.40" cy="793.59" r="0.85" fill="#000"/>
<circle cx="526.00" cy="793.59" r="0.85" fill="#000"/>
<circle cx="528.60" cy="793.59" r="0.85" fill="#000"/>
<text x="514.00" y="811.30" font-size="7.0" fill="#000" text-anchor="middle">HOXC9</text>
<circle cx="594.40" cy="566.80" r="0.85" fill="#000"/>
<circle cx="597.20" cy="566.80" r="0.85" fill="#000"/>
<circle cx="600.00" cy="566.80" r="0.85" fill="#000"/>
<text x="606.10" y="571.40" font-size="7.7" fill="#000" text-anchor="start">p&lt;0.001</text>
<circle cx="594.20" cy="575.20" r="0.85" fill="#000"/>
<circle cx="597.00" cy="575.20" r="0.85" fill="#000"/>
<text x="602.80" y="579.80" font-size="7.7" fill="#000" text-anchor="start">p&lt;0.01</text>
<circle cx="596.30" cy="583.60" r="0.85" fill="#000"/>
<text x="602.20" y="588.20" font-size="7.7" fill="#000" text-anchor="start">p&lt;0.05</text>
<text x="593.00" y="605.30" font-size="7.7" fill="#000" text-anchor="start">Correlation</text>
<defs><linearGradient id="gc" x1="0" y1="0" x2="0" y2="1"><stop offset="0" stop-color="#ff6262"/><stop offset="0.53" stop-color="#ffffff"/><stop offset="1" stop-color="#a4f3fe"/></linearGradient><linearGradient id="gh" x1="0" y1="0" x2="0" y2="1"><stop offset="0" stop-color="#ff0000"/><stop offset="0.5" stop-color="#c80a80"/><stop offset="1" stop-color="#2a1aff"/></linearGradient></defs>
<rect x="592" y="608.9" width="13" height="62" fill="url(#gc)"/>
<text x="608.80" y="614.10" font-size="6.6" fill="#000" text-anchor="start">0.8</text>
<path d="M592 611.80H594.6M602.4 611.80H605" stroke="#fff" stroke-width="0.6"/>
<text x="608.80" y="628.80" font-size="6.6" fill="#000" text-anchor="start">0.4</text>
<path d="M592 626.50H594.6M602.4 626.50H605" stroke="#fff" stroke-width="0.6"/>
<text x="608.80" y="644.20" font-size="6.6" fill="#000" text-anchor="start">0.0</text>
<path d="M592 641.90H594.6M602.4 641.90H605" stroke="#fff" stroke-width="0.6"/>
<text x="608.80" y="659.20" font-size="6.6" fill="#000" text-anchor="start">−0.4</text>
<path d="M592 656.90H594.6M602.4 656.90H605" stroke="#fff" stroke-width="0.6"/>
<text x="6.10" y="849.20" font-size="16" fill="#000" text-anchor="start" font-weight="bold" stroke="#000" stroke-width="0.45">D</text>
<path d="M75.80 836.50 C79.27 836.55 90.05 836.88 96.60 836.80 C103.15 836.72 108.47 837.03 115.10 836.00 C121.73 834.97 129.32 832.30 136.40 830.60 C143.48 828.90 151.63 826.75 157.60 825.80 C163.57 824.85 166.88 824.90 172.20 824.90 C177.52 824.90 183.08 825.28 189.50 825.80 C195.92 826.32 204.50 827.28 210.70 828.00 C216.90 828.72 222.48 829.35 226.70 830.10 C230.92 830.85 234.45 832.10 236.00 832.50 L236.00 853.70 L75.80 853.70Z" fill="#ef9e00"/>
<path d="M75.80 836.50 C79.27 836.55 90.05 836.88 96.60 836.80 C103.15 836.72 108.47 837.03 115.10 836.00 C121.73 834.97 129.32 832.30 136.40 830.60 C143.48 828.90 151.63 826.75 157.60 825.80 C163.57 824.85 166.88 824.90 172.20 824.90 C177.52 824.90 183.08 825.28 189.50 825.80 C195.92 826.32 204.50 827.28 210.70 828.00 C216.90 828.72 222.48 829.35 226.70 830.10 C230.92 830.85 234.45 832.10 236.00 832.50" fill="none" stroke="#111" stroke-width="0.9"/>
<path d="M288.20 862.00 L292.70 862.00 C292.63 863.03 292.58 865.72 292.30 868.20 C292.02 870.68 291.32 873.98 291.00 876.90 C290.68 879.82 290.40 882.77 290.40 885.70 C290.40 888.63 290.40 891.43 291.00 894.50 C291.60 897.57 292.62 901.03 294.00 904.10 C295.38 907.17 297.40 909.97 299.30 912.90 C301.20 915.83 303.50 918.92 305.40 921.70 C307.30 924.48 309.45 927.27 310.70 929.60 C311.95 931.93 312.47 933.53 312.90 935.70 C313.33 937.87 313.28 940.18 313.30 942.60 C313.32 945.02 312.87 947.80 313.00 950.20 C313.13 952.60 313.28 954.73 314.10 957.00 C314.92 959.27 316.88 961.40 317.90 963.80 C318.92 966.20 320.07 968.87 320.20 971.40 C320.33 973.93 319.83 976.72 318.70 979.00 C317.57 981.28 315.68 982.95 313.40 985.10 C311.12 987.25 307.40 989.88 305.00 991.90 C302.60 993.92 300.45 995.75 299.00 997.20 C297.55 998.65 296.75 1000.03 296.30 1000.60 L288.20 1000.60Z" fill="#0000ff"/>
<path d="M292.70 862.00 C292.63 863.03 292.58 865.72 292.30 868.20 C292.02 870.68 291.32 873.98 291.00 876.90 C290.68 879.82 290.40 882.77 290.40 885.70 C290.40 888.63 290.40 891.43 291.00 894.50 C291.60 897.57 292.62 901.03 294.00 904.10 C295.38 907.17 297.40 909.97 299.30 912.90 C301.20 915.83 303.50 918.92 305.40 921.70 C307.30 924.48 309.45 927.27 310.70 929.60 C311.95 931.93 312.47 933.53 312.90 935.70 C313.33 937.87 313.28 940.18 313.30 942.60 C313.32 945.02 312.87 947.80 313.00 950.20 C313.13 952.60 313.28 954.73 314.10 957.00 C314.92 959.27 316.88 961.40 317.90 963.80 C318.92 966.20 320.07 968.87 320.20 971.40 C320.33 973.93 319.83 976.72 318.70 979.00 C317.57 981.28 315.68 982.95 313.40 985.10 C311.12 987.25 307.40 989.88 305.00 991.90 C302.60 993.92 300.45 995.75 299.00 997.20 C297.55 998.65 296.75 1000.03 296.30 1000.60" fill="none" stroke="#111" stroke-width="0.9"/>
<path d="M68.6 878.20H243.8M68.6 905.70H243.8M68.6 933.20H243.8M68.6 960.70H243.8M68.6 988.20H243.8" stroke="#f3f3f3" stroke-width="0.6" fill="none"/>
<path d="M68.6 864.40H243.8M68.6 891.90H243.8M68.6 919.40H243.8M68.6 946.90H243.8M68.6 974.40H243.8M68.6 1001.90H243.8M84.50 855.4V1007.6M113.50 855.4V1007.6M143.00 855.4V1007.6M172.60 855.4V1007.6M202.00 855.4V1007.6M231.30 855.4V1007.6" stroke="#ececec" stroke-width="0.9" fill="none"/>
<path d="M76.00 894.61 L80.00 896.99 L83.99 899.37 L87.98 901.73 L91.98 904.08 L95.97 906.41 L99.97 908.73 L103.97 911.03 L107.96 913.30 L111.95 915.55 L115.95 917.78 L119.95 919.97 L123.94 922.12 L127.94 924.24 L131.93 926.31 L135.93 928.33 L139.92 930.29 L143.92 932.19 L147.91 934.03 L151.91 935.80 L155.90 937.50 L159.90 939.12 L163.89 940.67 L167.88 942.15 L171.88 943.56 L175.88 944.91 L179.87 946.20 L183.87 947.44 L187.86 948.63 L191.86 949.78 L195.85 950.88 L199.84 951.96 L203.84 953.00 L207.84 954.02 L211.83 955.01 L215.82 955.99 L219.82 956.94 L223.81 957.88 L227.81 958.81 L231.81 959.72 L235.80 960.62 L235.80 1000.58 L231.81 998.20 L227.81 995.83 L223.81 993.48 L219.82 991.14 L215.82 988.81 L211.83 986.51 L207.84 984.22 L203.84 981.96 L199.84 979.72 L195.85 977.52 L191.86 975.34 L187.86 973.21 L183.87 971.12 L179.87 969.08 L175.88 967.09 L171.88 965.16 L167.88 963.29 L163.89 961.49 L159.90 959.76 L155.90 958.10 L151.91 956.52 L147.91 955.01 L143.92 953.57 L139.92 952.19 L135.93 950.87 L131.93 949.61 L127.94 948.40 L123.94 947.24 L119.95 946.11 L115.95 945.02 L111.95 943.97 L107.96 942.94 L103.97 941.93 L99.97 940.95 L95.97 939.99 L91.98 939.04 L87.98 938.11 L83.99 937.19 L80.00 936.29 L76.00 935.39Z" fill="#999" fill-opacity="0.42"/>
<path d="M76.00 915.00L235.80 980.60" stroke="#3366ff" stroke-width="1.6"/>
<circle cx="76.50" cy="861.80" r="1.9" fill="#2a10ff"/>
<circle cx="75.70" cy="930.20" r="1.9" fill="#2a10ff"/>
<circle cx="75.70" cy="935.70" r="1.9" fill="#2a10ff"/>
<circle cx="79.40" cy="937.80" r="1.9" fill="#3a10f0"/>
<circle cx="136.30" cy="933.70" r="1.9" fill="#a020b0"/>
<circle cx="143.30" cy="936.10" r="1.9" fill="#b020a0"/>
<circle cx="163.20" cy="912.20" r="1.9" fill="#d01870"/>
<circle cx="161.80" cy="949.30" r="1.9" fill="#d01870"/>
<circle cx="164.80" cy="966.80" r="1.9" fill="#d81860"/>
<circle cx="177.90" cy="979.40" r="1.9" fill="#e01450"/>
<circle cx="218.30" cy="969.90" r="1.9" fill="#f00a30"/>
<circle cx="219.00" cy="984.10" r="1.9" fill="#f00a30"/>
<circle cx="228.60" cy="972.10" r="1.9" fill="#f50828"/>
<circle cx="232.30" cy="976.10" r="1.9" fill="#f50828"/>
<circle cx="235.80" cy="971.50" r="1.9" fill="#fa0520"/>
<rect x="68.6" y="855.4" width="175.20000000000002" height="152.20000000000005" fill="none" stroke="#7f7f7f" stroke-width="1.0"/>
<text x="65.00" y="866.80" font-size="6.8" fill="#4d4d4d" text-anchor="end">0.90</text>
<path d="M66.19999999999999 864.40H68.6" stroke="#333" stroke-width="0.8"/>
<text x="65.00" y="894.30" font-size="6.8" fill="#4d4d4d" text-anchor="end">0.85</text>
<path d="M66.19999999999999 891.90H68.6" stroke="#333" stroke-width="0.8"/>
<text x="65.00" y="921.80" font-size="6.8" fill="#4d4d4d" text-anchor="end">0.80</text>
<path d="M66.19999999999999 919.40H68.6" stroke="#333" stroke-width="0.8"/>
<text x="65.00" y="949.30" font-size="6.8" fill="#4d4d4d" text-anchor="end">0.75</text>
<path d="M66.19999999999999 946.90H68.6" stroke="#333" stroke-width="0.8"/>
<text x="65.00" y="976.80" font-size="6.8" fill="#4d4d4d" text-anchor="end">0.70</text>
<path d="M66.19999999999999 974.40H68.6" stroke="#333" stroke-width="0.8"/>
<text x="65.00" y="1004.30" font-size="6.8" fill="#4d4d4d" text-anchor="end">0.65</text>
<path d="M66.19999999999999 1001.90H68.6" stroke="#333" stroke-width="0.8"/>
<text x="113.50" y="1016.00" font-size="6.8" fill="#4d4d4d" text-anchor="middle">4</text>
<path d="M113.50 1007.6V1010.0" stroke="#333" stroke-width="0.8"/>
<text x="172.60" y="1016.00" font-size="6.8" fill="#4d4d4d" text-anchor="middle">6</text>
<path d="M172.60 1007.6V1010.0" stroke="#333" stroke-width="0.8"/>
<text x="231.30" y="1016.00" font-size="6.8" fill="#4d4d4d" text-anchor="middle">8</text>
<path d="M231.30 1007.6V1010.0" stroke="#333" stroke-width="0.8"/>
<text x="156.20" y="1025.00" font-size="7.5" fill="#000" text-anchor="middle">HOXC9</text>
<text x="46.80" y="931.30" font-size="7.8" fill="#000" text-anchor="middle" transform="rotate(-90 46.8 931.3)">Cluster 1</text>
<text x="76.2" y="870.6" font-size="7.8" fill="#000"><tspan font-style="italic">R</tspan> = −0.79, <tspan font-style="italic">p</tspan> = 0.00049</text>
<text x="255.80" y="901.40" font-size="7.7" fill="#000" text-anchor="start">HOXC9</text>
<rect x="255.3" y="906" width="12.7" height="61.6" fill="url(#gh)"/>
<text x="272.00" y="910.50" font-size="6.4" fill="#000" text-anchor="start">8</text>
<path d="M255.3 908.20H257.8M265.5 908.20H268" stroke="#fff" stroke-width="0.6"/>
<text x="272.00" y="921.80" font-size="6.4" fill="#000" text-anchor="start">7</text>
<path d="M255.3 919.50H257.8M265.5 919.50H268" stroke="#fff" stroke-width="0.6"/>
<text x="272.00" y="933.10" font-size="6.4" fill="#000" text-anchor="start">6</text>
<path d="M255.3 930.80H257.8M265.5 930.80H268" stroke="#fff" stroke-width="0.6"/>
<text x="272.00" y="944.40" font-size="6.4" fill="#000" text-anchor="start">5</text>
<path d="M255.3 942.10H257.8M265.5 942.10H268" stroke="#fff" stroke-width="0.6"/>
<text x="272.00" y="955.70" font-size="6.4" fill="#000" text-anchor="start">4</text>
<path d="M255.3 953.40H257.8M265.5 953.40H268" stroke="#fff" stroke-width="0.6"/>
<text x="272.00" y="967.00" font-size="6.4" fill="#000" text-anchor="start">3</text>
<path d="M255.3 964.70H257.8M265.5 964.70H268" stroke="#fff" stroke-width="0.6"/>
<text x="322.10" y="848.90" font-size="16" fill="#000" text-anchor="start" font-weight="bold" stroke="#000" stroke-width="0.45">E</text>
<path d="M394.00 838.30 C397.05 838.35 406.52 838.60 412.30 838.60 C418.08 838.60 422.78 838.90 428.70 838.30 C434.62 837.70 441.42 836.32 447.80 835.00 C454.18 833.68 461.08 831.63 467.00 830.40 C472.92 829.17 478.75 828.15 483.30 827.60 C487.85 827.05 489.75 827.05 494.30 827.10 C498.85 827.15 504.23 827.40 510.60 827.90 C516.97 828.40 526.12 829.37 532.50 830.10 C538.88 830.83 544.90 831.62 548.90 832.30 C552.90 832.98 555.23 833.88 556.50 834.20 L556.50 855.00 L394.00 855.00Z" fill="#ef9e00"/>
<path d="M394.00 838.30 C397.05 838.35 406.52 838.60 412.30 838.60 C418.08 838.60 422.78 838.90 428.70 838.30 C434.62 837.70 441.42 836.32 447.80 835.00 C454.18 833.68 461.08 831.63 467.00 830.40 C472.92 829.17 478.75 828.15 483.30 827.60 C487.85 827.05 489.75 827.05 494.30 827.10 C498.85 827.15 504.23 827.40 510.60 827.90 C516.97 828.40 526.12 829.37 532.50 830.10 C538.88 830.83 544.90 831.62 548.90 832.30 C552.90 832.98 555.23 833.88 556.50 834.20" fill="none" stroke="#111" stroke-width="0.9"/>
<path d="M608.80 863.50 L625.10 863.50 C625.68 864.77 627.63 868.33 628.60 871.10 C629.57 873.87 630.37 876.82 630.90 880.10 C631.43 883.38 631.43 887.52 631.80 890.80 C632.17 894.08 632.28 896.67 633.10 899.80 C633.92 902.93 635.58 906.32 636.70 909.60 C637.82 912.88 639.02 916.37 639.80 919.50 C640.58 922.63 641.32 925.45 641.40 928.40 C641.48 931.35 641.23 933.95 640.30 937.20 C639.37 940.45 637.60 944.33 635.80 947.90 C634.00 951.47 631.43 955.02 629.50 958.60 C627.57 962.18 625.83 965.52 624.20 969.40 C622.57 973.28 620.90 978.02 619.70 981.90 C618.50 985.78 617.67 989.42 617.00 992.70 C616.33 995.98 615.92 1000.12 615.70 1001.60 L608.80 1001.60Z" fill="#0000ff"/>
<path d="M625.10 863.50 C625.68 864.77 627.63 868.33 628.60 871.10 C629.57 873.87 630.37 876.82 630.90 880.10 C631.43 883.38 631.43 887.52 631.80 890.80 C632.17 894.08 632.28 896.67 633.10 899.80 C633.92 902.93 635.58 906.32 636.70 909.60 C637.82 912.88 639.02 916.37 639.80 919.50 C640.58 922.63 641.32 925.45 641.40 928.40 C641.48 931.35 641.23 933.95 640.30 937.20 C639.37 940.45 637.60 944.33 635.80 947.90 C634.00 951.47 631.43 955.02 629.50 958.60 C627.57 962.18 625.83 965.52 624.20 969.40 C622.57 973.28 620.90 978.02 619.70 981.90 C618.50 985.78 617.67 989.42 617.00 992.70 C616.33 995.98 615.92 1000.12 615.70 1001.60" fill="none" stroke="#111" stroke-width="0.9"/>
<path d="M385.6 889.90H564.3M385.6 936.40H564.3M385.6 982.80H564.3" stroke="#f3f3f3" stroke-width="0.6" fill="none"/>
<path d="M385.6 866.60H564.3M385.6 913.20H564.3M385.6 959.60H564.3M385.6 1006.00H564.3M402.50 856.5V1008.5M432.50 856.5V1008.5M462.50 856.5V1008.5M492.50 856.5V1008.5M522.50 856.5V1008.5M552.50 856.5V1008.5" stroke="#ececec" stroke-width="0.9" fill="none"/>
<path d="M394.00 956.79 L398.04 954.98 L402.08 953.16 L406.13 951.33 L410.17 949.50 L414.21 947.65 L418.25 945.80 L422.30 943.93 L426.34 942.05 L430.38 940.16 L434.43 938.25 L438.47 936.32 L442.51 934.37 L446.55 932.39 L450.60 930.39 L454.64 928.36 L458.68 926.30 L462.72 924.20 L466.76 922.05 L470.81 919.87 L474.85 917.63 L478.89 915.35 L482.94 913.01 L486.98 910.62 L491.02 908.18 L495.06 905.69 L499.11 903.14 L503.15 900.55 L507.19 897.91 L511.23 895.23 L515.28 892.52 L519.32 889.77 L523.36 886.99 L527.40 884.19 L531.45 881.36 L535.49 878.51 L539.53 875.64 L543.57 872.75 L547.62 869.85 L551.66 866.94 L555.70 864.02 L555.70 892.38 L551.66 894.24 L547.62 896.11 L543.57 897.99 L539.53 899.88 L535.49 901.79 L531.45 903.72 L527.40 905.67 L523.36 907.65 L519.32 909.65 L515.28 911.68 L511.23 913.75 L507.19 915.85 L503.15 917.99 L499.11 920.18 L495.06 922.41 L491.02 924.70 L486.98 927.04 L482.94 929.43 L478.89 931.87 L474.85 934.37 L470.81 936.91 L466.76 939.51 L462.72 942.14 L458.68 944.82 L454.64 947.54 L450.60 950.29 L446.55 953.07 L442.51 955.87 L438.47 958.70 L434.43 961.55 L430.38 964.42 L426.34 967.31 L422.30 970.21 L418.25 973.12 L414.21 976.05 L410.17 978.98 L406.13 981.93 L402.08 984.88 L398.04 987.84 L394.00 990.81Z" fill="#999" fill-opacity="0.42"/>
<path d="M394.00 973.80L555.70 878.20" stroke="#3366ff" stroke-width="1.6"/>
<circle cx="394.10" cy="952.40" r="1.9" fill="#2a10ff"/>
<circle cx="394.10" cy="966.10" r="1.9" fill="#2a10ff"/>
<circle cx="397.40" cy="971.80" r="1.9" fill="#5018e0"/>
<circle cx="394.10" cy="1001.80" r="1.9" fill="#2a10ff"/>
<circle cx="455.20" cy="913.20" r="1.9" fill="#b020b0"/>
<circle cx="462.30" cy="926.10" r="1.9" fill="#b020a0"/>
<circle cx="484.10" cy="922.90" r="1.9" fill="#d01870"/>
<circle cx="482.80" cy="932.30" r="1.9" fill="#d01870"/>
<circle cx="481.50" cy="935.50" r="1.9" fill="#d01870"/>
<circle cx="497.30" cy="928.10" r="1.9" fill="#e01450"/>
<circle cx="539.40" cy="868.20" r="1.9" fill="#f50828"/>
<circle cx="549.30" cy="866.90" r="1.9" fill="#f50828"/>
<circle cx="553.10" cy="878.00" r="1.9" fill="#f00a30"/>
<circle cx="538.50" cy="885.70" r="1.9" fill="#f00a30"/>
<circle cx="556.60" cy="888.20" r="1.9" fill="#fa0520"/>
<rect x="385.6" y="856.5" width="178.69999999999993" height="152.0" fill="none" stroke="#7f7f7f" stroke-width="1.0"/>
<text x="382.00" y="869.00" font-size="6.8" fill="#4d4d4d" text-anchor="end">0.9</text>
<path d="M383.20000000000005 866.60H385.6" stroke="#333" stroke-width="0.8"/>
<text x="382.00" y="915.60" font-size="6.8" fill="#4d4d4d" text-anchor="end">0.8</text>
<path d="M383.20000000000005 913.20H385.6" stroke="#333" stroke-width="0.8"/>
<text x="382.00" y="962.00" font-size="6.8" fill="#4d4d4d" text-anchor="end">0.7</text>
<path d="M383.20000000000005 959.60H385.6" stroke="#333" stroke-width="0.8"/>
<text x="382.00" y="1008.40" font-size="6.8" fill="#4d4d4d" text-anchor="end">0.6</text>
<path d="M383.20000000000005 1006.00H385.6" stroke="#333" stroke-width="0.8"/>
<text x="432.50" y="1016.90" font-size="6.8" fill="#4d4d4d" text-anchor="middle">4</text>
<path d="M432.50 1008.5V1010.9" stroke="#333" stroke-width="0.8"/>
<text x="492.50" y="1016.90" font-size="6.8" fill="#4d4d4d" text-anchor="middle">6</text>
<path d="M492.50 1008.5V1010.9" stroke="#333" stroke-width="0.8"/>
<text x="552.50" y="1016.90" font-size="6.8" fill="#4d4d4d" text-anchor="middle">8</text>
<path d="M552.50 1008.5V1010.9" stroke="#333" stroke-width="0.8"/>
<text x="474.95" y="1025.00" font-size="7.5" fill="#000" text-anchor="middle">HOXC9</text>
<text x="369.20" y="931.50" font-size="7.8" fill="#000" text-anchor="middle" transform="rotate(-90 369.2 931.5)">Cluster 5</text>
<text x="393.8" y="876.0" font-size="7.8" fill="#000"><tspan font-style="italic">R</tspan> = 0.84, <tspan font-style="italic">p</tspan> = 1.9e−05</text>
<text x="576.50" y="903.00" font-size="7.7" fill="#000" text-anchor="start">HOXC9</text>
<rect x="576.1" y="907.7" width="13.1" height="62.1" fill="url(#gh)"/>
<text x="592.70" y="912.00" font-size="6.4" fill="#000" text-anchor="start">8</text>
<path d="M576.1 909.70H578.6M586.7 909.70H589.2" stroke="#fff" stroke-width="0.6"/>
<text x="592.70" y="923.36" font-size="6.4" fill="#000" text-anchor="start">7</text>
<path d="M576.1 921.06H578.6M586.7 921.06H589.2" stroke="#fff" stroke-width="0.6"/>
<text x="592.70" y="934.72" font-size="6.4" fill="#000" text-anchor="start">6</text>
<path d="M576.1 932.42H578.6M586.7 932.42H589.2" stroke="#fff" stroke-width="0.6"/>
<text x="592.70" y="946.08" font-size="6.4" fill="#000" text-anchor="start">5</text>
<path d="M576.1 943.78H578.6M586.7 943.78H589.2" stroke="#fff" stroke-width="0.6"/>
<text x="592.70" y="957.44" font-size="6.4" fill="#000" text-anchor="start">4</text>
<path d="M576.1 955.14H578.6M586.7 955.14H589.2" stroke="#fff" stroke-width="0.6"/>
<text x="592.70" y="968.80" font-size="6.4" fill="#000" text-anchor="start">3</text>
<path d="M576.1 966.50H578.6M586.7 966.50H589.2" stroke="#fff" stroke-width="0.6"/>
</svg></body></html>
